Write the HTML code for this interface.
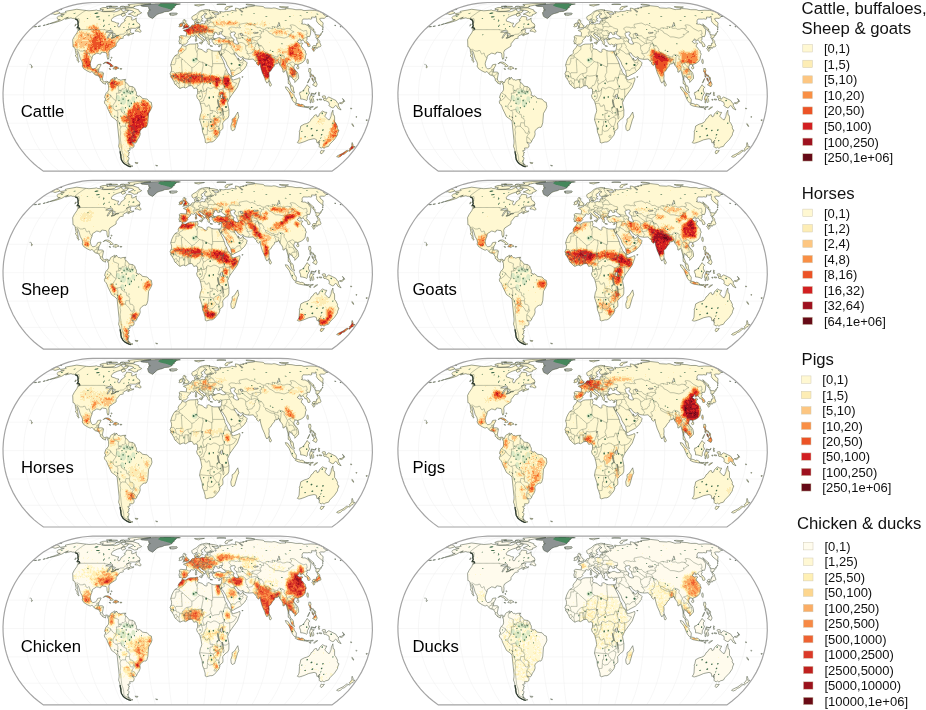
<!DOCTYPE html>
<html><head><meta charset="utf-8"><style>
html,body{margin:0;padding:0;background:#fff;}
body{width:926px;height:710px;overflow:hidden;position:relative;font-family:"Liberation Sans",sans-serif;}
svg{position:absolute;left:0;top:0;filter:blur(0.3px);}
.lb{font-family:"Liberation Sans",sans-serif;font-size:16.7px;fill:#000;}
.lg{font-family:"Liberation Sans",sans-serif;fill:#111;}
</style></head><body>
<svg width="926" height="710" viewBox="0 0 926 710">
<defs>
<path id="frame" d="M92.4 -92.3L100.2 -92L107.6 -91.1L114.6 -89.6L121.3 -87.7L127.5 -85.4L131.5 -83.6L135.4 -81.7L140.8 -78.6L147.6 -74L152.3 -70.3L158.1 -64.9L163.2 -59.2L167.9 -53.2L171.9 -46.8L175.4 -40.3L178.4 -33.6L180.8 -26.7L182.6 -19.7L183.8 -12.6L184.5 -5.4L184.7 1.8L184.3 9L183.3 16.1L181.7 23.2L179.6 30.2L177 37L173.8 43.6L170 50L165.6 56.2L160.7 62.1L155.2 67.6L149.2 72.8L144.3 76.4L-144.3 76.4L-149.2 72.8L-153.8 69L-158.1 64.9L-162 60.6L-165.6 56.2L-168.9 51.6L-171.9 46.8L-174.6 42L-176.2 38.6L-178.4 33.6L-179.6 30.2L-181.3 24.9L-182.2 21.4L-183.3 16.1L-183.8 12.6L-184.4 7.2L-184.6 3.6L-184.7 -1.8L-184.4 -7.2L-184.1 -10.8L-183.3 -16.1L-182.6 -19.7L-181.3 -24.9L-180.2 -28.4L-178.4 -33.6L-177 -37L-174.6 -42L-172.9 -45.2L-170 -50L-167.9 -53.2L-164.5 -57.7L-162 -60.6L-158.1 -64.9L-155.2 -67.6L-149.2 -72.8L-144.3 -76.4L-140.8 -78.6L-133.5 -82.7L-127.5 -85.4L-123.4 -87L-119.1 -88.4L-114.6 -89.6L-110 -90.6L-105.2 -91.5L-100.2 -92L-95 -92.3Z"/>
<path id="grat" d="M-166.8 54.7L166.8 54.7M-180.2 28.4L180.2 28.4M-184.7 0L184.7 0M-180.2 -28.4L180.2 -28.4M-166.8 -54.7L166.8 -54.7M-144.3 -76.4L144.3 -76.4M-112.3 -90.2L112.3 -90.2M-128.3 76.4L-134 71.5L-139.3 66.3L-144 60.6L-148.2 54.7L-152 48.4L-155.2 42L-158 35.3L-160.2 28.4L-161.9 21.4L-163.2 14.3L-163.9 7.2L-164.2 0L-163.9 -7.2L-163.2 -14.3L-161.9 -21.4L-160.2 -28.4L-158 -35.3L-155.2 -42L-152 -48.4L-148.2 -54.7L-144 -60.6L-139.3 -66.3L-134 -71.5L-128.3 -76.4L-122 -80.7L-115.2 -84.5L-107.8 -87.7L-99.9 -90.2L-91.3 -91.8L-82.1 -92.3M-112.2 76.4L-117.3 71.5L-121.9 66.3L-126 60.6L-129.7 54.7L-133 48.4L-135.8 42L-138.2 35.3L-140.2 28.4L-141.7 21.4L-142.8 14.3L-143.4 7.2L-143.7 0L-143.4 -7.2L-142.8 -14.3L-141.7 -21.4L-140.2 -28.4L-138.2 -35.3L-135.8 -42L-133 -48.4L-129.7 -54.7L-126 -60.6L-121.9 -66.3L-117.3 -71.5L-112.2 -76.4L-106.7 -80.7L-100.8 -84.5L-94.3 -87.7L-87.4 -90.2L-79.9 -91.8L-71.8 -92.3M-96.2 76.4L-100.5 71.5L-104.4 66.3L-108 60.6L-111.2 54.7L-114 48.4L-116.4 42L-118.5 35.3L-120.1 28.4L-121.5 21.4L-122.4 14.3L-122.9 7.2L-123.1 0L-122.9 -7.2L-122.4 -14.3L-121.5 -21.4L-120.1 -28.4L-118.5 -35.3L-116.4 -42L-114 -48.4L-111.2 -54.7L-108 -60.6L-104.4 -66.3L-100.5 -71.5L-96.2 -76.4L-91.5 -80.7L-86.4 -84.5L-80.8 -87.7L-74.9 -90.2L-68.5 -91.8L-61.6 -92.3M-80.2 76.4L-83.8 71.5L-87 66.3L-90 60.6L-92.6 54.7L-95 48.4L-97 42L-98.7 35.3L-100.1 28.4L-101.2 21.4L-102 14.3L-102.5 7.2L-102.6 0L-102.5 -7.2L-102 -14.3L-101.2 -21.4L-100.1 -28.4L-98.7 -35.3L-97 -42L-95 -48.4L-92.6 -54.7L-90 -60.6L-87 -66.3L-83.8 -71.5L-80.2 -76.4L-76.2 -80.7L-72 -84.5L-67.4 -87.7L-62.4 -90.2L-57.1 -91.8L-51.3 -92.3M-64.1 76.4L-67 71.5L-69.6 66.3L-72 60.6L-74.1 54.7L-76 48.4L-77.6 42L-79 35.3L-80.1 28.4L-81 21.4L-81.6 14.3L-82 7.2L-82.1 0L-82 -7.2L-81.6 -14.3L-81 -21.4L-80.1 -28.4L-79 -35.3L-77.6 -42L-76 -48.4L-74.1 -54.7L-72 -60.6L-69.6 -66.3L-67 -71.5L-64.1 -76.4L-61 -80.7L-57.6 -84.5L-53.9 -87.7L-49.9 -90.2L-45.7 -91.8L-41 -92.3M-48.1 76.4L-50.3 71.5L-52.2 66.3L-54 60.6L-55.6 54.7L-57 48.4L-58.2 42L-59.2 35.3L-60.1 28.4L-60.7 21.4L-61.2 14.3L-61.5 7.2L-61.6 0L-61.5 -7.2L-61.2 -14.3L-60.7 -21.4L-60.1 -28.4L-59.2 -35.3L-58.2 -42L-57 -48.4L-55.6 -54.7L-54 -60.6L-52.2 -66.3L-50.3 -71.5L-48.1 -76.4L-45.7 -80.7L-43.2 -84.5L-40.4 -87.7L-37.4 -90.2L-34.2 -91.8L-30.8 -92.3M-32.1 76.4L-33.5 71.5L-34.8 66.3L-36 60.6L-37.1 54.7L-38 48.4L-38.8 42L-39.5 35.3L-40 28.4L-40.5 21.4L-40.8 14.3L-41 7.2L-41 0L-41 -7.2L-40.8 -14.3L-40.5 -21.4L-40 -28.4L-39.5 -35.3L-38.8 -42L-38 -48.4L-37.1 -54.7L-36 -60.6L-34.8 -66.3L-33.5 -71.5L-32.1 -76.4L-30.5 -80.7L-28.8 -84.5L-26.9 -87.7L-25 -90.2L-22.8 -91.8L-20.5 -92.3M-16 76.4L-16.8 71.5L-17.4 66.3L-18 60.6L-18.5 54.7L-19 48.4L-19.4 42L-19.7 35.3L-20 28.4L-20.2 21.4L-20.4 14.3L-20.5 7.2L-20.5 0L-20.5 -7.2L-20.4 -14.3L-20.2 -21.4L-20 -28.4L-19.7 -35.3L-19.4 -42L-19 -48.4L-18.5 -54.7L-18 -60.6L-17.4 -66.3L-16.8 -71.5L-16 -76.4L-15.2 -80.7L-14.4 -84.5L-13.5 -87.7L-12.5 -90.2L-11.4 -91.8L-10.3 -92.3M0 76.4L0 71.5L0 66.3L0 60.6L0 54.7L0 48.4L0 42L0 35.3L0 28.4L0 21.4L0 14.3L0 7.2L0 0L0 -7.2L0 -14.3L0 -21.4L0 -28.4L0 -35.3L0 -42L0 -48.4L0 -54.7L0 -60.6L0 -66.3L0 -71.5L0 -76.4L0 -80.7L0 -84.5L0 -87.7L0 -90.2L0 -91.8L0 -92.3M16 76.4L16.8 71.5L17.4 66.3L18 60.6L18.5 54.7L19 48.4L19.4 42L19.7 35.3L20 28.4L20.2 21.4L20.4 14.3L20.5 7.2L20.5 0L20.5 -7.2L20.4 -14.3L20.2 -21.4L20 -28.4L19.7 -35.3L19.4 -42L19 -48.4L18.5 -54.7L18 -60.6L17.4 -66.3L16.8 -71.5L16 -76.4L15.2 -80.7L14.4 -84.5L13.5 -87.7L12.5 -90.2L11.4 -91.8L10.3 -92.3M32.1 76.4L33.5 71.5L34.8 66.3L36 60.6L37.1 54.7L38 48.4L38.8 42L39.5 35.3L40 28.4L40.5 21.4L40.8 14.3L41 7.2L41 0L41 -7.2L40.8 -14.3L40.5 -21.4L40 -28.4L39.5 -35.3L38.8 -42L38 -48.4L37.1 -54.7L36 -60.6L34.8 -66.3L33.5 -71.5L32.1 -76.4L30.5 -80.7L28.8 -84.5L26.9 -87.7L25 -90.2L22.8 -91.8L20.5 -92.3M48.1 76.4L50.3 71.5L52.2 66.3L54 60.6L55.6 54.7L57 48.4L58.2 42L59.2 35.3L60.1 28.4L60.7 21.4L61.2 14.3L61.5 7.2L61.6 0L61.5 -7.2L61.2 -14.3L60.7 -21.4L60.1 -28.4L59.2 -35.3L58.2 -42L57 -48.4L55.6 -54.7L54 -60.6L52.2 -66.3L50.3 -71.5L48.1 -76.4L45.7 -80.7L43.2 -84.5L40.4 -87.7L37.4 -90.2L34.2 -91.8L30.8 -92.3M64.1 76.4L67 71.5L69.6 66.3L72 60.6L74.1 54.7L76 48.4L77.6 42L79 35.3L80.1 28.4L81 21.4L81.6 14.3L82 7.2L82.1 0L82 -7.2L81.6 -14.3L81 -21.4L80.1 -28.4L79 -35.3L77.6 -42L76 -48.4L74.1 -54.7L72 -60.6L69.6 -66.3L67 -71.5L64.1 -76.4L61 -80.7L57.6 -84.5L53.9 -87.7L49.9 -90.2L45.7 -91.8L41 -92.3M80.2 76.4L83.8 71.5L87 66.3L90 60.6L92.6 54.7L95 48.4L97 42L98.7 35.3L100.1 28.4L101.2 21.4L102 14.3L102.5 7.2L102.6 0L102.5 -7.2L102 -14.3L101.2 -21.4L100.1 -28.4L98.7 -35.3L97 -42L95 -48.4L92.6 -54.7L90 -60.6L87 -66.3L83.8 -71.5L80.2 -76.4L76.2 -80.7L72 -84.5L67.4 -87.7L62.4 -90.2L57.1 -91.8L51.3 -92.3M96.2 76.4L100.5 71.5L104.4 66.3L108 60.6L111.2 54.7L114 48.4L116.4 42L118.5 35.3L120.1 28.4L121.5 21.4L122.4 14.3L122.9 7.2L123.1 0L122.9 -7.2L122.4 -14.3L121.5 -21.4L120.1 -28.4L118.5 -35.3L116.4 -42L114 -48.4L111.2 -54.7L108 -60.6L104.4 -66.3L100.5 -71.5L96.2 -76.4L91.5 -80.7L86.4 -84.5L80.8 -87.7L74.9 -90.2L68.5 -91.8L61.6 -92.3M112.2 76.4L117.3 71.5L121.9 66.3L126 60.6L129.7 54.7L133 48.4L135.8 42L138.2 35.3L140.2 28.4L141.7 21.4L142.8 14.3L143.4 7.2L143.7 0L143.4 -7.2L142.8 -14.3L141.7 -21.4L140.2 -28.4L138.2 -35.3L135.8 -42L133 -48.4L129.7 -54.7L126 -60.6L121.9 -66.3L117.3 -71.5L112.2 -76.4L106.7 -80.7L100.8 -84.5L94.3 -87.7L87.4 -90.2L79.9 -91.8L71.8 -92.3M128.3 76.4L134 71.5L139.3 66.3L144 60.6L148.2 54.7L152 48.4L155.2 42L158 35.3L160.2 28.4L161.9 21.4L163.2 14.3L163.9 7.2L164.2 0L163.9 -7.2L163.2 -14.3L161.9 -21.4L160.2 -28.4L158 -35.3L155.2 -42L152 -48.4L148.2 -54.7L144 -60.6L139.3 -66.3L134 -71.5L128.3 -76.4L122 -80.7L115.2 -84.5L107.8 -87.7L99.9 -90.2L91.3 -91.8L82.1 -92.3" fill="none" stroke="#ececec" stroke-width="0.45"/>
<path id="land" d="M-81.4 -88.4L-79.1 -88.2L-75.8 -88.5L-76.9 -88.9ZM-64.9 -88L-64 -88.5L-65.8 -88.6L-67.5 -88ZM-75.1 -88.5L-78.8 -87.7L-73 -87.6L-70.2 -88L-70.2 -88.4ZM-66 -86.6L-66 -85.9L-63.3 -86L-62 -87L-63.9 -87.1ZM-70.4 -86.6L-71.2 -85.9L-68.1 -85.9L-66.6 -86.7L-67.6 -87.1ZM-81.6 -87.3L-84.8 -87.2L-87.7 -86.1L-87.6 -85.3L-84.2 -85.4L-85.7 -84L-82.8 -83.4L-76.8 -83.6L-72.9 -84.4L-71 -86.3L-75.7 -86.8L-80.9 -86.2L-79.8 -86.8ZM-127.7 -85.1L-126.4 -85.2L-125.7 -85.3L-125.7 -85.5L-126.8 -85.5ZM-134.9 -81L-132.7 -80.2L-127.8 -81.6L-127.9 -82.3L-129 -82.7L-129.7 -83.4L-131.3 -83.7L-136.5 -81.1L-136.5 -80.7ZM-63.2 -81.7L-65.6 -81.1L-66.5 -79.6L-65.1 -78.3L-62.1 -79.7ZM-141.3 -69.9L-139.4 -70.6L-138.6 -71L-141.2 -70.2ZM-112.8 -68.6L-111.3 -70.5L-112.2 -70.6ZM-142.3 -69.7L-142.4 -69.9L-144.4 -69.4L-144.5 -69.1ZM-149.5 -68.5L-149.7 -68.2L-147.1 -68.8L-148.7 -68.6ZM-153.5 -67.9L-151.1 -68.1L-151.1 -68.3L-153.3 -68.2ZM-154.2 -68L-153.9 -68.3L-154.9 -67.9ZM-111.1 -67.1L-109.7 -65L-108.7 -64.6L-109.8 -64.5L-110.8 -62L-113.4 -58.3L-115 -55.2L-114.7 -47.8L-113.8 -47.7L-113 -47L-112.5 -45.5L-112.1 -42.4L-111.4 -40L-112.6 -39L-111.1 -37.7L-110.5 -36.4L-110.7 -34.7L-109.4 -33.2L-109.2 -32.4L-108.6 -33.2L-109.2 -34.2L-109.5 -35.8L-110.3 -41.3L-110.8 -43L-110.5 -44.3L-109.3 -42.6L-107.4 -36.1L-105.6 -32.8L-105.1 -30.5L-105.2 -29.3L-105.7 -29L-104 -26.1L-100.8 -24L-97.5 -22.4L-96.1 -23.1L-95.4 -23.1L-92.8 -20L-89 -18.8L-87.3 -15.8L-87.4 -14.3L-86.4 -13.8L-85.5 -12.3L-84.6 -11.6L-82.2 -10.5L-82.2 -11.8L-81.2 -12.8L-80.2 -11.8L-79.2 -9.3L-79 -5.6L-79.6 -3.7L-81.7 -1.4L-82.8 1.4L-83 3.2L-82.1 3.6L-82.3 4.9L-83.3 6.8L-83 8.6L-81.8 9.8L-80.7 11.6L-80.1 13.6L-76.1 21.9L-73.1 24L-70.6 26.3L-68.6 45.9L-68.6 48.4L-69.1 51.6L-68 54.4L-67.4 58.3L-66.6 59.5L-66.7 61.2L-67.3 62.4L-66.2 63.5L-66.4 64.6L-64.8 67.4L-63.3 69.1L-59 71.5L-57.3 71.9L-56.2 71.8L-54.7 71.2L-55.9 71.1L-58 69.9L-58.6 69.1L-59 69.9L-60.1 69.3L-58.5 68.7L-59.5 68L-59.5 66.5L-58.5 63L-60.4 61.7L-58.8 60.6L-59 58.4L-58 57.8L-59 57.5L-59.9 55.9L-57.5 55.3L-58.1 53.2L-55 53.1L-53.8 52.2L-53.5 50.1L-54.4 48.8L-55.6 47.9L-55.8 47.3L-53.4 48.3L-52.3 48.3L-51.6 47.9L-50.1 44.7L-48.6 42.6L-47.6 40.1L-47.5 38.8L-47.8 37.2L-47.3 35.7L-45.8 33.9L-44.4 33L-42.9 32.4L-41.7 32.6L-40.8 31.2L-39.8 27.7L-39.1 18.6L-36.4 13.9L-35.7 11.6L-36.4 7.5L-38.1 7L-40.5 4.3L-45.4 3.6L-45.7 2.9L-48.2 1L-49.8 1.9L-49.8 0.9L-51.8 0.3L-51.2 -0.7L-51.3 -2.6L-52.3 -4.3L-52.7 -6.2L-54.8 -8L-58.4 -8.6L-61.1 -11.9L-62.3 -12.3L-63 -14.5L-62.2 -14.5L-62.1 -15.5L-63.1 -15.3L-63.1 -15L-63.2 -15.3L-65.4 -15.1L-66.8 -14.5L-68.3 -15.2L-69.3 -15.1L-70.7 -16.5L-71.2 -17.5L-71.4 -16.6L-72.3 -16.1L-72.9 -15.1L-73.1 -15.8L-72.5 -16.9L-73.1 -17.8L-74.3 -16.5L-76.2 -15.8L-77 -14.9L-78.5 -11.8L-79.6 -13.2L-81.5 -13.5L-83.2 -12.8L-84.7 -14.3L-85.3 -15.8L-84.2 -21.4L-84.9 -22.6L-86.9 -22.8L-89.4 -22.6L-88.6 -26.3L-86.7 -29.9L-86.7 -30.6L-89.5 -30.2L-90.3 -29.8L-90.7 -28.1L-92.4 -26.5L-94.9 -25.8L-96.4 -27.3L-97.2 -29.5L-97.4 -31.5L-96.7 -33.9L-95.7 -36.5L-95.2 -39L-91.1 -41.6L-89.4 -41.4L-88.1 -40.8L-86.8 -40.8L-86.5 -42.2L-85.2 -42.6L-81.5 -42L-80.8 -40.8L-80.7 -37.9L-79.8 -35.4L-78.9 -36.4L-78.6 -40L-78.9 -42.4L-78 -44.6L-71.6 -48.7L-71.5 -51.1L-68.6 -54.7L-68.3 -55.4L-67.1 -56.1L-64.8 -56.5L-64.2 -56.9L-64.9 -57.5L-63.7 -59.1L-59.3 -60.9L-57.8 -61L-59.4 -60.2L-59.9 -59.2L-59.6 -58.8L-57.4 -60.2L-54.8 -60.9L-53.7 -61.8L-54.7 -61.3L-57.2 -62L-57.5 -62.9L-57.4 -64.1L-56.6 -65L-58.2 -65.3L-61.5 -64.2L-57.8 -66.5L-52.1 -66.5L-50 -67.6L-48.2 -68L-47.7 -69L-48.4 -71L-50.2 -72L-51 -73L-51.6 -75L-51.4 -76.7L-53.5 -75.2L-55.8 -74.6L-56.2 -75.4L-55.6 -77.3L-56.7 -78L-61 -78.5L-61.8 -76.8L-63.4 -75L-62.8 -74L-64.1 -72.5L-66.4 -71L-68 -67.9L-69.4 -67.7L-70.1 -69.3L-68.9 -71.6L-71 -71.8L-73.3 -72.9L-76.1 -73.6L-76.3 -75.2L-74.6 -77.4L-70.4 -79.3L-67.1 -80.3L-64.6 -81.9L-62.4 -81.8L-60.4 -82.7L-59.2 -84.4L-61.3 -84.4L-64.3 -83.3L-65.9 -84.2L-66.2 -85.8L-68.8 -84.2L-70.9 -83.3L-73.1 -82.9L-76.5 -83.2L-84.8 -83.1L-87.2 -84L-89.8 -84.2L-91.4 -84.9L-92.8 -84.5L-98.8 -84L-110.9 -85.5L-121.1 -83.7L-122.5 -83.3L-121.4 -82.2L-127.2 -81.2L-126.8 -80.3L-123.4 -80.3L-124 -79.9L-129.3 -78.6L-130.9 -77.1L-130 -76.3L-129.7 -75.2L-127.4 -75.2L-130.6 -73.7L-138.3 -71L-132.3 -72.3L-128.5 -73.5L-125.7 -74.5L-122.6 -76.4L-119.3 -77.5L-121.1 -76.8L-122.3 -75.6L-116.7 -77L-115.4 -76.4L-113.8 -76.4L-112.5 -75.9L-111.6 -75.1L-110.2 -74.5L-109.5 -71.7L-109.8 -70L-109.2 -69L-110.2 -67.4L-108.8 -66.8L-107.8 -65.2L-108.5 -64.6L-109 -66.4L-110 -67ZM-75.4 -62.4L-82 -62.6L-77.9 -64.5L-76 -64.8L-74.9 -63.5ZM-75 -60.8L-75.8 -61.7L-74.6 -61.9L-72.2 -60.9L-74.3 -58.5L-75.1 -58.3L-74.7 -59.5L-75.6 -59.5ZM-79.7 -56.7L-80.7 -56.7L-78.7 -60.6L-77.4 -61.7L-76.1 -61.6L-77.4 -60.6ZM-69.3 -58.9L-72.6 -58.7L-71.9 -59.1L-69.1 -59.6ZM-74.8 -56.7L-76.7 -56.6L-72 -58.2L-73.9 -57.2ZM-69.5 23.3L-70.1 23.1L-70.8 22.3L-70.7 21.9ZM-76.8 -37.2L-76 -36.5L-75.6 -37.4L-76.5 -37.7ZM-77.4 -35L-77.3 -33.9L-76.9 -34.1L-77.2 -35.4ZM-157.3 -30.4L-157.8 -30.6L-157.8 -30.2ZM-78.6 -30.5L-77.2 -29.3L-77.8 -28.1L-75.1 -28.3L-74.3 -28.7L-77.6 -31.6L-79.9 -32.7L-81.8 -32.7L-83.5 -32.1L-84.6 -31L-81.9 -32.1ZM-156.5 -29.8L-156.4 -29.3L-155.9 -29.5ZM-155.3 -28.1L-156 -28.7L-156.4 -27.7L-156.2 -26.9L-155.2 -27.7ZM-68.6 -26.5L-70.8 -28.1L-72.9 -28.3L-74.8 -25.9L-73.2 -25.8L-71.9 -25.1L-70.3 -26.2ZM-66.1 -25.6L-65.9 -26.2L-67.5 -26.3L-67.6 -25.6ZM-77.4 -25.4L-76.8 -25.6L-78.7 -26.2L-78.6 -25.9ZM29.1 -90.4L38.3 -90.4L36.5 -90.7L31.6 -90.8ZM-59.8 -90L-58.4 -89.4L-57.6 -89.5L-58.6 -88.6L-63.8 -88.3L-62.3 -87.5L-54.3 -87.4L-53 -88.4L-54 -88.4L-47.6 -89.7L-36.6 -91L-44.4 -91.3L-50.8 -91.1L-59.6 -90.3ZM60.3 -89.7L67.1 -89.5L63.2 -90.3L59.9 -90.6L58.2 -90.4ZM12.8 -89.4L16.8 -90.2L6.9 -90L7 -89.5L11.2 -88.6ZM41 -87.1L44.8 -88.5L44.8 -88.8L39.3 -88.2L38 -87.4L37.1 -85.5L37.8 -85L39.8 -85.2L40.1 -86.2ZM-24.8 -91.3L-36.3 -90.8L-46.9 -89.4L-46.8 -89L-45.5 -88.5L-40 -88.2L-39 -87.4L-38.7 -85.2L-37.2 -84.9L-39.1 -84.2L-38.8 -83.4L-40.1 -82.2L-39.7 -80.1L-39.1 -78.6L-38.3 -77.7L-36.6 -77.1L-35.3 -76.2L-30.7 -80.3L-28.5 -81.2L-25.5 -81.9L-22.9 -83.1L-19.1 -83.4L-15.7 -84.9L-14.9 -86.5L-13.2 -87.4L-13.6 -88.3L-12 -89L-12 -89.8L-10.5 -90.4L-7.3 -90.8L-14.8 -91.3ZM-46.2 -82.3L-48.7 -83.4L-48.7 -84.8L-54.9 -86.9L-59.2 -86.8L-62.7 -86.2L-62.6 -85.2L-55.8 -84.2L-53.8 -83.1L-59.4 -80.6L-57.1 -80.3L-53.3 -78.4L-50.2 -79L-50.2 -80.3L-48.5 -80.6L-46.3 -81.7ZM-14.5 -79.4L-11.1 -80.2L-10.3 -80.9L-10.9 -81.8L-16.5 -81.8L-18.2 -81.3L-17.1 -81.1L-18.3 -80.6L-16.9 -79.9L-17.5 -79.7ZM14.8 -74.4L15.1 -73.4L15.5 -73.9ZM10.4 -71.8L10.5 -72.5L9.1 -72.4L9.4 -71.7ZM-5 -66.4L1.2 -67.5L0.8 -67.9L1.5 -69L1.1 -69.4L0.3 -69.4L-0.5 -71L-2.2 -72.5L-1.5 -74L-3.1 -74.1L-2.5 -74.9L-2.8 -75.2L-4.1 -75.1L-4.7 -74L-4.8 -71.8L-4 -72.4L-4.2 -71.4L-2.9 -71.4L-2.5 -69.9L-3.9 -69.8L-3.5 -69L-4.5 -68.3L-2.6 -67.9L-3.6 -67.6ZM-7.1 -71.5L-7.2 -70.8L-8.4 -70.7L-8.5 -70L-7.7 -69.6L-8.9 -68.5L-8.4 -67.8L-5.5 -68.6L-4.8 -71.1L-5 -71.7L-6.1 -71.9ZM-47.1 -64.6L-48.8 -66.2L-47.7 -68L-49.6 -67L-52.3 -64.5L-52.5 -63.6L-49.6 -63.6L-48.9 -62.8L-47.2 -62.6L-46.6 -63.5ZM8.6 -58.3L7.8 -58.2L7.9 -57L8.5 -56.4L8.7 -57.1ZM7.6 -55.9L7.8 -53.5L9 -53.7L9 -56ZM12.4 -52.5L11.6 -52L11.7 -51.7L14.2 -50.6L14.2 -51.6L14.6 -52.6ZM22.3 -48.8L24.7 -48.4L24.9 -48.8L22.3 -49.2ZM30.8 -48.1L31.4 -47.9L32.3 -48.4L32.8 -49.3L31.3 -49L30.7 -48.4ZM34 -39.3L34.9 -38.5L37.7 -34.1L38.8 -32L39.1 -30.5L43 -24.1L44.1 -18.2L45.7 -18.3L46.2 -18.9L52.8 -22.3L57.1 -26.5L57.8 -28L58.8 -29.1L58.7 -29.9L59.5 -31.9L58.1 -33.4L56.1 -34.5L55.5 -36L55.4 -37.2L53.8 -34.6L52.1 -34.2L50.8 -36.5L50.4 -36.8L50.9 -35.7L50.7 -34.6L50.2 -35L49.2 -37.2L47.9 -38.8L46.6 -41L47.1 -41.8L48.5 -42L50.1 -39.3L53 -37.4L54 -37.6L55.2 -38.2L57 -36.1L61.5 -35.4L65.6 -35.8L66.7 -34.2L68 -33.2L68.8 -32.3L69.6 -32.3L68.7 -31.6L69.9 -29.9L71 -29.4L71.9 -30.2L72.3 -31.5L73.1 -27L74.6 -22.1L77.2 -16.2L77.7 -14.2L79.2 -11.6L79.9 -12.6L80.6 -12.9L81.5 -14.8L81.2 -16.8L81.5 -18.8L81.2 -22.1L82 -23.1L82.9 -23.7L84.8 -26.8L86.7 -28.8L86.8 -30.4L90.1 -31.2L90.4 -32.3L91.4 -31.6L92.2 -29.8L94.4 -26.8L95.2 -24.9L95.2 -22.8L96.4 -22.6L97 -24L97.8 -24.2L98.5 -23.5L100.6 -16.5L100.5 -11.3L101.2 -11.3L102 -9.8L102.7 -9.3L102.7 -7.8L104 -4.3L106.1 -2.2L106.5 -1.9L106.9 -2L106 -4L105.6 -7.6L103.9 -9.8L102.9 -10.3L102.5 -12.1L101.1 -15.1L101.5 -18.9L102 -19.3L102.4 -19.2L102.6 -18L104.2 -17.5L105.3 -15.5L106.5 -14.9L107.1 -14.2L107.1 -12.3L108.9 -14.1L109.2 -14.9L110.9 -16.2L110.9 -18.6L110.2 -21.4L109.3 -23L107.4 -24.8L106.2 -26.6L106.2 -28.3L107.2 -30.5L109.4 -30.5L110.3 -28.8L110.2 -30.2L113.6 -31.6L115.8 -33.1L117.4 -35.3L118 -39.3L118.5 -40.1L118.3 -41.8L117.2 -42.6L117.8 -43.1L117.6 -43.9L116.1 -45.4L114.6 -47.6L113.6 -48.1L113.7 -49.7L115.2 -51.5L113.2 -52L112.3 -51.2L110.1 -52.6L109.6 -53.5L110.3 -53.6L111.3 -54.9L111.6 -55.9L112.8 -55.5L112.4 -54.3L113.3 -53.3L113.9 -54.7L115.3 -54.7L116.9 -53L117.1 -52.1L118.8 -51.6L119.5 -50.8L120.2 -48.2L121.3 -48.1L122.5 -48.6L122.3 -49.7L121.7 -51.1L118.3 -54.4L119.6 -55.7L119.1 -56.9L120.1 -58.4L121.8 -58.1L122.8 -60.6L123.1 -65.1L121.4 -67.4L121 -68.7L117.2 -70.7L116.1 -70.5L113.7 -71.1L114.7 -71.5L114.4 -72.9L114.5 -74.3L115.4 -75.8L119.8 -75.7L121.3 -76L122.7 -75.6L124 -75.9L123.9 -77.8L127.5 -77.5L128 -78.8L128.6 -78.2L128.3 -76.9L128.8 -76.3L128.9 -75.1L129 -74.5L128.6 -74L130.3 -71.5L135.4 -67.4L135.1 -69.5L135.5 -71.5L134.8 -72.7L132.5 -74.3L132.9 -74.6L131.7 -75.9L132.3 -76.4L134.3 -76.6L136.7 -76.4L138.4 -78.2L140.4 -78.4L137.7 -78.9L135.7 -80.5L136.7 -80.4L136.5 -81.1L131.3 -83.7L127 -84.4L122.2 -84.6L116.3 -84.2L113.7 -85.1L108.2 -85.1L104.4 -85.9L98.7 -86.3L97.6 -86.2L98.2 -85.5L93.9 -85.5L93.5 -85.2L92.4 -85.2L87.4 -86.8L85.2 -86.9L84.5 -86.5L76.8 -86.9L76.7 -87.4L75.4 -88.3L67.5 -89.1L65.3 -88.5L57.9 -87.7L59.4 -87.1L55 -86.8L56.1 -86.2L52.6 -86.2L51.7 -85.7L53.3 -84.9L53.2 -84.2L54.8 -83.7L55.1 -82.8L53.8 -82.7L53.5 -83.8L52 -84.5L50.8 -86.2L47.8 -86.8L47.6 -85.1L48.5 -84.4L48.6 -83.7L44 -84.5L42.7 -83.7L39.7 -83.3L38.8 -83.4L35.5 -82.8L31.9 -83.4L33.3 -81.6L31.9 -81.8L30.4 -81L31 -80.4L29.2 -80.2L29 -79.7L26.7 -80.3L26.3 -81.4L24.1 -82.4L27.8 -81.7L30.1 -81.8L30.8 -82.2L30.3 -82.9L26.2 -83.9L21.3 -84.4L22.3 -84.8L18.3 -85.3L13.7 -84.3L11.4 -83.3L8.6 -80.7L4.9 -78.6L4 -77.7L4.6 -75.3L5.7 -74.5L8.3 -75.4L8.6 -76.3L11 -71.9L11.9 -72.1L13.5 -73.2L13.6 -75.1L14.6 -75.7L14.8 -76.5L13.6 -77L13.5 -78.5L15.7 -79.7L16.7 -81.2L18.2 -81.4L19.4 -80.7L18.7 -80.6L16.8 -79.1L17 -77.5L17.7 -76.7L18.5 -76.2L22.9 -77L24.2 -76.3L19.9 -75.8L19 -75.2L19.9 -74.9L19.8 -73.5L18.5 -74.3L17.7 -73.8L17.4 -73L17.6 -72.2L17.2 -71.4L16.5 -71L15.7 -70.9L14.7 -71.3L12.1 -70.4L11.4 -71.1L9.2 -70.5L8.2 -71.3L8.8 -72.3L8.5 -72.7L8.7 -74.2L7.1 -73.6L6.7 -73L7.4 -70.4L5.9 -69.9L4.7 -69.9L4.1 -69.5L3.1 -67.8L1.6 -67.4L1 -66.2L-1 -65.6L-1.4 -65.9L-1.8 -64.7L-2.6 -65L-4.2 -64.5L-4.1 -64.1L-2 -63.2L-1.1 -62L-1.4 -58.9L-1.8 -58.7L-7 -59.2L-8.5 -58.2L-8 -56L-8.9 -53.1L-8.2 -52.8L-8.4 -51L-6.6 -51.2L-5.3 -49.7L-4.1 -50.6L-2.1 -50.6L0.2 -53.1L-0.3 -54.1L2.9 -57.5L2.7 -58.2L3.5 -58.9L5.9 -58.4L8 -59.9L9.4 -58.9L10.1 -57.6L14.4 -54.8L14.6 -53.3L14.6 -52.2L15.9 -53.5L15.4 -54.2L15.9 -55.2L17.1 -54.4L17.1 -54.8L15.6 -56L14.9 -57L13.7 -57.1L13 -57.7L12.3 -59L11.1 -59.9L11 -61.1L12.3 -61.3L12.4 -60.5L13.1 -60.6L13.8 -59.6L17.9 -56.9L17.9 -55.3L20.3 -52.5L20 -52L20.4 -50.7L21.2 -50.2L21.9 -50.2L21.8 -51.6L22.4 -52.5L21.6 -53.2L20.9 -54.7L21.1 -55.4L22 -54.7L22 -55.5L22.5 -55.8L23.9 -55.7L24.5 -55.2L24.2 -54.6L24.8 -53.8L24.5 -53.2L25.5 -52.1L25.8 -51L26.6 -50.6L27.8 -50.1L28.9 -50.8L30.7 -49.8L31.6 -50L32.6 -50.7L34.1 -50.5L33.9 -47L33.2 -43.9L31.2 -43.7L31.6 -41.8L33.5 -39.2L34 -41.3ZM25.9 -77L24.4 -76.5L23.9 -76.9L24.1 -77.5L25.7 -77.5ZM26.1 -55.1L24.7 -55.2L25.3 -55.9L26.7 -55.9L27.6 -55.5ZM28.5 -77.6L27.6 -77.3L27.1 -78.5L27.6 -79L28.2 -78.3ZM92 -70L90.1 -67.8L89.3 -68L90.8 -71L90.9 -72.3L91.7 -72ZM70.5 -61.8L66.8 -61.2L65.6 -62L66.8 -62.5L68.7 -62.3L70.4 -62.5ZM53 -59.5L52.3 -61.2L53.3 -61.6L54.8 -61L55.4 -59.5L54.3 -59ZM26.8 -56.1L25.7 -56.6L25.1 -57.7L27.4 -62.4L28.1 -62.5L29.5 -61.9L29.2 -61.1L30.2 -60.2L31.1 -60.1L32.8 -61L31.7 -61.1L31.2 -62.1L32.9 -63L34.9 -63.2L34.1 -62.4L33.7 -61L34.1 -60.3L38.2 -57.2L38.2 -56.6L37.3 -55.9L35 -55.8L33.4 -56.3L32.2 -57.1L30.2 -57.1L29.2 -56.5ZM42.8 -60.1L42.3 -60.6L42.5 -61.6L43.7 -62.4L46.1 -63L47.2 -62.7L47.8 -61L46.3 -60.1L46.5 -59L49.2 -56.5L49.1 -54.7L50.3 -52.8L50.9 -50.7L48.5 -50.6L46.6 -51.6L45.7 -52.7L46.1 -55.2L46.6 -55.2L45.6 -55.8L43.3 -58.3ZM55.4 -18L54.2 -18L54.2 -17.6L55.1 -17.6ZM23.7 -44.4L21.7 -45.6L20.1 -45.8L19.2 -44.7L19.5 -43L18.4 -42.4L16 -43.5L14.6 -45.1L11 -46.1L9.6 -47L10.5 -48.8L9.9 -50.2L10.4 -51.1L9.3 -51.4L7.3 -50.8L2.8 -50.7L0.9 -50.3L-1.9 -48.6L-3.8 -48.7L-5 -49.6L-5.5 -49.5L-6.5 -47.2L-8.8 -45L-9.6 -42.8L-9.3 -42.5L-9.5 -41.3L-10.8 -40L-12.6 -39.2L-14.3 -36.8L-15.9 -33.5L-17 -29.5L-16.3 -27.7L-16.1 -25.8L-16.3 -24L-17.7 -21L-16.8 -19.2L-17 -17.6L-15.9 -16.9L-15.3 -15.5L-14 -13.6L-12.8 -10.6L-11.7 -9.9L-9.5 -7.5L-7.7 -6.3L-5.6 -7.3L-4.1 -7.6L-2 -6.8L1.2 -8.8L3.5 -9.2L4.6 -8.9L6.1 -6.2L8.5 -6.9L9.4 -5.6L9.9 -5.8L9.9 -1.4L8.9 0.9L9.7 3.6L10.8 4.6L12.1 6.9L13.2 10.8L14.1 15.8L13.6 18L12.7 19.9L11.9 24.7L14.4 32.4L14.9 37.4L16.1 40.1L17.4 44.6L17.6 47.6L19 48.2L22.4 47.2L24.4 47.2L26.7 45.9L31.3 40.4L32.2 37.7L32.1 36.6L35.2 33.8L35.3 31.2L34.9 28.1L36.3 26.8L37.1 25.5L40.3 23.1L41.2 20.7L41.3 15.1L39.8 7.9L42.1 2.9L49.7 -7.6L52.3 -14.9L52.2 -16.9L51.4 -17L50.1 -16.2L45.9 -14.9L44.9 -14.9L43.9 -16.6L43.4 -18.6L39.9 -22.3L38.8 -25.4L37.3 -27.9L37 -29.8L35.5 -33.8L31.7 -41.3L31.2 -43.7L26.1 -43.7ZM14.7 -19.5L15.1 -18.9L14.4 -17.9L13.7 -18.3ZM33.4 3.7L32.5 2.6L33 0L33.7 -0.4L34.8 -0.3L35.1 0.4L34.4 3.6ZM30.1 8.4L29.8 4.9L30.3 4.7L31.8 12.2L31.3 12.6ZM35.3 20.4L34.6 14.3L34.8 13.6L35.5 16.5L35.7 20.3ZM44.5 27L43.1 31.2L43.5 34.6L44.6 36L46.9 35L49.8 24.9L51.1 22.1L50.1 17.2L46.8 22.6L44.4 24.2ZM-51.8 68.6L-50.1 68.7L-49.7 67.9L-52.8 67.7ZM-31.5 71L-30.1 71.2L-30.3 70.7L-32.1 70.5ZM97.3 -87L100.8 -87.8L93.8 -88.2L91.6 -88L94.1 -87.2ZM126.5 -65.2L120.1 -70.9L119.9 -70.7L127 -61.8L127.8 -62.5L125.3 -65.2ZM129.9 -46.5L130.4 -47.9L132.1 -47.9L132.8 -48.3L133.3 -49.3L132 -52.5L132.1 -53.6L129.5 -56.5L129.3 -55.9L130.5 -52.8L130.1 -51.5L128.9 -51.6L128.8 -49.3L125.6 -49.1L124.7 -47.9L124.9 -47.4L126 -47L127.5 -47.6L126.7 -47.3L126.8 -46.3L127.6 -45.5L128.5 -46.1L128.6 -46.9L127.7 -47.6L128.6 -47.6ZM126.2 -46.1L125 -47L124 -46.3L124.9 -45.4L125.6 -43.8L126.3 -43.3L126.8 -43.9ZM120.4 -35.3L119.8 -35.7L119.5 -35.3L119.1 -33.4L119.5 -32L120.3 -31L120.7 -32.8ZM108.9 -27.3L109.2 -26.3L110.1 -25.9L111 -26.3L111.2 -27.9L110.1 -28.6ZM123.5 -19.9L124.9 -18.6L126.1 -18L125.8 -19.6L123.7 -20L122.8 -22.6L123.3 -24.2L122.8 -26.3L121.2 -26.3L121 -23.1L122.2 -22.1L122.2 -20.3ZM123.4 -18.9L122.2 -19.3L122.4 -18L123.2 -17.5ZM126.8 -16.5L126.8 -15.1L127.5 -14.3L128 -15.8L127.6 -17.5L126.3 -17.9ZM125.3 -15.5L125.3 -16.5L124.1 -16.9L124.3 -15.1L125.1 -15.2L124.9 -14.1L125.8 -13.1L126 -14.6ZM120.2 -11.8L121.7 -15.1L121.9 -16.3L119.7 -12.1ZM83.8 -10.1L81.8 -14.1L81.5 -14.1L81.4 -11.8L81.9 -9.3L82.4 -8.5L83.2 -8.9ZM129.5 -10.5L128 -14.1L127.2 -12.2L126.2 -12.3L126.3 -11.1L124.8 -10.1L128.4 -8ZM114.6 4.3L117.5 5L118.9 5.8L119.5 5L119.8 1.9L120.6 0.7L121 -0.7L122 -1.4L120.8 -3.9L120.9 -6.2L122.2 -7.5L120.8 -8.3L119.5 -10.1L115.9 -4.6L114.2 -3.5L113.2 -2.3L112.4 -3L111.7 -1.2L112.9 1.9L113 4.3ZM127.2 -0.7L123.8 -1.7L123.5 -0.4L124.2 -0.7ZM127.6 -0.7L127.6 -0.7L127.7 -0.8ZM127.2 -0.7L127.5 -0.6L127.6 -0.7ZM123.4 -0.1L123.5 -0.4L123.3 -0.3ZM101.3 -2.4L104.9 5.8L107 8.3L108.4 8.3L108.7 4.6L106.5 1.4L106.4 0L104.1 -2.4L103 -3L99.9 -7.5L97.6 -8L98.4 -6ZM123.5 3.9L124.1 4.3L124.4 6.5L125.1 7.9L126.2 6.6L126 5.2L125 2.7L126 1.4L126.6 1.3L124.2 1.3L123.4 -0.1L123 1.3L122.6 1.2L121.8 4.3L122.5 5.8L122.3 7.9L123.3 8ZM110.4 11.2L117.1 12.5L117 11.1L115.3 9.9L114.1 9.5L113 9.9L110.9 8.9L108.5 8.5L107.6 9.8ZM122.5 12.8L125.5 12.3L125.5 11.6L122.4 12.2ZM117.7 12.6L119 12.8L119.3 11.8L118.2 11.9L117 11.6ZM119.5 12.9L121.6 12.5L121.6 11.8L119.3 12.1ZM127.8 12.5L126.9 13.6L125.9 14.6L126.7 14.6L130 12.1ZM123 14.8L123.2 13.9L121.4 13.6L121.5 14.2ZM148.3 -69.1L148 -69.4L146.8 -69.5L147 -69.3ZM152.4 -68.1L153.5 -68L152.2 -68.3ZM154.6 -67.7L155 -67.9L154.6 -68.2L154.4 -67.9ZM135.2 -67.2L134.9 -66.6L135.3 -66.3L135.6 -67ZM134.9 -65.9L134.9 -65L135.2 -64.7L135.3 -65.7ZM134.9 -63.8L134.6 -62.8L134.9 -62.6L135.2 -63.6ZM134.2 -62.3L133.6 -61.7L133.9 -61.5L134.5 -62ZM131.9 -59.3L131.4 -59.8L129.2 -59.9L127.1 -61.2L128.6 -58.5L128 -57.7L128.6 -56.5L131.3 -57.1L131.3 -58.2L132.3 -58.8L133.2 -59.9L133.7 -61.1L133.3 -61.3L132.4 -60.5ZM127.7 -0.8L128 -1.4L128.5 -2.2L128 -2.2ZM131 -2.7L130.8 -0.4L131.3 1.2L132 0.4L131.3 -0.9L132 -2ZM131.8 5L133.8 5.3L134.1 4.5L131.5 4.2ZM130.4 4.6L129.2 4.5L129.3 5.3L130.2 5.5ZM156.5 6.6L157 6.6L156.1 4.9L154.7 3.7ZM156.1 6.2L153.6 7.9L151.9 7.9L152 8.6L154.1 8.9L155.5 7.9ZM136.3 5.8L137.9 5.8L141.2 7.5L141.7 9.8L141.1 10.8L144.5 13.1L146 12.9L146.6 11.8L147.8 10.8L149.2 11.5L150.2 13.6L153.4 15.2L150.8 11.2L150.4 9.9L151.3 9.3L150 8.5L148.1 5.6L141.1 2.2L139.5 3.2L138.4 4.7L137.7 3.3L137.6 1.3L136.5 1L134.7 1.3L134.6 2.2L135.4 3.2L136.9 3.6L135.7 4.2ZM164.1 13.6L162.9 13.3L163 14.1L163.8 14.2ZM168.6 21.4L168.3 22.3L168.7 22.8L169.1 22.1ZM179.8 25.1L178.5 24.9L178.4 25.6L179.3 25.9ZM164.2 29.5L165.6 31.7L166.2 31.5L164.9 29.3L164.2 28.7ZM111.8 38L111.4 44.5L110.7 46.3L109.6 47.7L110.3 48.2L112 48.4L116.4 47L121.1 45L126.4 43.9L128.6 44.7L129.3 48.1L129.9 47.8L132.3 45.4L130.6 48.4L131.6 47.4L131.6 48.3L130.7 49.3L131.9 49.2L131.4 51.6L132.2 52.7L133.8 53.2L135.1 52.5L136.3 53.6L138 52.3L140.8 51.6L142.2 49.3L146.8 44.6L149.1 41.2L149.8 40.1L149.9 38.6L151.3 35.3L150.5 35.1L149.6 33.1L149.9 31.9L148.2 28.4L146.9 26.8L146.9 22.1L146.4 20.4L145.5 20L145.2 15.3L143.7 18.6L143.3 21.4L141.8 24.9L140.5 24.9L137.1 21.4L139.1 17.6L137.3 17.5L134.9 16.2L133 17.8L131.7 19.3L131.1 21.3L129.5 22.1L128.8 20L128 20L126.6 20.7L124.8 23.4L123.4 24.2L122.9 25.6L121.3 27.7L118.7 28.8L116.7 29.3L113.1 31.2L112.3 35.1L111.6 36.6ZM162.1 54.9L160.8 56.3L161.7 56.5L164.2 54.2L165.5 53.7L167.4 51.8L165.1 51.7L165.5 50.3L164.5 47.7L164.1 48.8L164.1 51L162.9 53.1L161.6 54.1ZM134.6 58.5L136.7 55.8L134.9 56L133.6 55.5L132.8 56.9L132.6 58.2L133.3 59ZM149.9 60.9L148.9 61.8L150.7 62.5L152.8 61.7L154.7 59.9L156.7 59.2L160.4 56.1L159.6 55.3L158.8 55.7L155.3 58.3Z"/>
<path id="bord" d="M-107.8 -65.2L-106.9 -65.2L-106.1 -65.2L-105.2 -65.2L-104.3 -65.2L-103.5 -65.2L-102.6 -65.2L-101.7 -65.2L-100.8 -65.2L-100 -65.2L-99.1 -65.2L-98.2 -65.2L-97.4 -65.2L-96.5 -65.2L-95.6 -65.2L-94.7 -65.2L-93.9 -65.2L-93 -65.2L-92.1 -65.2L-91.2 -65.2L-90.4 -65.2L-89.5 -65.2L-88.6 -65.2L-87.8 -65.2L-86.9 -65.2L-86 -65.2L-85.1 -65.2L-84.3 -65.2L-83.4 -65.2L-83.2 -65.6L-83.1 -64.8L-82.4 -64.8L-81.7 -64.7L-81 -64.5L-80.2 -64.4L-79.4 -64.2L-79 -64.1L-78.3 -64L-77.6 -63.8L-76.8 -63.7L-76.1 -63.6L-75.9 -63L-75.6 -62.4L-75.1 -62.1L-74.7 -61.8L-74.1 -61L-74.4 -60.1L-74.8 -59.2L-75.1 -58.3L-76.1 -57.1L-75.5 -57.2L-74.8 -57.3L-74.1 -57.5L-73 -57.8L-72 -58.2L-71.8 -58.7L-71.1 -58.8L-70.4 -58.9L-69.7 -59L-68.6 -59.7L-67.6 -60.4L-66.8 -60.5L-66 -60.5L-65.2 -60.6L-64.3 -60.6L-63.6 -61.1L-62.9 -61.9L-62.3 -62.6L-61.3 -63.4L-60.5 -63.3L-60.2 -63L-60.5 -62.2L-60.8 -61.3L-60.4 -60.4M-102 -84.2L-103.1 -83.6L-104.3 -82.9L-105.4 -82.2L-106.5 -81.4L-107.5 -80.7L-108.6 -79.9L-109.7 -79.1L-110.7 -78.3L-111.7 -77.5L-112.7 -76.6L-112 -76.5L-111.3 -76.5L-111.2 -76L-111 -75.6L-109.9 -75.9L-108.8 -76.2L-108.7 -75.7L-108.6 -75.3L-108.5 -74.9L-108.6 -74.1L-108.7 -73.3L-108.8 -72.5L-108.6 -71.8L-109.7 -71.2M-112.5 -45.2L-111.7 -45.3L-110.9 -45.4L-110.1 -45.5L-109.4 -45L-108.6 -44.6L-107.9 -44.1L-107.2 -43.7L-106.3 -43.7L-105.4 -43.7L-104.4 -43.7L-104.2 -44.3L-103.4 -44.3L-102.6 -44.3L-102.2 -43.4L-101.9 -42.4L-101.5 -41.4L-101 -41L-100.4 -40.6L-99.4 -41.7L-98.4 -41.7L-98.2 -40.6L-98 -39.6L-97.4 -38.6L-96.8 -37.9L-96.3 -37.2L-95.7 -36.5M-93.4 -20.7L-93.3 -21.9L-92.6 -23L-92 -23L-91.3 -23L-91.1 -24.2L-91 -25.4L-90.3 -25.4L-89.7 -25.4L-89.7 -25.6L-88.7 -26.3M-89.7 -25.4L-89.9 -24L-90.1 -22.7M-89.8 -22.7L-90.2 -21.6L-90.5 -20.6L-91.4 -19.7M-90.5 -20.6L-89.7 -20L-89.1 -19.2M-88.7 -18.6L-87.9 -19.2L-87.2 -19.9L-86.1 -20.9L-85.1 -21.2L-84.2 -21.4M-87.3 -15.9L-86.6 -15.8L-86 -15.8L-85.3 -15.6M-84.6 -13.6L-84.7 -12.6L-84.7 -11.6M-79.7 -10.3L-79.4 -11.4L-79.1 -12.5M-72.2 -25.6L-72 -26.8L-71.8 -28M-72.7 -17.2L-73.6 -15.9L-73.9 -14.9L-74.2 -13.9L-74.4 -12.9L-74.2 -11.8L-73.9 -10.8L-73.2 -10.5L-72.5 -10.3L-71.7 -10.1L-70.8 -9.7L-70 -9.3L-69.1 -8.9L-69.3 -7.7L-69.5 -6.5L-69.3 -5.3L-69.2 -4.1L-69 -2.9L-68.6 -1.7M-68.6 -1.7L-69.5 -1.7L-70.4 -1.6L-71.3 -1.6L-71.2 -0.4L-71 0.9L-71.2 2.2L-71.3 3.5L-71.5 4.7L-71.6 6M-71.6 6L-72.5 5.4L-73.3 4.8L-74.1 4.2L-74.9 3.6L-75.7 2.4L-76.5 1.3L-77.3 0.1M-77.3 0.1L-78.1 -0.2L-79 -0.6L-79.9 -1.3L-80.8 -2M-77.3 0.1L-77.2 1.3L-77.5 2.2L-78.2 3.1L-79 4L-79.6 4.5L-80.3 4.9L-81 5.5L-81.8 6.2L-82.3 4.9M-71.6 6L-72.4 7.2L-73.2 8.3L-73.9 9.4L-74.7 10.5L-74.7 11.5L-74.7 12.5L-74.7 13.5L-73.6 14.3L-72.8 15.1L-71.9 15.8L-70.9 15.6M-70.9 15.6L-70.4 16.8L-69.8 18L-69.9 19.3L-69.9 20.6L-70 21.9L-70.1 23.3L-70.1 24.7M-70.1 24.7L-70.4 25.4L-70.8 26.2M-70.9 15.6L-70 15.4L-69.2 15.1L-68.3 14.9L-67.5 14.6L-66.6 14.3L-66.4 15.8L-66.1 17.2L-65 17.9L-64 18.6L-62.9 19.3L-62.1 19.5L-61.4 19.7L-61.2 20.9L-61 22L-60.8 23.1L-59.9 23.2L-59 23.3L-58.7 24.2L-58.4 25.2L-57.8 25.9L-58.1 27L-58.3 28.1M-58.3 28.1L-59.2 28.1L-60.1 28L-61 27.9L-61.8 27.9L-62 29.1L-62.2 30.3L-62.3 31.5M-62.3 31.5L-63.1 31.4L-63.9 31.4L-64.6 31.4L-65.4 31.3L-66.1 31.8L-66.8 32.3M-66.8 32.3L-67.4 31.3L-68.1 30.2L-68.5 28.8L-68.9 27.5L-69.5 26.1L-70.1 24.7M-66.8 32.3L-67.3 33.4L-67.7 34.6L-67.5 35.7L-67.2 36.9L-67 38L-67.2 39.3L-67.4 40.6L-67.6 42L-67.4 43.3L-67.3 44.6L-67.1 45.9L-66.9 47.2L-66.8 48.4L-66.7 49.7L-66.5 51L-66.4 52.2L-66.2 53.5L-66.1 54.7L-65.9 55.9L-65.7 57.1L-65.2 58.3L-64.7 59.5L-64.5 60.4L-64.3 61.4L-64 62.4L-64 63.2L-63.9 64.1L-63.9 65.2L-63.9 66.3L-62.9 67.1L-62 67.9L-61.2 68.1L-60.3 68.4L-59.5 68.6L-58.6 69.1M-58.6 69.1L-58.2 69.9L-57.9 70.6L-57.5 71.4M-62.3 31.5L-61.4 32.4L-60.5 33.2L-59.6 34.1L-58.8 35.1L-58 36L-57.5 37.1L-57 38.2L-56.3 38.4L-55.6 38.5L-54.8 38.6L-54.3 37.4L-53.8 36.1M-53.8 36.1L-53.8 35L-53.8 33.9L-54.5 32.9L-55.2 31.9L-56 31.7L-56.9 31.6L-57.7 31.5L-57.9 30.4L-58.1 29.3L-58.3 28.1M-53.8 36.1L-53.3 37.1L-52.7 38.1L-53.6 38.8L-54.5 39.6L-55.2 40.9L-55.8 42.2M-55.8 42.2L-55.9 43.2L-55.9 44.2L-55.9 45.2L-55.8 46.2L-55.7 47.2M-55.8 42.2L-55.1 42.6L-54.4 42.9L-53.6 43.3L-52.8 44.5L-51.9 45.6L-51 46.8M-62 -12.2L-62.2 -11.1L-62.4 -10.1L-62.5 -9.3L-62.7 -8.5L-62.2 -7.5M-62.2 -7.5L-63.2 -6.6L-64.3 -5.8L-64.9 -5.9L-65.6 -6L-66 -4.6L-66.5 -3.2L-67.2 -2.7L-67.9 -2.2L-68.6 -1.7M-62.2 -7.5L-61.7 -6.7L-61.3 -5.9L-61.3 -4.8L-61.2 -3.7L-61.1 -2.6L-60.3 -2.4L-59.5 -2.2L-58.7 -2.4L-58 -2.7M-58.5 -8.5L-59 -7.1L-59.5 -5.8L-59 -4.7L-58.5 -3.7L-58 -2.7M-58 -2.7L-56.9 -3L-55.9 -3.3L-55.8 -4.5L-55.6 -5.8L-55.5 -7L-55.3 -8.2M-55.9 -3.3L-55.1 -3.2L-54.3 -3.2L-53.6 -4.6L-52.9 -6M-1.7 -48.6L-1.7 -47.6L-1.7 -46.5L-1.6 -45.5L-2.5 -44.8L-3.5 -44.1L-4.2 -43.2L-4.8 -42.4L-5.7 -41.8L-6.7 -41.3L-7.6 -40.8L-8.5 -40.2L-8.5 -38.9M-8.5 -38.9L-9.4 -38.9L-10.3 -38.9L-11.2 -38.9L-12 -38.9L-12.9 -38.9M-8.5 -38.4L-8.5 -37.5L-8.6 -36.6L-9.4 -36.6L-10.2 -36.6L-11 -36.6L-11.8 -36.6L-11.8 -35.5L-11.9 -34.4L-11.9 -33.2L-12.3 -32.2L-12.6 -31.2L-13 -30.2L-14 -30.2L-15 -30.2L-16 -30.2L-17 -30.2M-8.5 -38.4L-7.6 -37.6L-6.6 -36.8L-5.7 -36.1L-4.7 -35.3M-4.7 -35.3L-5.6 -35.2L-6.4 -35.1L-6.3 -33.9L-6.2 -32.6L-6.1 -31.3L-6 -30L-5.9 -28.7L-5.9 -27.4L-5.8 -26L-5.7 -24.7L-5.6 -23.4L-5.5 -22.1L-6.3 -22.1L-7.2 -22.1L-8.1 -22.1L-9 -22.1L-9.9 -22.1L-10.7 -22.1L-11.6 -22.1L-12.4 -21M-4.7 -35.3L-3.8 -34.4L-2.8 -33.5L-1.8 -32.6L-0.8 -31.6L0.2 -30.7L1.2 -29.8L2.2 -28.9L3.2 -28.1L4.2 -27.2M4.2 -27.2L5.1 -27.5L6 -27.7L7 -28.7L8 -29.6L8.9 -30.5L9.9 -31.4L10.8 -32.3L11.8 -33.2M11.8 -33.2L10.8 -34L9.9 -34.7L9.6 -35.8L9.3 -36.9L9.4 -38L9.5 -39.1L9.6 -40.2L9.6 -41.3L9.2 -42.4M9.2 -42.4L8.8 -43.4L8.4 -44.5L8 -45.5L7.6 -46.5L7.8 -47.5L7.9 -48.4L8 -49.7L8.1 -50.8M9.2 -42.4L9.5 -43.3L9.8 -44.2L10.4 -45.1L11 -46M11.8 -33.2L12.5 -33L13.2 -32.8L13.9 -32.6L14.9 -32.6M14.9 -32.6L15.9 -32L16.9 -31.5L17.9 -31L19 -30.4L20 -29.9L21 -29.3L22 -28.8L23 -28.3L24.1 -27.7M24.1 -27.7L24 -28.4L25 -28.4L25 -29.8L24.9 -31.2M24.9 -31.2L24.8 -32.6L24.8 -33.9L24.7 -35.3L24.6 -36.6L24.5 -38L24.4 -39.3L24.3 -40.6L24.3 -42L24.3 -43L24.3 -44.1M24.9 -31.2L25.8 -31.2L26.7 -31.2L27.6 -31.2L28.5 -31.2L29.4 -31.2L30.3 -31.2L31.2 -31.2L32.1 -31.2L33 -31.2L34 -31.2L34.9 -31.2L35.8 -31.2L36.8 -31.2M24.1 -27.7L24.1 -26.4L24.1 -25.1L24.1 -23.8L24.2 -22.4L23.5 -21.2L22.8 -20L22.6 -19.1L22.4 -18.2L22.8 -17.3L23.3 -16.3L23.2 -15.6M23.2 -15.6L23.7 -14.6L24.2 -13.5L24.7 -12.5L25.5 -12.9L26.3 -13.3L27 -13.6L27.9 -13.7L28.7 -13.8L29.6 -13.9L30.5 -13.9L31.4 -13.9L31.8 -15.1L32.2 -16.3L32.5 -17.5L33.1 -17.5L33.7 -17.5L34 -16.4L34.3 -15.4L34.7 -14.3L34.8 -13.6M34.8 -13.6L35 -14.7L35.3 -15.8L35.5 -16.9L35.8 -18L36.2 -19.2L36.6 -20.3L36.9 -20.6M36.9 -20.6L37.2 -21.9L37.4 -23.1L37.7 -24.4L38.3 -25L38.8 -25.6M36.9 -20.6L37.7 -20.7L38.5 -20.7L39.5 -20.7L40.5 -20.6L41.4 -19.5L42.4 -18.5L43.1 -17.9M43.1 -17.9L42.5 -16.6L43.1 -16.2L43.7 -15.8M43.7 -15.8L44.3 -14.3L44.9 -12.9L46 -12.6L47 -12.2L48 -11.8L49.1 -11.5L48.1 -10.1L47.1 -8.6L46.1 -7.2L45.1 -6.7L44.1 -6.2L43.1 -5.8L42 -5.8M42 -5.8L41 -5.6L40.1 -5.4L39.1 -5.2L38.3 -5.7L37.5 -6.1L36.8 -6.6M36.8 -6.6L36.3 -8L35.8 -9.4L35.3 -10.8L34.7 -12.2L34.8 -13.6M42 -5.8L42 -4.4L42.1 -3L42.1 -1.7L42.1 -0.3L42.1 1.1L42.1 2.4L42.7 2.4M40.2 6.8L39.4 5.6L38.7 4.5L37.7 3.7L36.7 2.9L35.8 2.2L34.8 1.4M34.8 1.4L34.8 0.5L34.9 -0.4L35.4 -1.6L35.9 -2.7L35.7 -3.9L35.5 -5.1L35.3 -6.3L36 -6.5L36.8 -6.6M35.3 -6.3L34.3 -5.5L33.4 -5.3L32.5 -5.2L31.6 -5M31.6 -5L31.8 -4.2L32 -3.3L31.5 -1.9L30.9 -0.5L30.4 0.9L30.4 2M30.4 2L31.3 1.4L32.2 1.4L33 1.4L33.9 1.4L34.8 1.4M31.3 1.4L31.5 2.4L31.7 3.5L31.3 3.6L31.6 4.7L30.9 5.5L30.1 6.3L30.3 7.2L30.6 8.3L30.9 9.3L31.2 10.6L31.5 11.9M31.5 11.9L32.2 12.4L32.9 13L33.6 13.5L34.4 14.3L34.8 15.5L35.2 16.6L35.6 16.5L36.5 16.5L37.3 16.6L38.2 16.6L39.2 16.1L40.2 15.5L41.2 14.9M31.5 11.9L30.5 12.1L29.5 12.2L29 13.3L29.1 14.6L29.2 15.8L29.8 16.6L30.3 17.5L30.2 18.3L30 19L29.3 18.2L28.5 17.4L27.7 16.6L26.7 16.3L25.8 16.1L25.1 15.8L24.4 15.6L24.6 17L24.8 18.5M24.4 15.6L23.4 15.7L22.4 15.8L22.4 14.7L22.3 13.6L22.1 12.4L21.8 11.2L21.5 10.1L20.5 10.1L19.9 11.5L18.9 11.5L17.9 11.5L17.5 10.5L17.1 9.5L16.7 8.5L15.7 8.5L14.6 8.6L13.6 8.6L12.6 8.6M28.1 -7.2L27.1 -7.4L26.1 -7.6L25.1 -7.1L24.1 -6.6L23.1 -6L22 -6.5L21 -6.9L20 -7.3L19.1 -6.2L19 -5M19.1 -6.2L18.9 -4.9L18.7 -3.7L18.6 -2.5L18.4 -1.2L18.3 0L17.7 1.1L17.2 2.1L16.6 3.2L16.3 4.2L16 5.2L15.7 6.2L14.9 6.4L14.2 6.6L13.4 6.8L12.7 7.2M28.1 -7.2L28.9 -6.8L29.7 -6.3L30.7 -5.7L31.6 -5M15.9 -10.8L16.6 -11L17.4 -11.2L18.4 -12.1L19.4 -12.9L20.4 -13.3L21.4 -13.6L22.3 -14.6L23.2 -15.6M15.9 -10.8L15.4 -9.3L14.9 -7.9L15.2 -6.7L15.6 -5.5L16 -4.4L16.4 -3.2L17.3 -3.8L18.1 -4.4L19 -5M14.9 -32.6L15.1 -31.4L15.3 -30.3L15.5 -29.1L15.2 -27.8L15 -26.5L14.7 -25.2L14.5 -23.9L14.2 -22.6L14 -21.3L13.7 -20L14.4 -18.6M14.4 -18.6L14.9 -17.2L15.3 -15.8L15.5 -15L15.8 -14.2L15 -14.1L14.3 -14.1L14.8 -13L15.3 -11.9L15.9 -10.8M4.2 -27.2L4.2 -25.9L4.2 -24.7L4.2 -23.4L3.5 -22L2.7 -21.8L1.9 -21.6L1 -21.4L0.2 -21.3M0.2 -21.3L0.3 -20L0.4 -18.8L1 -18.3L1.6 -17.6L2.2 -16.9L3 -16.8L3.7 -16.8M3.7 -16.8L3.9 -18L4.1 -19.3L5.1 -19.1L6.1 -18.8L7.1 -18.6L8.1 -18.8L9.1 -18.9L10.2 -19L11 -19.2L11.9 -19.3L12.8 -19.5L13.7 -19.6L14.4 -18.8M3.7 -16.8L3.4 -15.5L3.1 -14.2L2.8 -12.9L2.8 -11.7L2.8 -10.4L2.8 -9.2M14.4 -18.6L14.3 -17.6L14.1 -16.6L14 -15.6L13.5 -14.4L13.1 -13.2L12.7 -12L12.3 -10.8L11.5 -9.5L10.7 -9.4L9.9 -9.3L9.4 -8.1L8.8 -6.9M10.1 -3.3L10.8 -3.2L11.6 -3.2L12.6 -3.2L13.6 -3.2L14.6 -3.2L15.5 -3.2L16.4 -3.2M13.6 -3.2L14.1 -2.1L14.5 -1.1L14.9 0L14.7 1.2L14.5 2.3L14.3 3.5L13.3 4.2L12.4 4.9L11.5 5.6M11.6 -3.2L11.6 -2.3L11.6 -1.4L10.8 -1.4L10.1 -1.4M1.6 -8.9L1.6 -10.2L1.6 -11.6L1.6 -12.9L1.3 -14.3L0.9 -15.8M1.2 -8.8L0.9 -10.1L0.5 -11.5L0.3 -12.9L0.2 -14.3L0 -15.8M-3.2 -7.3L-3.1 -8.7L-3 -10.1L-2.9 -11.5L-2.8 -12.6L-2.8 -13.6L-2.8 -14.7L-2.9 -15.8M-2.9 -15.8L-1.9 -15.8L-1 -15.8L0 -15.8L0.9 -15.8L1.6 -16.3L2.2 -16.9M-5.6 -14.9L-5.6 -15.7L-5.5 -16.5L-4.5 -17.9L-3.7 -18.8L-2.8 -19.8L-2 -20.7L-1.3 -20.9L-0.5 -21.1L0.2 -21.3M-5.6 -14.9L-4.7 -14.6L-3.8 -14.2L-2.9 -13.9M-7.7 -6.3L-8 -7.3L-8.2 -8.3L-8.5 -9.3L-8.6 -10.1L-8.7 -10.9M-8.7 -10.9L-8.4 -12.2L-8.2 -13.5L-8 -14.8M-8 -14.8L-7.1 -14.8L-6.3 -14.8L-5.6 -14.9M-11.8 -9.9L-11.1 -11.1L-10.5 -12.2M-10.5 -12.2L-9.6 -11.6L-8.7 -10.9M-13.6 -13.1L-12.9 -13.5L-12.1 -13.9L-11.4 -14.3L-11 -13.3L-10.5 -12.2M-11.6 -17.8L-10.9 -16.5L-10.1 -16.4L-9.3 -16.3L-8.6 -16.2L-8 -14.8M-15.3 -15.6L-14.6 -16.8L-13.9 -18L-13.1 -17.9L-12.4 -17.9L-11.6 -17.8M-11.6 -17.8L-11.8 -18.8L-12.1 -19.9L-12.4 -21M-12.4 -21L-13.2 -22.1L-14.1 -23.3L-15 -23.2L-15.8 -23.1L-16.7 -23M-17 -19.5L-16.1 -19.4L-15.2 -19.4L-14.2 -19.3L-14 -18.9L-15 -18.8L-16 -18.8L-17 -18.8M24.4 18.6L23.4 18.6L22.3 18.6L22.3 19.7L22.3 20.9L22.2 22L22.2 23.1L22.8 24.1L23.5 25.1M11.9 24.7L12.7 24.5L13.6 24.2L14.6 24.4L15.6 24.5L16.6 24.6L17.6 24.7L18.6 24.8L19.6 24.9L20.6 24.9L21.5 25L22.5 25L23.5 25.1L24.3 25.2L25.2 25.4M21.1 26.1L21.1 27.3L21 28.6L21 29.9L20.9 31.2L19.9 31.2L19.9 32.5L19.8 33.7L19.8 35L19.7 36.2L19.6 37.4L19.6 38.6L19.5 39.8M19.5 39.8L18.7 39.9L17.8 40L16.9 40L16.1 40.1M25.2 25.4L25.5 25.6L25.8 26.7L26.1 27.7L26.7 28.4L27.3 29.1L28.1 30.3L28.9 31.5M19.8 35L20.7 35.8L21.6 36.6L22.5 36.5L23.4 36.3L24.3 36.1L25.1 36L25.9 34.9L26.7 33.9L27.8 32.7L28.9 31.5M25.5 25.6L26.4 24.9L27.3 24.2L28.3 23.5L29.1 23.1L29.9 22.7L30.7 22.3M30.7 22.3L31.6 21.5L32.5 20.8L33.5 20L33.5 18.6L33.6 17.2L33.6 16L33.6 14.7L33.6 13.5M30.7 22.3L31.6 22.7L32.4 23.1L33.3 23.5L33.2 24.7L33 25.9L32.9 27L32.4 28.4L32 29.8L31.5 30.8L31.1 31.7M28.9 31.5L29.6 31.6L30.4 31.6L31.1 31.7M31.1 31.7L31.3 32.7L31.5 33.6L31.6 34.6L31.5 36L31.4 37.3L32.3 37.8M33.5 20L34.2 20.4L34.9 20.9L35.2 22L35.4 23.2L35.6 24.4L35.9 23.6L36.3 22.8L36.3 22.1L36.2 21.3L35.7 20.4M26.2 41.4L27 40.8L27.7 40.1L28.6 41.2L28.2 41.9L27.9 42.6L27.3 42.6L26.7 42.6L26.2 41.4M33 -43.7L33.5 -42.5L33.9 -41.3M33.9 -41.2L34.5 -41L35.1 -40.9L35.8 -41.4L36.4 -42L36.8 -42.6L35.7 -43.9L36.6 -44.4L37.5 -44.8M34.2 -45.5L35 -45.4L35.8 -45.2L36.7 -45.1L37.5 -45M34 -49.6L34.6 -50.7L35.2 -50.7L35.8 -50.7L36.7 -50.9L37.6 -51.1L38.4 -51.1L39.1 -51.1L39.9 -51.1M39.9 -51.1L39.4 -50.6L39 -50.1L39.1 -49L39.1 -47.8L38.5 -47.3L37.8 -46.9L37.1 -46.4M37.1 -46.4L37.5 -45.6L37.8 -44.8M37.8 -44.8L38.7 -44.4L39.6 -43.9L40.6 -43.4L41.5 -42.6L42.5 -41.7L43.5 -40.9L44.4 -40.8L45.3 -40.8M45.3 -40.8L45.8 -41.4L46.3 -42.1L46.6 -41.8M45.3 -40.8L46.2 -40.4L47.2 -40M42.1 -51.2L42.6 -50.4L43 -49.6L43.8 -48.4L43.3 -47.2L43.9 -46.5L44.6 -45.9L45.3 -44.8L46 -43.8L46.5 -42.6L47.1 -41.8M39.9 -51.1L40.6 -51.1L41.4 -51.2L42.1 -51.2M42.1 -51.2L41.7 -51.9L41.3 -52.6L41.2 -53.3L41.2 -54L41.6 -54.3M41.6 -54.3L40.9 -54.8L40.3 -55.3L39.3 -56.5L38.7 -56.5L38.1 -56.5M36.4 -58.8L37.3 -58.5L38.3 -58.2L39.2 -57.9L40.2 -57.8L41.1 -57.7L41.9 -57.3L42.7 -56.9L43.3 -56.9L43.9 -56.9L44.6 -56.9M41.6 -54.3L42.2 -53.8L42.9 -53.3L43.7 -53.8L44.5 -54.2L45.1 -53L45.7 -52.7M40 -56L40.7 -56.1L41.4 -56.3L42 -56.6L42.7 -56.9M43.2 -23.4L43.8 -24.1L44.3 -24.8L45.3 -24.6L46.4 -24.4L47.4 -24.2L48.3 -25.4L49.2 -26.5L50.2 -26.7L51.2 -26.9L52.2 -27L52.7 -25.9L53.1 -24.8L53.6 -23.7M52.2 -27L53 -28.1L53.8 -29.1L54.7 -30.2L55.5 -31.2L54.9 -32.1M54.9 -32.1L54 -32.1L53.1 -32.1L52.2 -32L51.6 -33.2L51.1 -34.3M54.9 -32.1L55.2 -33L55.5 -33.9L55.7 -35.1M50.2 -34.9L50.7 -34.3M58 -49.2L58 -48.4L58 -47.6L57.9 -46.5L58.3 -45.2L58.7 -43.9L59.5 -43.8L59.8 -43L59.1 -41.7M59.1 -41.7L60.1 -40.7L61 -39.7L61.5 -38.9L62.1 -38.1L61.4 -37.4L61.1 -36.5L60.8 -35.6M50.6 -51.4L51.2 -51.7L51.8 -52L52.4 -52.3L53 -52.3L53.6 -52.3L54.4 -52.1L55.1 -51.8L55.9 -51.5L56.6 -51L57.4 -50.5L58 -49.2M58 -49.2L58.6 -49L59.3 -48.8L60.1 -49.5L60.9 -50.1L61.7 -50.7L62.5 -51.4L63.1 -51.3L63.7 -51.2L64.5 -51.4L65.2 -51.6L66.1 -51.8L67 -52.1L67.8 -51.9L68.7 -51.7L69.5 -51.4L70.4 -51.2M70.4 -51.2L69.7 -51L69 -50.8L68.3 -50.6L67.5 -50.3L67.6 -49.2L67.7 -48.1L67.3 -47.6L66.8 -47.2L66.6 -45.9L66.7 -45.2L66.7 -44.5L66 -44.1L65.3 -43.8L64.9 -42.8L64.4 -41.8L63.5 -41.7L62.6 -41.5L61.7 -41.3L60.8 -41.2L59.9 -41.4L59.1 -41.7M71 -48.1L71.4 -47L71.9 -46L72.4 -45L72.2 -44.2L72.1 -43.4L71.7 -42.4L71.5 -41.5L71.4 -40.6L70.8 -39.9L70.3 -39.2L69.6 -39L68.9 -38.9L68.2 -37.7L68.7 -37L69.2 -36.2L69.7 -35.3L70.2 -34.5L69.5 -34.4L68.8 -34.4L68.1 -34.3L67.6 -33.5M71 -48.1L71.7 -48.3L72.3 -48.6L73 -48.8L73.7 -49.1L74.6 -47.9L75.4 -46.8L76.3 -45.6L75.9 -44.3L76.9 -43.3L77.8 -42.2M77.8 -42.2L77.9 -41.3L78.1 -40.4L78.9 -39.9L79.8 -39.4L80.7 -39L81.6 -38.5L82.6 -38L83.6 -37.6L84.6 -37.4L85.6 -37.3L86.6 -37.2L86.4 -38.2L86.2 -39.2L85.5 -39.2L84.8 -39.3L84 -39.3L83 -39.8L81.9 -40.4L80.7 -41.2L79.5 -42L78.7 -42.1L77.8 -42.2M87 -38.4L87.8 -38.2L88.7 -38L89.5 -37.9L90.4 -37.7L90 -39L90.8 -39.7L91.6 -40.4L92.5 -40.2L93.3 -40L94.2 -39.8L95.1 -39.4M95.1 -39.4L94.5 -38.8L93.9 -38.1L93.3 -37.4L93.3 -36.5L93.3 -35.6L93.2 -34.6L93.1 -33.6L92.9 -32.6L92.7 -31.6L92.4 -30.2L92.2 -29.4M86.6 -37.2L87.3 -37L88.6 -35.7L89.3 -35.6L90.1 -35.4L90.8 -35.3L91.4 -34.2L90.7 -33.9L90.5 -32.8L91.4 -32.6L91.9 -31.4L92.4 -30.2M87.3 -37L87.2 -36.2L87.1 -35.3L87.8 -34.2L88.1 -32.8L88.5 -31.5L88.7 -30.8M95.1 -39.4L95.8 -39L96.6 -38.5L96.5 -37.5L96.4 -36.5L96.3 -35.6L97 -34.8L97.7 -34.1L98.4 -32.7L99.1 -31.3L99.9 -30.5M99.9 -30.5L100.6 -31.1L101.3 -31.7L101.7 -31.7M101.7 -31.7L102.5 -32L103.3 -32.3L103.9 -32.6L104.5 -33L105.3 -32.6L106 -32.3L106.9 -31.4L107.7 -30.5M99.9 -30.5L99.6 -29.5L99.3 -28.6L98.9 -27.5L98.4 -26.5L98.4 -25.6L98.4 -24.7L99.1 -23.8L99.7 -22.8L100 -21.5L100.3 -20.2L100.6 -18.9L100.6 -17.6L100.6 -16.2L100.5 -14.9M100.1 -29L100.8 -28.4L101.4 -27.7L101.3 -26.3L101.2 -24.9L102.2 -25.3L103.1 -25.6L103.9 -25.4L104.7 -25.1L105.5 -24.8L106.1 -23.5L106.7 -22.1L106.6 -21.3L106.5 -20.4M101.7 -31.7L102.3 -30.8L102.9 -29.8L103.9 -29L105 -28.3L105.5 -27.3L106.1 -26.3L106.9 -25.2L107.7 -24L108.1 -23L108.5 -22L108.9 -21M106.5 -20.4L105.8 -20.4L105.1 -20.4L104.4 -20.3L103.8 -19.3L104.3 -18L104.7 -16.8M108.9 -21L109 -19.9L109.2 -18.8L109.3 -17.6L108.5 -16.8L107.8 -15.9L107.1 -15.4L106.5 -14.9M106.5 -20.4L107.1 -20.6L107.7 -20.7L108.3 -20.9L108.9 -21M102.5 -9.3L103.2 -8.8L103.9 -8.3L104.5 -8.9M115.3 -54.7L115.6 -55.5L115.8 -56.4L116.4 -56.6L116.9 -56.8L117.4 -57L118 -57.3L118.6 -57.6L119.5 -57.5M118.2 -51.8L118.8 -52.5L119.3 -52.7L119.8 -53M119.5 -57.5L119.6 -58.3L118.9 -59.4L118.2 -60.5L118.9 -60.6L119.6 -60.8L119.4 -61.7L119.2 -62.6L119 -63.5L118.7 -64.4L118.2 -64.3L117.7 -64.3L117.1 -64.1L116.5 -63.9L115.9 -63.7L114.7 -64.3L113.5 -64.9L112.3 -65.5L111.1 -66.1L109.9 -67.1L108.6 -68.2L107.3 -69.3L106.5 -69.5L105.6 -69.8L104.8 -70L104 -69.9L103.3 -69.9L102.6 -69.8L102.4 -69.1L103.8 -68.2L103.7 -67.5L103.6 -66.7L103.3 -66.3L102.9 -65.8L102.3 -65.9L101.7 -66.1M76.9 -65.4L77.3 -65.9L77.7 -66.3L78.1 -66.8L78.7 -66.9L79.3 -67L79.9 -67.1L80.8 -67L81.8 -66.8L82.6 -66.6L83.5 -66.4L84.4 -66.2L85.2 -66.1L84.9 -66.9L84.6 -67.6L84.3 -68.4L85.2 -68.2L86.2 -68.1L87.1 -67.9L88 -67.7L89.1 -67L90.2 -66.4L90.9 -66.4L91.5 -66.5L92.2 -66.5L92.8 -66.6L93.9 -66.1L94.9 -65.5L95.6 -65.5L96.3 -65.6L97 -65.6L97.6 -65.8L98.2 -66.1L98.8 -66.3L99.4 -66.5L100.2 -66.3L101 -66.2L101.7 -66.1M76.9 -65.4L78 -64.8L79.1 -64.3L80.2 -63.7L80.8 -62.8L81.3 -61.8L82.2 -61.4L83.2 -61L84.1 -60.6L85.4 -59.7L86.6 -58.8L87.9 -57.9L88.7 -57.9L89.6 -57.9L90.5 -57.9L91.3 -57.8L92.3 -57.6L93.4 -57.3L94.4 -57.1L95.4 -56.9L96.4 -56.6L97.1 -56.9L97.8 -57.1L98.5 -57.4L99.2 -57.7L99.9 -57.9L100.6 -58.2L101 -58.7L101.4 -59.1L101 -59.8L100.6 -60.5L101.5 -60.4L102.4 -60.3L103 -60.8L103.5 -61.4L104.1 -61.9L104.6 -62.5L105.2 -62.6L105.8 -62.8L106.4 -62.9L105.3 -63.5L104.1 -64.1L102.9 -65.1L101.7 -66.1M76.4 -65.4L76 -65L75.6 -64.6L75.8 -63.8L76 -62.9L75.2 -63L74.4 -63.1L73.6 -63.2L73.7 -62.2L73.8 -61.2L73.3 -61L72.7 -60.8L72.1 -60.6L72.5 -59.6L73 -58.5L73.4 -57.3M73.4 -57.3L72.8 -56.9L72.1 -56.5L71.4 -55.8L70.7 -55.2L70.1 -54.8L69.4 -54.4L68.7 -54.1M68.7 -54.1L69.6 -52.8L70.4 -51.6L70.2 -51L71.2 -49.7L72 -49.5L72.9 -49.3L73.7 -49.1M43.9 -62.1L43.4 -63L43 -63.8L42.2 -64.5L41.5 -65.2L41.3 -65.9L41.2 -66.7L42 -67L42.7 -67.4L43.3 -67.6L43.9 -67.8L44.8 -67.7L45.7 -67.6L46.6 -67.6L47.4 -67.2L48.3 -66.9L49 -67.1L49.7 -67.4L50.6 -67.1L51.5 -66.9L52.3 -67L53 -67.1L52.3 -67.8L51.5 -68.4L51.5 -69.4L51.5 -70.4L52.3 -70.6L53.1 -70.8L53.9 -70.9L54.6 -71.1L55.2 -71.2L55.9 -71.3L56.5 -71.4L57.1 -71.5L57.8 -71.6L58.5 -71.7L59.2 -71.7L60.2 -71.2L61.1 -70.7L62.1 -70.2L62.8 -69.8L63.4 -70L64 -70.3L64.6 -70.5L65.2 -69.8L65.9 -69.6L66.6 -69.4L67.3 -69.3L68.3 -68.2L69.3 -67.1L70 -67.2L70.7 -67.2L71.4 -67.3L72.1 -67.4L72.9 -66.9L73.8 -66.3L74.6 -65.8L75.5 -65.6L76.4 -65.4M48.4 -57.2L49.2 -57L50 -56.7L50.7 -56.5L51.5 -56.3L51.2 -57.4L51 -58.5L50.7 -59.6L50.4 -60.6L51.1 -60.9L51.8 -61.1L52.5 -61.3L53.4 -60.9L54.2 -60.4L55.1 -59.9L56.3 -58.9L57.2 -59L58 -59L58.9 -59.1L59.7 -58.1L60.5 -57.1L61.6 -56.5L62.7 -55.9L63.4 -56.4L64 -56.7L64.6 -57.1L64.9 -57.5L65.7 -57.5L66.4 -57.6L67.2 -57.7L67.6 -58L68 -58.3L68.6 -58.3L69.2 -58.3L70.2 -58.2L71.1 -58.1L72.1 -58.1L72.7 -57.7L73.4 -57.3M51.5 -56.3L52.2 -56.3L52.9 -56.3L53.2 -57.1L53.5 -57.9L54.2 -57.5L55 -57.1L55.7 -56.6L56.4 -56.1L57.2 -55.4L57.9 -54.6L58.9 -54L59.8 -53.3L60.7 -52.7L61.6 -52.1L62.5 -51.5M63.7 -51.2L63.8 -52L63.8 -52.8L63.2 -54.1L63.7 -54.5L64.3 -54.9L65 -54.9L65.7 -54.9L66.6 -54.6L67.4 -54.4L68.3 -54.1M64.3 -54.9L65 -55.9L65 -56.7L64.9 -57.5M-8.2 -57L-7.5 -57.2L-6.7 -57L-6 -56.7L-6.4 -55.9L-6.4 -55.1L-6.5 -54.3L-7 -54.2L-6.8 -53.3L-6.5 -52.5L-7 -51.2M-1.6 -58.8L-0.8 -58.4L0 -57.9L0.7 -57.8L1.4 -57.7L2.1 -57.6L2.9 -57.6M2.2 -67.5L2.9 -67L3.6 -66.6L4.2 -66.3L5.1 -65.7L5.6 -65.4L6.4 -65.3L7.2 -65.2L7 -64.4L6.7 -63.6L6 -62.8L5.4 -62L6.3 -61.7L6.2 -61L6.1 -60.4L6.8 -59.2M2.9 -67.8L3.5 -67.8L4.1 -67.9L5 -67.6L5.2 -67.1M5.2 -67.1L5.2 -68.2L5.8 -68.3L6.1 -69.1L6.1 -69.8M5.2 -67.1L5.4 -66.4L5.6 -65.7M7.2 -71.4L7.8 -71.4L8.3 -71.3M12 -70.4L12.2 -69.7L12.5 -69.1L12.6 -68.2L12.8 -67.4M12.8 -67.4L12 -67.1L11.3 -66.9L10.5 -66.6L11.3 -65.8L12.1 -65M12.1 -65L11.8 -64.2L11.5 -63.5L10.7 -63.4L9.9 -63.4L9 -63.3L8.5 -63.5M8.5 -63.5L7.6 -63.6L6.7 -63.6M6.3 -61.7L6.9 -62L7.6 -62.4L8.1 -61.6L8.7 -62L9.4 -62.4L8.4 -63.2M9.3 -62.8L10.1 -62.9L10.8 -63L11.5 -62.7L12.2 -62.4M12.2 -62.4L12.2 -61.3M12.2 -62.4L12.9 -62.4L13.6 -62.5L14.2 -62.6L14.6 -63.3L14.9 -64.1M12.1 -65L12.6 -65.1L13.1 -65.2L14 -65L14.9 -64.7L15 -64.1M12.8 -67.4L13.5 -67.2L14.1 -67L14.9 -66.6L15.6 -66.2L16.4 -65.8L17.2 -65.7L17.9 -65.6L18.5 -65.5L19.2 -65.4L19.8 -65.3M19.8 -65.3L20.3 -66.1L20.8 -66.8L20.6 -67.4L20.3 -68L20.1 -69L19.9 -70L19.8 -70.6L19.2 -70.9L18.5 -70.9L17.8 -70.9L17.2 -70.9L16.5 -70.9M14.9 -64.7L15.6 -65.3L16.4 -65.8M15 -64.1L15.8 -64L16.6 -63.8L17.3 -64.2L18 -64.6L18.8 -64.6L19.5 -64.5M19.5 -64.5L19.8 -65.3M19.5 -64.5L20.2 -64.1M20.2 -64.1L19.7 -63.3L19.2 -62.5L18.6 -62.2L18.1 -61.9M18.1 -61.9L17.5 -61.8L16.9 -61.7M16.9 -61.7L16.2 -61.7L15.5 -61.7L14.5 -62.4M20.2 -64.1L21.1 -64L22 -63.8L22.7 -64.1L23.4 -64.4L24.3 -63.4L25.1 -62.5L25.2 -61.9L25.3 -61.2L26 -61L26.7 -60.9M23.4 -64.4L24.3 -64.3L25.1 -64.3L26 -63.3L26.8 -62.3L26.4 -61.7L25.9 -61.2M20.5 -59.7L21.2 -59.5L22 -59.3L22.7 -59.1L23.4 -59.2L24.2 -59.4L24.9 -59.5L25.4 -59.3L25.9 -59.1M18.1 -61.9L18.7 -61.3L19.2 -60.8L19.9 -60.2L20.5 -59.7M14.2 -60.9L14.7 -60.9L15.3 -60.9L16.2 -60.7L17.1 -60.5M17.1 -60.5L17.3 -59.7L17.5 -58.9M14.2 -60.9L14.6 -60.2L14.9 -59.5L15.5 -58.9L16 -58.3M17.5 -58.9L18.3 -57.9L17.8 -57M18.3 -57.9L18.9 -57L18.9 -55.9L19.4 -55.4L18.6 -54.3M19.4 -55.7L20.2 -56L21.1 -56.3L21.6 -56.4L22 -56.6L23 -56.7L23.9 -56.7M24.1 -56.7L24.1 -55.5M23.9 -56.9L24.8 -57L25.7 -57.1M20.5 -59.7L20.5 -58.7L20.5 -57.7L20.8 -57L21.1 -56.4M20.5 -57.6L19.7 -57.3L18.9 -57.1M17.5 -72.6L18.3 -72.7L19.1 -72.8L19.9 -72.9L20.6 -72.7L21.4 -72.5L22.2 -72.2M19.9 -74.4L20.6 -74.3L21.3 -74.3L21.9 -74.2L22.4 -74.1M19.8 -70.6L20.5 -70.6L21.1 -70.5L21.6 -71.4L22.2 -72.2M22.2 -72.2L22.8 -72.5L23.4 -72.7L23.1 -73.3L22.8 -73.8L22.4 -74.1M22.4 -74.1L22.6 -75L22.5 -75.9M20.3 -68L21 -68.1L21.6 -68.2L22.3 -68.3L23.1 -68.2L23.9 -68.1L24.7 -68L25.5 -67.9L26.3 -67.8L26.9 -68.2L27.4 -68.5M27.4 -68.5L27.1 -69.5L26.2 -70.5L25.8 -71.3L25.4 -72.1L24.7 -72.3L24.1 -72.5L23.4 -72.7M27.4 -68.5L28.1 -68.4L28.9 -68.2L29.6 -68.1L30.1 -67.5L30.7 -66.9L31.5 -66.7L32.3 -66.4L33.1 -66.2L34 -66L34.9 -65.8L35 -64.8L35.1 -63.8L34.5 -63.4L33.9 -63M18.2 -81.4L17.9 -81.8L17.6 -82.3L16.8 -82.8L16.1 -83.3L15.3 -83.8M15.3 -83.8L15.9 -83.7L16.5 -83.6L17 -83.6L17.6 -83.7L18.2 -83.7L18.7 -83.7L19.3 -84.1L19.8 -84.5L20.6 -84M20.7 -83.9L21.3 -83.2L21.7 -83L22.2 -82.8L22.1 -82.2L21.9 -81.6L22.4 -81.2L22.9 -80.7L22.8 -80.1L23.4 -79.6L24.1 -79L23.8 -78.5L23.4 -78L22.8 -77.4L22.2 -76.8M9.2 -75.4L9.5 -76.1L9.7 -76.8L9.9 -77.7L9.6 -78.4L9.3 -79L10 -79.7L10.7 -80.3L10.9 -80.9L11.1 -81.5L11.6 -82.2L12.2 -82.9L12.7 -83.2L13.2 -83.4L13.8 -83.6L14.4 -83.7L14.9 -83.8M20.7 -83.9L21.2 -84.1L21.7 -84.3L22.1 -84.3L22.5 -84.3M-6.1 -71.7L-6.6 -71.1L-5.9 -70.7L-5.2 -70.6" fill="none" stroke="#66705f" stroke-width="0.42"/>
<path id="gl" d="M-19.9 -91.4L-20.5 -91.4L-21.1 -91.4L-21.7 -91.4L-22.3 -91.4L-22.9 -91.4L-23.5 -91.4L-24.2 -91.3L-24.8 -91.3L-25.4 -91.3L-26.1 -91.2L-26.7 -91.2L-27.4 -91.2L-28 -91.1L-28.6 -91.1L-29.3 -91.1L-29.9 -91L-30.6 -91L-31.2 -91L-31.8 -91L-32.5 -91L-33.1 -90.9L-33.8 -90.9L-34.4 -90.9L-35 -90.9L-35.7 -90.9L-36.3 -90.8L-37.1 -90.8L-37.8 -90.7L-38.6 -90.6L-39.3 -90.5L-40.1 -90.4L-40.8 -90.4L-41.6 -90.3L-42.4 -90.2L-43.2 -90.1L-44 -90L-45 -89.8L-45.9 -89.6L-46.9 -89.4L-46.8 -89L-46.3 -88.9L-45.9 -88.7L-45.5 -88.5L-44.9 -88.5L-44.3 -88.4L-43.7 -88.4L-43.1 -88.3L-42.5 -88.3L-41.8 -88.2L-41.2 -88.2L-40.6 -88.2L-40 -88.2L-39.7 -87.9L-39.3 -87.7L-39 -87.4L-39 -86.9L-38.9 -86.4L-38.8 -85.8L-38.7 -85.2L-38.2 -85.1L-37.7 -85L-37.2 -84.9L-38.1 -84.5L-39.1 -84.2L-38.8 -83.4L-39.5 -82.8L-40.1 -82.2L-40 -81.7L-39.8 -81.1L-39.8 -80.6L-39.7 -80.1L-39.4 -79.3L-39.1 -78.6L-38.7 -78.2L-38.3 -77.7L-37.7 -77.5L-37.2 -77.3L-36.6 -77.1L-36.2 -76.8L-35.7 -76.5L-35.3 -76.2L-34.5 -76.7L-33.7 -77.3L-32.8 -78.2L-31.9 -79L-31.3 -79.7L-30.7 -80.3L-29.9 -80.6L-29.2 -80.9L-28.5 -81.2L-27.7 -81.4L-27 -81.6L-26.2 -81.7L-25.5 -81.9L-24.6 -82.3L-23.7 -82.7L-22.9 -83.1L-22.1 -83.1L-21.3 -83.2L-20.6 -83.3L-19.8 -83.4L-19.1 -83.4L-18.3 -83.8L-17.6 -84.1L-17 -84.4L-16.3 -84.6L-15.7 -84.9L-15.5 -85.4L-15.2 -86L-14.9 -86.5L-14.1 -87L-13.2 -87.4L-13.4 -87.8L-13.6 -88.3L-12.8 -88.7L-12 -89L-12 -89.4L-12 -89.8L-11.3 -90.1L-10.5 -90.4L-9.9 -90.4L-9.2 -90.5L-8.6 -90.6L-7.9 -90.7L-7.3 -90.8L-7.9 -90.8L-8.5 -90.8L-9.1 -90.9L-9.7 -90.9L-10.3 -90.9L-10.8 -90.9L-11.4 -91L-12 -91L-12.6 -91L-13.1 -91.1L-13.7 -91.2L-14.2 -91.2L-14.8 -91.3L-15.3 -91.3L-15.9 -91.3L-16.5 -91.3L-17.1 -91.4L-17.6 -91.4L-18.2 -91.4L-18.8 -91.4L-19.3 -91.4Z"/><path id="glg" d="M-15.2 -86L-14.9 -86.5L-14.1 -87L-13.2 -87.4L-13.4 -87.8L-13.6 -88.3L-12.8 -88.7L-12 -89L-12 -89.4L-12 -89.8L-11.3 -90.1L-10.5 -90.4L-9.9 -90.4L-9.2 -90.5L-8.6 -90.6L-7.9 -90.7L-7.3 -90.8L-7.9 -90.8L-8.5 -90.8L-9.1 -90.9L-9.7 -90.9L-10.3 -90.9L-10.8 -90.9L-11.4 -91L-12 -91L-12.6 -91L-13.1 -91.1L-13.7 -91.2L-14.2 -91.2L-14.8 -91.3L-15.3 -91.3L-15.9 -91.3L-16.5 -91.3L-17.1 -91.4L-17.6 -91.4L-18.2 -91.4L-18.8 -91.4L-19.3 -91.4L-19.9 -91.4L-20.5 -91.4L-21.1 -91.4L-21.7 -91.4L-22.3 -91.4L-22.9 -91.4L-23.5 -91.4L-24.2 -91.3L-24.8 -91.3L-25.4 -91.3L-26.1 -91.2L-26.7 -91.2L-27.3 -91.2L-27.7 -90.9L-28.2 -90.6L-28.7 -90.2L-29.2 -89.7L-29.6 -89.3L-29.2 -89.1L-28.7 -88.9L-28.2 -88.7L-27.8 -88.4L-27.3 -88.2L-26.8 -88L-26.2 -87.8L-25.6 -87.7L-25 -87.6L-24.4 -87.4L-23.8 -87.3L-23.2 -87.1L-22.6 -87L-22 -86.8L-21.4 -86.6L-20.8 -86.5L-20.2 -86.3L-19.6 -86.1L-18.9 -85.9L-18.3 -85.7L-17.7 -85.5L-17 -85.3L-16.4 -85.1L-15.7 -84.9L-15.5 -85.4Z"/><path id="ice" d="M-16.9 -79.9L-17.6 -80.3L-18.3 -80.6L-17.7 -80.9L-17.1 -81.1L-17.6 -81.2L-18.2 -81.3L-17.3 -81.6L-16.5 -81.8L-15.8 -81.8L-15 -81.8L-14.3 -81.7L-13.5 -81.7L-12.8 -81.8L-12 -81.8L-11.2 -81.9L-10.9 -81.8L-10.6 -81.3L-10.3 -80.9L-11.1 -80.2L-11.8 -80.1L-12.5 -79.9L-13.1 -79.7L-13.8 -79.6L-14.5 -79.4L-15.1 -79.5L-15.6 -79.6L-16.2 -79.7L-16.9 -79.7L-17.5 -79.7Z"/>
<path id="grl" d="M9.9 -34.6L9.5 -36L8.4 -36.9L6.9 -37.3L5.4 -36.9L4.3 -36L4 -34.6L4.4 -33.2L5.5 -32.2L7 -31.9L8.4 -32.2L9.5 -33.2ZM-57.4 -2.9L-58 -4.3L-59.5 -5.4L-61.5 -5.8L-63.6 -5.4L-65.1 -4.3L-65.7 -2.9L-65.1 -1.4L-63.6 -0.4L-61.6 0L-59.5 -0.4L-58 -1.4ZM-53.4 -2.2L-53.8 -3.2L-54.9 -4L-56.4 -4.3L-57.9 -4L-59.1 -3.2L-59.5 -2.2L-59.1 -1.1L-58 -0.3L-56.4 0L-54.9 -0.3L-53.8 -1.1ZM-61.5 5.8L-62 3.6L-63.1 2L-64.6 1.4L-66.2 2L-67.3 3.6L-67.7 5.8L-67.2 7.9L-66 9.5L-64.5 10.1L-62.9 9.5L-61.9 7.9ZM-55.8 8.6L-56.2 6.5L-57.2 4.9L-58.5 4.3L-59.7 4.9L-60.6 6.5L-60.9 8.6L-60.5 10.8L-59.5 12.3L-58.2 12.9L-56.9 12.3L-56.1 10.8ZM-52.3 4.3L-52.6 2.9L-53.4 1.8L-54.4 1.4L-55.4 1.8L-56.1 2.9L-56.4 4.3L-56.1 5.8L-55.3 6.8L-54.3 7.2L-53.3 6.8L-52.6 5.8ZM-67.7 2.9L-68 1.4L-68.7 0.4L-69.8 0L-70.8 0.4L-71.5 1.4L-71.8 2.9L-71.5 4.3L-70.7 5.4L-69.7 5.8L-68.7 5.4L-68 4.3ZM-63.2 14.3L-63.6 12.9L-64.4 11.9L-65.4 11.5L-66.4 11.9L-67.1 12.9L-67.3 14.3L-67 15.8L-66.1 16.8L-65.1 17.2L-64.1 16.8L-63.4 15.8Z" fill="#cfe4c0" fill-opacity="0.75" clip-path="url(#lc)"/>
<path id="grd" d="M-63 -2.2L-63.1 -2.7L-63.5 -3.1L-63.9 -3L-64.2 -2.5L-64.2 -1.8L-63.9 -1.4L-63.5 -1.3L-63.1 -1.6ZM-59.9 -3.6L-60 -4.2L-60.4 -4.5L-60.8 -4.4L-61.1 -3.9L-61.1 -3.3L-60.9 -2.8L-60.4 -2.7L-60 -3ZM-56.9 -1.4L-57 -2L-57.4 -2.2L-57.7 -2.1L-58 -1.7L-58 -1.2L-57.7 -0.7L-57.4 -0.6L-57 -0.9ZM-54.7 -2.9L-54.9 -3.5L-55.3 -3.8L-55.7 -3.7L-56 -3.2L-56 -2.6L-55.7 -2.1L-55.3 -2L-54.9 -2.3ZM-61 1.4L-61.1 0.9L-61.5 0.6L-61.9 0.7L-62.1 1.2L-62.1 1.7L-61.8 2.1L-61.5 2.2L-61.1 2ZM-64 4.3L-64.1 3.7L-64.5 3.4L-64.9 3.5L-65.2 4L-65.2 4.6L-64.9 5.1L-64.5 5.2L-64.1 4.9ZM-58.8 5.8L-59 5.2L-59.4 4.8L-59.8 5L-60.1 5.4L-60.1 6.1L-59.8 6.5L-59.3 6.7L-58.9 6.3ZM-55.7 8.6L-55.9 8L-56.2 7.7L-56.6 7.8L-56.9 8.3L-56.8 8.9L-56.6 9.4L-56.2 9.5L-55.9 9.2ZM-57.7 11.5L-57.8 11L-58.2 10.7L-58.6 10.8L-58.8 11.2L-58.8 11.8L-58.5 12.2L-58.1 12.3L-57.8 12ZM-66 8.6L-66.1 8.1L-66.5 7.8L-66.9 7.9L-67.1 8.3L-67.1 8.9L-66.8 9.3L-66.4 9.4L-66.1 9.1ZM-68.1 5.8L-68.3 5.2L-68.6 5L-69 5.1L-69.2 5.5L-69.2 6L-69 6.4L-68.6 6.5L-68.2 6.3ZM-52.8 7.2L-52.9 6.7L-53.2 6.5L-53.5 6.6L-53.7 7L-53.7 7.4L-53.5 7.8L-53.2 7.9L-52.9 7.6ZM-61.7 12.9L-61.9 12.4L-62.2 12.1L-62.6 12.2L-62.8 12.6L-62.8 13.2L-62.5 13.6L-62.1 13.7L-61.8 13.4ZM-62.6 17.2L-62.7 16.8L-63 16.5L-63.3 16.6L-63.5 17L-63.5 17.4L-63.3 17.8L-62.9 17.9L-62.7 17.6ZM-50.8 2.9L-50.9 2.4L-51.2 2.2L-51.5 2.3L-51.8 2.6L-51.8 3.1L-51.5 3.5L-51.2 3.6L-50.9 3.3ZM-71.1 11.5L-71.2 11L-71.5 10.8L-71.8 10.9L-72 11.3L-72 11.7L-71.8 12.1L-71.4 12.2L-71.2 11.9ZM-45.7 7.2L-45.8 6.8L-46 6.6L-46.3 6.7L-46.5 7L-46.5 7.4L-46.3 7.7L-46 7.8L-45.8 7.6ZM-48.5 14.3L-48.6 13.9L-48.9 13.7L-49.2 13.8L-49.4 14.1L-49.4 14.6L-49.2 14.9L-48.8 15L-48.6 14.8ZM-66.3 21.4L-66.5 21L-66.8 20.8L-67.1 20.8L-67.3 21.2L-67.2 21.7L-67 22L-66.7 22.1L-66.4 21.9ZM-58.3 21.4L-58.4 21.1L-58.7 20.9L-58.9 20.9L-59.1 21.2L-59.1 21.6L-58.9 21.9L-58.6 22L-58.4 21.8ZM-65 0L-65.2 -0.4L-65.6 -0.7L-66 -0.6L-66.3 -0.2L-66.3 0.2L-66 0.6L-65.6 0.7L-65.2 0.4ZM-67.1 -4.3L-67.2 -4.8L-67.6 -5.1L-68 -5L-68.2 -4.6L-68.2 -4L-68 -3.6L-67.6 -3.5L-67.3 -3.8ZM-89.4 -81.5L-89.2 -82L-90 -82.3L-91.3 -82.2L-92.6 -81.8L-93.3 -81.3L-93 -80.9L-91.9 -80.8L-90.5 -81ZM-87.9 -78L-88 -78.4L-88.9 -78.6L-90.2 -78.5L-91.4 -78.2L-91.8 -77.8L-91.3 -77.4L-90.1 -77.4L-88.8 -77.6ZM-87.5 -75.6L-87.5 -75.9L-87.9 -76L-88.6 -75.9L-89.2 -75.7L-89.4 -75.5L-89.2 -75.3L-88.6 -75.3L-87.9 -75.4ZM-83.5 -73.8L-83.2 -74.3L-83.4 -74.6L-83.8 -74.5L-84.3 -74.1L-84.7 -73.5L-84.8 -73.1L-84.5 -73L-84 -73.3ZM-83.2 -69L-82.8 -69.8L-82.9 -70.2L-83.3 -70L-84 -69.4L-84.5 -68.5L-84.7 -67.8L-84.4 -67.7L-83.8 -68.1ZM-76.6 -66.1L-76.5 -66.4L-76.8 -66.6L-77.2 -66.5L-77.6 -66.2L-77.8 -65.9L-77.6 -65.6L-77.3 -65.5L-76.9 -65.7ZM-63.2 -67.4L-63.2 -67.7L-63.4 -67.9L-63.8 -67.8L-64.2 -67.5L-64.4 -67.2L-64.2 -66.9L-63.9 -66.8L-63.5 -67ZM-57.9 -70.8L-57.9 -71.2L-58.2 -71.4L-58.6 -71.3L-59.1 -71L-59.3 -70.6L-59.1 -70.3L-58.7 -70.3L-58.2 -70.4ZM-52 -81.9L-52 -82.2L-52.4 -82.3L-53.1 -82.2L-53.6 -82.1L-53.8 -81.8L-53.6 -81.6L-53 -81.5L-52.4 -81.7ZM-77.7 -79L-77.7 -79.3L-78.1 -79.4L-78.8 -79.4L-79.4 -79.2L-79.6 -78.9L-79.4 -78.7L-78.8 -78.6L-78.1 -78.8ZM-73.3 -79.9L-73.3 -80.1L-73.6 -80.2L-74.1 -80.1L-74.5 -80L-74.6 -79.8L-74.5 -79.7L-74.1 -79.6L-73.6 -79.7ZM-83.6 -74.8L-83.5 -75.1L-83.7 -75.2L-84 -75.2L-84.5 -74.9L-84.7 -74.6L-84.7 -74.4L-84.4 -74.3L-83.9 -74.5ZM-58.7 -67.8L-58.7 -68.2L-58.9 -68.4L-59.2 -68.3L-59.6 -68L-59.7 -67.6L-59.6 -67.3L-59.3 -67.2L-59 -67.4ZM-53.3 -70.5L-53.3 -70.9L-53.8 -71.2L-54.6 -71.1L-55.1 -70.7L-55.3 -70.3L-55 -69.9L-54.4 -69.9L-53.7 -70.1ZM-72.2 -68.4L-72.2 -68.7L-72.5 -68.9L-73 -68.9L-73.5 -68.6L-73.6 -68.2L-73.5 -68L-73 -67.9L-72.5 -68.1ZM-62.2 -74.5L-62.2 -74.8L-62.4 -75L-62.9 -74.9L-63.4 -74.7L-63.6 -74.3L-63.5 -74L-63.1 -74L-62.6 -74.1ZM-99.2 -60.1L-99.1 -60.4L-99.4 -60.6L-99.8 -60.5L-100.2 -60.3L-100.4 -59.9L-100.3 -59.6L-99.9 -59.5L-99.5 -59.7ZM-79.1 -36.4L-79.1 -36.7L-79.4 -36.9L-79.7 -36.8L-80 -36.5L-80 -36.2L-79.9 -35.9L-79.6 -35.8L-79.3 -36ZM-112.2 -81.5L-112 -81.8L-112.3 -82L-113 -81.9L-113.7 -81.7L-114.2 -81.4L-114.2 -81.1L-113.6 -81.1L-112.9 -81.2ZM-124.9 -78.2L-124.7 -78.4L-125 -78.6L-125.8 -78.5L-126.5 -78.3L-126.9 -78L-126.8 -77.8L-126.2 -77.7L-125.5 -77.9ZM-77.9 -70.5L-77.8 -70.8L-78.1 -71L-78.6 -70.9L-79.1 -70.7L-79.3 -70.3L-79.1 -70.1L-78.7 -70L-78.2 -70.2ZM-99.6 -76.4L-99.4 -76.6L-99.6 -76.8L-100.1 -76.7L-100.6 -76.5L-101 -76.2L-100.9 -76L-100.5 -75.9L-100 -76.1ZM6.9 -34.6L6.6 -35.3L6.1 -35.7L5.4 -35.5L5 -35L5 -34.2L5.5 -33.7L6.1 -33.5L6.7 -33.9ZM9.2 -36L9 -36.5L8.5 -36.8L8 -36.7L7.6 -36.3L7.6 -35.7L8 -35.2L8.5 -35.1L9 -35.4ZM19.4 -29.8L19.2 -30.5L18.6 -30.9L18 -30.8L17.6 -30.2L17.6 -29.4L18 -28.8L18.7 -28.7L19.2 -29.1ZM3.1 -17.2L3 -17.7L2.6 -18L2.3 -17.9L2 -17.5L2 -16.9L2.3 -16.5L2.6 -16.4L3 -16.7ZM-3.2 -12.9L-3.3 -13.4L-3.7 -13.7L-4.1 -13.6L-4.3 -13.2L-4.3 -12.6L-4.1 -12.2L-3.7 -12.1L-3.3 -12.4ZM22.4 2.9L22.2 2.1L21.7 1.7L21.1 1.9L20.8 2.5L20.8 3.3L21.1 3.9L21.7 4L22.2 3.6ZM26.3 2.2L26.2 1.6L25.8 1.3L25.3 1.4L25 1.8L25 2.5L25.3 3L25.8 3.1L26.2 2.7ZM39.3 12.2L39.1 11.5L38.5 11.1L37.8 11.2L37.4 11.8L37.4 12.6L37.8 13.2L38.4 13.3L39 12.9ZM36.6 3.3L36.4 2.7L36 2.4L35.6 2.5L35.3 3L35.3 3.6L35.6 4.1L36 4.2L36.4 3.9ZM27 21.4L26.8 20.9L26.5 20.5L26 20.7L25.7 21.1L25.7 21.7L26 22.2L26.4 22.3L26.8 22ZM33.1 17.9L33 17.4L32.6 17.1L32.3 17.2L32 17.6L32 18.2L32.2 18.6L32.6 18.7L32.9 18.4ZM23.9 27L23.7 26.5L23.3 26.2L22.7 26.3L22.3 26.7L22.3 27.3L22.7 27.8L23.2 27.9L23.7 27.6ZM24.7 31.2L24.5 30.5L24.1 30.1L23.5 30.2L23.2 30.8L23.1 31.6L23.5 32.1L24 32.3L24.5 31.9ZM16.7 27L16.6 26.6L16.2 26.4L15.8 26.5L15.5 26.8L15.4 27.3L15.7 27.6L16.2 27.7L16.5 27.5ZM31.7 33.9L31.6 33.2L31.3 32.8L31 33L30.8 33.5L30.7 34.3L30.9 34.9L31.2 35L31.5 34.6ZM12.9 1.4L12.8 0.9L12.4 0.6L12 0.7L11.8 1.2L11.8 1.7L12 2.1L12.4 2.2L12.8 2ZM13.9 -4.3L13.8 -4.8L13.4 -5.1L13 -5L12.8 -4.6L12.8 -4L13 -3.6L13.4 -3.5L13.8 -3.8ZM23.3 -11.5L23.1 -12.1L22.6 -12.4L22.1 -12.3L21.7 -11.8L21.7 -11.2L22.1 -10.7L22.6 -10.6L23.1 -10.9ZM36.2 -17.2L36 -17.7L35.7 -18L35.3 -17.9L35.1 -17.5L35.1 -16.9L35.3 -16.5L35.7 -16.4L36.1 -16.7ZM40.1 4.3L40 3.8L39.6 3.5L39.2 3.6L38.9 4L38.9 4.6L39.1 5L39.6 5.1L40 4.8ZM37.4 -8.6L37.3 -9.1L36.9 -9.4L36.6 -9.3L36.3 -8.9L36.3 -8.3L36.6 -7.9L37 -7.8L37.3 -8.1ZM16 33.9L15.9 33.1L15.5 32.6L15.1 32.8L14.8 33.5L14.7 34.4L15 35.1L15.4 35.2L15.8 34.8ZM-13.6 -18.6L-13.8 -19.1L-14.1 -19.4L-14.5 -19.3L-14.7 -18.9L-14.8 -18.3L-14.5 -17.9L-14.1 -17.8L-13.8 -18.1ZM30.1 12.9L30 12.3L29.7 12L29.4 12.1L29.2 12.6L29.1 13.2L29.3 13.7L29.7 13.8L30 13.5ZM20.8 20L20.7 19.5L20.4 19.2L20 19.3L19.8 19.8L19.7 20.3L20 20.7L20.4 20.8L20.7 20.5ZM130 35.7L130 35.2L129.6 34.9L129 35L128.5 35.4L128.4 35.9L128.6 36.3L129.1 36.4L129.7 36.2ZM134.7 40L134.7 39.4L134.4 39.1L133.8 39.2L133.3 39.7L133.1 40.3L133.3 40.7L133.8 40.8L134.3 40.5ZM133.5 43.3L133.7 42.7L133.6 42.3L133.3 42.5L132.9 43L132.7 43.6L132.6 44.1L132.8 44.2L133.2 43.9ZM124.7 33.9L124.7 33.4L124.2 33.1L123.5 33.2L123 33.6L122.8 34.2L123.1 34.7L123.7 34.8L124.4 34.5ZM135.2 18.6L135.2 18L134.8 17.7L134.4 17.8L134 18.3L133.9 18.9L134.1 19.4L134.5 19.5L135 19.2ZM136 35.3L136 34.7L135.6 34.4L135.1 34.5L134.6 35L134.4 35.6L134.6 36L135.1 36.1L135.7 35.8ZM125.6 40.6L125.5 40.1L125.1 39.8L124.4 39.9L123.9 40.4L123.7 40.9L123.9 41.4L124.5 41.5L125.2 41.2ZM120.3 31.2L120.2 30.7L119.8 30.4L119.3 30.5L118.8 30.9L118.7 31.4L119 31.9L119.5 31.9L120 31.7ZM145.8 28.4L145.8 28L145.5 27.8L145 27.8L144.6 28.2L144.5 28.7L144.7 29L145.1 29.1L145.6 28.9ZM136.7 45.9L136.7 45.5L136.5 45.3L136 45.3L135.6 45.7L135.4 46.1L135.5 46.4L135.9 46.5L136.4 46.3ZM118.2 42L118.1 41.6L117.7 41.3L117.2 41.4L116.7 41.8L116.6 42.2L116.8 42.5L117.3 42.6L117.8 42.4ZM114.8 36.6L114.7 36.2L114.4 36L114 36.1L113.6 36.4L113.5 36.9L113.7 37.2L114.1 37.3L114.5 37ZM92.3 -69.5L91.7 -70.3L91.1 -70.7L91 -70.6L91.2 -69.9L91.8 -69L92.4 -68.4L92.8 -68.2L92.8 -68.7ZM113.8 -79L113.2 -79.3L112.5 -79.4L111.9 -79.4L111.8 -79.2L112.2 -78.9L112.9 -78.7L113.6 -78.6L113.9 -78.8ZM120.2 -82.3L119.6 -82.5L118.8 -82.7L118.3 -82.6L118.2 -82.4L118.7 -82.2L119.4 -82L120.1 -81.9L120.4 -82.1ZM79.6 -78.2L79.1 -78.4L78.5 -78.5L77.9 -78.5L77.6 -78.3L77.8 -78L78.4 -77.9L79.1 -77.8L79.6 -77.9ZM67.3 -81.5L66.9 -81.7L66.2 -81.8L65.7 -81.8L65.4 -81.6L65.6 -81.4L66.2 -81.2L66.8 -81.2L67.2 -81.3ZM54.9 -79.9L54.5 -80.1L53.9 -80.2L53.3 -80.2L53 -80L53.1 -79.8L53.7 -79.6L54.3 -79.6L54.8 -79.7ZM45.6 -82.3L45.3 -82.5L44.7 -82.6L44.1 -82.6L43.8 -82.4L44 -82.2L44.5 -82L45.1 -82L45.6 -82.1ZM87.2 -67.4L86.8 -67.8L86.5 -68L86.3 -67.9L86.4 -67.6L86.7 -67.1L87 -66.8L87.3 -66.7L87.4 -66.9ZM81.2 -66.6L80.9 -66.8L80.5 -66.9L80.2 -66.9L80 -66.7L80.1 -66.5L80.5 -66.3L80.9 -66.3L81.1 -66.4ZM95 -51L94.7 -51.3L94.2 -51.5L93.7 -51.4L93.5 -51.1L93.6 -50.8L94.1 -50.5L94.6 -50.5L95 -50.7ZM85.8 -43.3L85.5 -43.6L85 -43.8L84.5 -43.7L84.3 -43.5L84.4 -43.1L84.8 -42.8L85.3 -42.8L85.7 -42.9ZM83.5 -44.6L83.3 -44.9L82.8 -45L82.3 -44.9L82 -44.7L82.1 -44.4L82.5 -44.2L83 -44.2L83.4 -44.3ZM64.7 -65.2L64.4 -65.5L63.9 -65.6L63.5 -65.6L63.3 -65.3L63.4 -65L63.8 -64.8L64.3 -64.7L64.6 -64.9ZM11.2 -75.4L11.1 -75.6L10.7 -75.7L10.4 -75.7L10.2 -75.5L10.2 -75.3L10.4 -75.2L10.8 -75.1L11.1 -75.2ZM12.1 -74.8L12 -75.1L11.8 -75.2L11.6 -75.2L11.5 -74.9L11.6 -74.6L11.7 -74.4L11.9 -74.3L12 -74.5ZM23.2 -77.7L22.9 -78L22.5 -78.1L22.1 -78L21.9 -77.8L22 -77.6L22.3 -77.4L22.7 -77.4L23.1 -77.5ZM98.9 -74.5L98.5 -74.7L97.8 -74.9L97.2 -74.8L96.9 -74.6L97.2 -74.4L97.8 -74.2L98.5 -74.1L98.9 -74.2ZM103.2 -78.2L102.7 -78.4L102 -78.5L101.4 -78.5L101.2 -78.3L101.5 -78L102.1 -77.9L102.8 -77.8L103.2 -77.9ZM67.7 -71.5L67.4 -71.8L66.9 -71.9L66.5 -71.9L66.3 -71.7L66.5 -71.4L66.9 -71.2L67.3 -71.1L67.7 -71.3ZM130.5 -80.7L129.9 -81L129.1 -81.1L128.6 -81.1L128.5 -80.9L129 -80.6L129.7 -80.4L130.4 -80.3L130.7 -80.5ZM41 -79.9L40.7 -80.1L40.1 -80.2L39.5 -80.2L39.1 -80L39.2 -79.8L39.7 -79.6L40.4 -79.6L40.9 -79.7ZM36 -78.2L35.8 -78.4L35.4 -78.5L34.9 -78.5L34.7 -78.3L34.8 -78L35.2 -77.9L35.6 -77.8L36 -77.9ZM73.1 -64.1L72.8 -64.3L72.3 -64.5L71.9 -64.4L71.6 -64.2L71.8 -63.9L72.2 -63.7L72.7 -63.6L73 -63.8ZM71.7 -49.7L71.4 -50.1L70.9 -50.3L70.4 -50.2L70.1 -49.9L70.3 -49.5L70.7 -49.2L71.2 -49.1L71.6 -49.3ZM93.6 -39.3L93.4 -39.7L92.8 -39.8L92.3 -39.8L92.1 -39.5L92.2 -39.1L92.6 -38.9L93.1 -38.8L93.5 -39ZM44.8 -31.2L44.5 -31.7L43.9 -32L43.3 -31.9L42.9 -31.5L43 -30.9L43.4 -30.4L44.1 -30.3L44.6 -30.6ZM53.1 -29.8L52.8 -30.5L52 -30.9L51.2 -30.8L50.8 -30.2L50.8 -29.4L51.4 -28.8L52.2 -28.7L52.9 -29.1ZM55.6 -57.1L55.3 -57.5L54.9 -57.7L54.6 -57.6L54.4 -57.3L54.5 -56.9L54.8 -56.6L55.2 -56.5L55.5 -56.7ZM116.5 -4.3L116.4 -4.9L116 -5.2L115.5 -5.1L115.3 -4.6L115.3 -4L115.6 -3.5L116 -3.4L116.4 -3.7ZM119.7 -1.4L119.5 -2L119.1 -2.3L118.7 -2.2L118.4 -1.8L118.4 -1.1L118.7 -0.6L119.1 -0.5L119.5 -0.8ZM144.3 5.8L144.2 5.2L143.7 5L143.1 5.1L142.8 5.5L142.7 6L143.1 6.4L143.6 6.5L144.1 6.3ZM105.2 2.9L105.1 2.4L104.7 2.1L104.4 2.2L104.1 2.6L104.1 3.2L104.3 3.6L104.7 3.7L105.1 3.4ZM-76.2 11.5L-76.3 10.9L-76.6 10.6L-76.9 10.7L-77.1 11.2L-77.1 11.8L-76.9 12.3L-76.5 12.4L-76.3 12.1ZM-79.6 1.4L-79.7 1L-80 0.8L-80.2 0.8L-80.4 1.2L-80.4 1.7L-80.2 2L-80 2.1L-79.7 1.9ZM-72.4 21.4L-72.5 21L-72.8 20.8L-73.2 20.8L-73.3 21.2L-73.3 21.7L-73.1 22L-72.7 22.1L-72.5 21.9ZM-67.4 28.4L-67.6 28L-68 27.8L-68.5 27.8L-68.7 28.2L-68.7 28.7L-68.3 29L-67.9 29.1L-67.5 28.9ZM-59.5 66.3L-59.8 65.9L-60.2 65.8L-60.5 65.8L-60.6 66.1L-60.5 66.5L-60.2 66.7L-59.8 66.8L-59.5 66.6ZM-100 -27L-100 -27.4L-100.2 -27.6L-100.5 -27.5L-100.7 -27.2L-100.8 -26.8L-100.6 -26.6L-100.4 -26.5L-100.1 -26.7Z" fill="#3d6a4a" clip-path="url(#lc)"/>
<path id="dkl" d="M-107.8 -65.2L-108.1 -66L-108.4 -66.8L-109 -67L-109.6 -67.2L-110.2 -67.4L-109.8 -68.2L-109.4 -69L-109.5 -69.6L-109.6 -70.2L-109.8 -70.8L-109.7 -71.7L-109.6 -72.5L-109.8 -73.3L-109.9 -74L-110.2 -74.5L-110.5 -75L-111 -75.2L-111.5 -75.4L-112 -75.7L-112.5 -75.9M-67.5 56.5L-67.5 57.4L-67.4 58.3L-67.2 59.3L-67 60.3L-66.8 61.2L-66.7 62.4L-66.6 63.5L-66.4 64.6L-65.9 65.5L-65.3 66.5L-64.8 67.4L-64 68.2L-63.2 69L-62 69.7L-60.8 70.5L-59.7 71L-58.6 71.5L-57.7 71.7L-56.8 71.8" fill="none" stroke="#2e3b30" stroke-width="1.3"/>
<clipPath id="lc"><use href="#land"/></clipPath>
<filter id="fCattle" filterUnits="userSpaceOnUse" x="-190" y="-100" width="380" height="180" color-interpolation-filters="sRGB"><feGaussianBlur in="SourceGraphic" stdDeviation="1.6" result="f"/><feTurbulence type="fractalNoise" baseFrequency="0.42" numOctaves="3" seed="3" result="n"/><feColorMatrix in="n" type="matrix" values="1 0 0 0 0 1 0 0 0 0 1 0 0 0 0 0 0 0 0 1" result="g"/><feComposite in="f" in2="g" operator="arithmetic" k2="1" k3="0.420" k4="-0.210" result="s"/><feComponentTransfer in="s"><feFuncR type="discrete" tableValues="1.000 0.992 0.992 0.976 0.925 0.824 0.620 0.400"/><feFuncG type="discrete" tableValues="0.973 0.929 0.776 0.561 0.325 0.122 0.067 0.039"/><feFuncB type="discrete" tableValues="0.824 0.710 0.506 0.271 0.149 0.129 0.122 0.090"/></feComponentTransfer></filter>
<filter id="fBuffaloes" filterUnits="userSpaceOnUse" x="-190" y="-100" width="380" height="180" color-interpolation-filters="sRGB"><feGaussianBlur in="SourceGraphic" stdDeviation="1.5" result="f"/><feTurbulence type="fractalNoise" baseFrequency="0.42" numOctaves="3" seed="5" result="n"/><feColorMatrix in="n" type="matrix" values="1 0 0 0 0 1 0 0 0 0 1 0 0 0 0 0 0 0 0 1" result="g"/><feComposite in="f" in2="g" operator="arithmetic" k2="1" k3="0.300" k4="-0.150" result="s"/><feComponentTransfer in="s"><feFuncR type="discrete" tableValues="1.000 0.992 0.992 0.976 0.925 0.824 0.620 0.400"/><feFuncG type="discrete" tableValues="0.973 0.929 0.776 0.561 0.325 0.122 0.067 0.039"/><feFuncB type="discrete" tableValues="0.824 0.710 0.506 0.271 0.149 0.129 0.122 0.090"/></feComponentTransfer></filter>
<filter id="fSheep" filterUnits="userSpaceOnUse" x="-190" y="-100" width="380" height="180" color-interpolation-filters="sRGB"><feGaussianBlur in="SourceGraphic" stdDeviation="1.5" result="f"/><feTurbulence type="fractalNoise" baseFrequency="0.42" numOctaves="3" seed="7" result="n"/><feColorMatrix in="n" type="matrix" values="1 0 0 0 0 1 0 0 0 0 1 0 0 0 0 0 0 0 0 1" result="g"/><feComposite in="f" in2="g" operator="arithmetic" k2="1" k3="0.400" k4="-0.200" result="s"/><feComponentTransfer in="s"><feFuncR type="discrete" tableValues="1.000 0.992 0.992 0.976 0.925 0.824 0.620 0.400"/><feFuncG type="discrete" tableValues="0.973 0.929 0.776 0.561 0.325 0.122 0.067 0.039"/><feFuncB type="discrete" tableValues="0.824 0.710 0.506 0.271 0.149 0.129 0.122 0.090"/></feComponentTransfer></filter>
<filter id="fGoats" filterUnits="userSpaceOnUse" x="-190" y="-100" width="380" height="180" color-interpolation-filters="sRGB"><feGaussianBlur in="SourceGraphic" stdDeviation="1.5" result="f"/><feTurbulence type="fractalNoise" baseFrequency="0.42" numOctaves="3" seed="11" result="n"/><feColorMatrix in="n" type="matrix" values="1 0 0 0 0 1 0 0 0 0 1 0 0 0 0 0 0 0 0 1" result="g"/><feComposite in="f" in2="g" operator="arithmetic" k2="1" k3="0.400" k4="-0.200" result="s"/><feComponentTransfer in="s"><feFuncR type="discrete" tableValues="1.000 0.992 0.992 0.976 0.925 0.824 0.620 0.400"/><feFuncG type="discrete" tableValues="0.973 0.929 0.776 0.561 0.325 0.122 0.067 0.039"/><feFuncB type="discrete" tableValues="0.824 0.710 0.506 0.271 0.149 0.129 0.122 0.090"/></feComponentTransfer></filter>
<filter id="fHorses" filterUnits="userSpaceOnUse" x="-190" y="-100" width="380" height="180" color-interpolation-filters="sRGB"><feGaussianBlur in="SourceGraphic" stdDeviation="1.5" result="f"/><feTurbulence type="fractalNoise" baseFrequency="0.42" numOctaves="3" seed="13" result="n"/><feColorMatrix in="n" type="matrix" values="1 0 0 0 0 1 0 0 0 0 1 0 0 0 0 0 0 0 0 1" result="g"/><feComposite in="f" in2="g" operator="arithmetic" k2="1" k3="0.350" k4="-0.175" result="s"/><feComponentTransfer in="s"><feFuncR type="discrete" tableValues="1.000 0.992 0.992 0.976 0.925 0.824 0.620 0.400"/><feFuncG type="discrete" tableValues="0.973 0.929 0.776 0.561 0.325 0.122 0.067 0.039"/><feFuncB type="discrete" tableValues="0.824 0.710 0.506 0.271 0.149 0.129 0.122 0.090"/></feComponentTransfer></filter>
<filter id="fPigs" filterUnits="userSpaceOnUse" x="-190" y="-100" width="380" height="180" color-interpolation-filters="sRGB"><feGaussianBlur in="SourceGraphic" stdDeviation="1.5" result="f"/><feTurbulence type="fractalNoise" baseFrequency="0.42" numOctaves="3" seed="17" result="n"/><feColorMatrix in="n" type="matrix" values="1 0 0 0 0 1 0 0 0 0 1 0 0 0 0 0 0 0 0 1" result="g"/><feComposite in="f" in2="g" operator="arithmetic" k2="1" k3="0.400" k4="-0.200" result="s"/><feComponentTransfer in="s"><feFuncR type="discrete" tableValues="1.000 0.992 0.992 0.976 0.925 0.824 0.620 0.400"/><feFuncG type="discrete" tableValues="0.973 0.929 0.776 0.561 0.325 0.122 0.067 0.039"/><feFuncB type="discrete" tableValues="0.824 0.710 0.506 0.271 0.149 0.129 0.122 0.090"/></feComponentTransfer></filter>
<filter id="fChicken" filterUnits="userSpaceOnUse" x="-190" y="-100" width="380" height="180" color-interpolation-filters="sRGB"><feGaussianBlur in="SourceGraphic" stdDeviation="1.5" result="f"/><feTurbulence type="fractalNoise" baseFrequency="0.42" numOctaves="3" seed="19" result="n"/><feColorMatrix in="n" type="matrix" values="1 0 0 0 0 1 0 0 0 0 1 0 0 0 0 0 0 0 0 1" result="g"/><feComposite in="f" in2="g" operator="arithmetic" k2="1" k3="0.420" k4="-0.210" result="s"/><feComponentTransfer in="s"><feFuncR type="discrete" tableValues="1.000 1.000 1.000 0.992 0.984 0.969 0.933 0.859 0.753 0.608 0.416"/><feFuncG type="discrete" tableValues="0.988 0.973 0.941 0.839 0.678 0.537 0.384 0.224 0.125 0.071 0.039"/><feFuncB type="discrete" tableValues="0.933 0.831 0.706 0.557 0.396 0.271 0.196 0.157 0.122 0.110 0.082"/></feComponentTransfer></filter>
<filter id="fDucks" filterUnits="userSpaceOnUse" x="-190" y="-100" width="380" height="180" color-interpolation-filters="sRGB"><feGaussianBlur in="SourceGraphic" stdDeviation="1.5" result="f"/><feTurbulence type="fractalNoise" baseFrequency="0.42" numOctaves="3" seed="23" result="n"/><feColorMatrix in="n" type="matrix" values="1 0 0 0 0 1 0 0 0 0 1 0 0 0 0 0 0 0 0 1" result="g"/><feComposite in="f" in2="g" operator="arithmetic" k2="1" k3="0.300" k4="-0.150" result="s"/><feComponentTransfer in="s"><feFuncR type="discrete" tableValues="1.000 1.000 1.000 0.992 0.984 0.969 0.933 0.859 0.753 0.608 0.416"/><feFuncG type="discrete" tableValues="0.988 0.973 0.941 0.839 0.678 0.537 0.384 0.224 0.125 0.071 0.039"/><feFuncB type="discrete" tableValues="0.933 0.831 0.706 0.557 0.396 0.271 0.196 0.157 0.122 0.110 0.082"/></feComponentTransfer></filter>
</defs>
<g transform="translate(187.7 94.8)">
<use href="#frame" fill="#fff"/>
<use href="#grat"/>
<use href="#land" fill="#fdf3c6"/>
<g clip-path="url(#lc)"><g filter="url(#fCattle)"><rect x="-190" y="-100" width="380" height="180" fill="#000"/><path d="M-59.8 59.5L-60.8 56.9L-62.2 54.8L-63.6 53.6L-64.8 53.6L-65.6 54.8L-65.8 56.9L-65.2 59.5L-64.1 62L-62.6 64L-61.1 65L-59.9 65L-59.3 64L-59.2 62ZM67.5 -62.9L66.2 -64.4L63.8 -65.6L60.8 -66.2L57.7 -66.2L55.1 -65.6L53.5 -64.4L53.3 -62.9L54.5 -61.4L56.8 -60.2L59.9 -59.6L63.2 -59.6L65.8 -60.2L67.4 -61.4ZM138.8 25.6L138.7 23.8L137.6 22.4L135.7 21.5L133.5 21.5L131.3 22.4L129.6 23.8L128.8 25.6L128.9 27.5L129.9 28.9L131.7 29.7L134 29.7L136.2 28.9L137.9 27.5Z" fill="#303030"/><path d="M-96.4 -54.7L-95.5 -58.3L-96.4 -61.2L-98.7 -62.7L-102.3 -62.7L-106.4 -61.2L-110.3 -58.3L-113 -54.7L-114 -50.9L-112.9 -47.8L-110.1 -46.1L-106.3 -46.1L-102.2 -47.8L-98.7 -50.9ZM-103.7 -61.8L-103.2 -63.3L-103.5 -64.4L-104.5 -65.1L-106 -65.1L-107.9 -64.4L-109.6 -63.3L-110.9 -61.8L-111.5 -60.3L-111.2 -59.1L-110.1 -58.4L-108.5 -58.4L-106.6 -59.1L-105 -60.3ZM40.2 -71.5L38.9 -72.8L36.3 -73.9L32.9 -74.4L29.2 -74.4L26.1 -73.9L24 -72.8L23.5 -71.5L24.5 -70.2L27.1 -69.1L30.7 -68.5L34.5 -68.5L37.7 -69.1L39.8 -70.2ZM70.1 -70.5L68.9 -71.4L66.7 -72.1L63.8 -72.5L60.8 -72.5L58.4 -72.1L56.8 -71.4L56.6 -70.5L57.6 -69.6L59.8 -68.9L62.8 -68.5L65.8 -68.5L68.4 -68.9L69.9 -69.6ZM81.1 -70.5L80 -71.4L78.1 -72.1L75.9 -72.5L73.7 -72.5L71.9 -72.1L70.9 -71.4L70.9 -70.5L71.9 -69.6L73.7 -68.9L76 -68.5L78.3 -68.5L80.1 -68.9L81.1 -69.6ZM20 29.8L19.8 28L19.3 26.6L18.6 25.7L17.7 25.7L16.8 26.6L16.2 28L16 29.8L16.1 31.6L16.6 33L17.4 33.8L18.3 33.8L19.1 33L19.7 31.6ZM26 44.6L25.7 43.5L24.7 42.5L23.2 42L21.4 42L19.9 42.5L18.7 43.5L18.3 44.6L18.6 45.7L19.6 46.6L21.1 47.1L22.8 47.1L24.4 46.6L25.5 45.7ZM100.4 -62.9L98.7 -64.4L95.5 -65.6L91.6 -66.2L87.8 -66.2L84.6 -65.6L82.8 -64.4L82.6 -62.9L84.2 -61.4L87.3 -60.2L91.2 -59.6L95.2 -59.6L98.5 -60.2L100.4 -61.4ZM105.7 0L105.4 -2.5L104.5 -4.5L103.2 -5.6L101.8 -5.6L100.6 -4.5L99.8 -2.5L99.5 0L99.8 2.5L100.6 4.5L101.8 5.6L103.2 5.6L104.5 4.5L105.4 2.5ZM55.3 -47.2L54.5 -48.8L52.6 -50.2L50.2 -50.9L47.7 -50.9L45.5 -50.2L44.2 -48.8L43.9 -47.2L44.7 -45.5L46.5 -44.1L48.9 -43.4L51.5 -43.4L53.7 -44.1L55.1 -45.5ZM66.5 -48.4L65.8 -50.1L64.7 -51.4L63.4 -52.1L62.1 -52.1L61.2 -51.4L60.7 -50.1L60.8 -48.4L61.4 -46.8L62.5 -45.4L63.8 -44.7L65.1 -44.7L66.1 -45.4L66.6 -46.8ZM98.6 -43.3L97.6 -45L95.8 -46.3L93.6 -47.1L91.5 -47.1L89.8 -46.3L88.9 -45L88.9 -43.3L89.8 -41.6L91.5 -40.2L93.7 -39.4L95.9 -39.4L97.6 -40.2L98.6 -41.6ZM132.4 -49.7L131.9 -50.3L131.2 -50.7L130.3 -50.9L129.4 -50.9L128.8 -50.7L128.5 -50.3L128.6 -49.7L129 -49.2L129.8 -48.7L130.6 -48.5L131.5 -48.5L132.1 -48.7L132.4 -49.2ZM114.5 44.6L114.7 43.5L114.5 42.5L113.9 42L113 42L112.1 42.5L111.3 43.5L110.7 44.6L110.5 45.7L110.7 46.6L111.2 47.1L112.1 47.1L113 46.6L113.9 45.7Z" fill="#505050"/><path d="M-111 -51L-110.5 -52.6L-110.4 -53.9L-110.8 -54.6L-111.6 -54.6L-112.7 -53.9L-113.9 -52.6L-114.8 -51L-115.3 -49.3L-115.3 -48L-114.9 -47.3L-114 -47.3L-113 -48L-111.9 -49.3ZM-89 -67.4L-88.9 -68.5L-89.9 -69.4L-92 -69.9L-94.6 -69.9L-97.4 -69.4L-99.7 -68.5L-101.1 -67.4L-101.3 -66.2L-100.2 -65.2L-98.1 -64.7L-95.3 -64.7L-92.6 -65.2L-90.3 -66.2ZM-87.1 -62.9L-86.8 -64.4L-87.3 -65.6L-88.7 -66.2L-90.7 -66.2L-92.8 -65.6L-94.7 -64.4L-96 -62.9L-96.3 -61.4L-95.7 -60.2L-94.2 -59.6L-92.2 -59.6L-90.1 -60.2L-88.3 -61.4ZM-82.4 -52.2L-81.5 -57L-82.2 -60.7L-84.5 -62.7L-88.1 -62.7L-92.3 -60.7L-96.4 -57L-99.2 -52.2L-100.2 -47.3L-99.2 -43.2L-96.3 -40.9L-92.4 -40.9L-88.3 -43.2L-84.8 -47.3ZM-71.9 -49.7L-71.7 -53L-72.9 -55.5L-75.4 -56.9L-78.7 -56.9L-82.1 -55.5L-85.1 -53L-87 -49.7L-87.3 -46.4L-85.9 -43.7L-83.2 -42.2L-79.7 -42.2L-76.3 -43.7L-73.5 -46.4ZM-79.2 -53.5L-79.1 -54.5L-79.6 -55.4L-80.5 -55.8L-81.7 -55.8L-83 -55.4L-84.1 -54.5L-84.8 -53.5L-84.9 -52.4L-84.4 -51.5L-83.4 -51L-82.1 -51L-80.9 -51.5L-79.8 -52.4ZM-75.4 -47.2L-75.3 -48.3L-75.6 -49.2L-76.2 -49.7L-77 -49.7L-77.9 -49.2L-78.7 -48.3L-79.2 -47.2L-79.3 -46.1L-79 -45.2L-78.4 -44.7L-77.5 -44.7L-76.6 -45.2L-75.9 -46.1ZM-66 -57.1L-66 -58.1L-66.7 -59L-68 -59.4L-69.6 -59.4L-71.3 -59L-72.6 -58.1L-73.3 -57.1L-73.3 -56.1L-72.6 -55.2L-71.2 -54.7L-69.6 -54.7L-67.9 -55.2L-66.7 -56.1ZM-78.7 -39.3L-78.6 -40.5L-78.8 -41.4L-79.2 -41.9L-79.9 -41.9L-80.6 -41.4L-81.2 -40.5L-81.6 -39.3L-81.7 -38.2L-81.5 -37.2L-81 -36.7L-80.3 -36.7L-79.7 -37.2L-79.1 -38.2ZM-98.9 -42L-98.7 -43.7L-99.1 -45L-100 -45.8L-101.3 -45.8L-102.7 -45L-103.9 -43.7L-104.8 -42L-105 -40.2L-104.6 -38.9L-103.6 -38.1L-102.3 -38.1L-100.9 -38.9L-99.7 -40.2ZM-63.4 -11.5L-63.7 -12.7L-64.8 -13.7L-66.4 -14.3L-68.2 -14.3L-69.9 -13.7L-71.1 -12.7L-71.5 -11.5L-71.2 -10.2L-70.1 -9.2L-68.5 -8.7L-66.7 -8.7L-65 -9.2L-63.8 -10.2ZM-78.5 2.9L-78.6 0.4L-79.1 -1.6L-79.7 -2.7L-80.4 -2.7L-81 -1.6L-81.4 0.4L-81.6 2.9L-81.4 5.4L-80.9 7.4L-80.2 8.5L-79.5 8.5L-79 7.4L-78.6 5.4ZM-75.5 14.3L-75.8 11.9L-76.5 9.9L-77.4 8.8L-78.3 8.8L-79 9.9L-79.5 11.9L-79.6 14.3L-79.2 16.8L-78.4 18.8L-77.5 19.9L-76.6 19.9L-75.9 18.8L-75.5 16.8ZM-57.7 39.3L-58.2 37.6L-59.2 36.2L-60.5 35.4L-61.9 35.4L-62.9 36.2L-63.5 37.6L-63.5 39.3L-62.9 41L-61.9 42.4L-60.6 43.2L-59.3 43.2L-58.3 42.4L-57.7 41ZM-65.4 51L-65.8 49.9L-66.4 49L-67.1 48.5L-67.7 48.5L-68.2 49L-68.4 49.9L-68.2 51L-67.8 52.1L-67.2 52.9L-66.5 53.4L-65.8 53.4L-65.4 52.9L-65.2 52.1ZM-2.7 -57.7L-3 -58.5L-3.7 -59.1L-4.8 -59.4L-6 -59.4L-7.1 -59.1L-7.9 -58.5L-8.2 -57.7L-8 -56.9L-7.2 -56.3L-6.1 -55.9L-4.9 -55.9L-3.8 -56.3L-3 -56.9ZM21.6 -67.4L21 -68.3L19.7 -69L18 -69.4L16.1 -69.4L14.4 -69L13.3 -68.3L13 -67.4L13.5 -66.4L14.8 -65.7L16.5 -65.2L18.5 -65.2L20.2 -65.7L21.3 -66.4ZM27.4 -64.1L26.7 -65.3L25.4 -66.2L23.5 -66.7L21.6 -66.7L19.9 -66.2L18.8 -65.3L18.5 -64.1L19.1 -62.8L20.5 -61.8L22.3 -61.3L24.3 -61.3L26 -61.8L27.1 -62.8ZM47.7 -71.5L46.8 -72.4L44.9 -73.1L42.5 -73.5L39.9 -73.5L37.7 -73.1L36.3 -72.4L36 -71.5L36.9 -70.6L38.7 -69.9L41.2 -69.5L43.9 -69.5L46.1 -69.9L47.5 -70.6ZM51.9 -71.5L51.2 -72.4L50 -73.1L48.5 -73.5L47.1 -73.5L45.9 -73.1L45.2 -72.4L45.2 -71.5L45.9 -70.6L47.1 -69.9L48.6 -69.5L50.1 -69.5L51.3 -69.9L52 -70.6ZM38.1 -54.1L37.4 -55.1L35.7 -56L33.4 -56.4L30.9 -56.4L28.8 -56L27.4 -55.1L26.9 -54.1L27.6 -53L29.3 -52.1L31.6 -51.7L34.1 -51.7L36.3 -52.1L37.7 -53ZM46.8 -52.2L46.2 -53.3L45 -54.2L43.5 -54.6L41.8 -54.6L40.4 -54.2L39.5 -53.3L39.3 -52.2L39.9 -51.1L41 -50.3L42.6 -49.8L44.3 -49.8L45.8 -50.3L46.6 -51.1ZM16 -62.9L15.7 -63.7L14.9 -64.3L13.8 -64.6L12.6 -64.6L11.6 -64.3L10.9 -63.7L10.7 -62.9L11 -62.2L11.8 -61.6L12.9 -61.3L14.1 -61.3L15.1 -61.6L15.8 -62.2ZM64.9 -54.7L64.2 -55.7L62.9 -56.6L61.3 -57L59.7 -57L58.3 -56.6L57.5 -55.7L57.4 -54.7L58.1 -53.6L59.3 -52.8L60.9 -52.3L62.6 -52.3L64 -52.8L64.8 -53.6ZM-3.8 -44.6L-4.1 -45.7L-4.9 -46.6L-6 -47.1L-7.3 -47.1L-8.5 -46.6L-9.3 -45.7L-9.6 -44.6L-9.4 -43.5L-8.6 -42.5L-7.4 -42L-6.1 -42L-5 -42.5L-4.1 -43.5ZM9.1 -18.6L7.8 -20.4L4.2 -21.9L-1.1 -22.7L-7 -22.7L-12.2 -21.9L-15.9 -20.4L-17.3 -18.6L-16 -16.8L-12.3 -15.3L-7 -14.5L-1.1 -14.5L4.2 -15.3L7.8 -16.8ZM47.2 -5.8L46.8 -7.6L45.9 -9.1L44.7 -9.9L43.3 -9.9L42.1 -9.1L41.3 -7.6L41 -5.8L41.3 -3.9L42.2 -2.4L43.4 -1.5L44.8 -1.5L46 -2.4L46.9 -3.9ZM34.7 14.3L34.5 13.1L34 12.1L33.2 11.6L32.3 11.6L31.4 12.1L30.8 13.1L30.6 14.3L30.8 15.6L31.3 16.6L32.1 17.1L33 17.1L33.8 16.6L34.4 15.6ZM32.2 25.6L31.9 23.8L30.8 22.4L29.2 21.5L27.4 21.5L25.8 22.4L24.6 23.8L24.1 25.6L24.5 27.5L25.5 28.9L27.1 29.7L28.9 29.7L30.5 28.9L31.7 27.5ZM17.7 21.4L17.5 20.2L17 19.2L16.2 18.7L15.3 18.7L14.5 19.2L13.9 20.2L13.7 21.4L13.8 22.7L14.4 23.6L15.2 24.2L16.1 24.2L16.9 23.6L17.5 22.7ZM27.9 31.2L27.7 29.4L26.9 27.9L25.8 27.1L24.4 27.1L23.2 27.9L22.3 29.4L21.9 31.2L22.1 33L22.9 34.4L24 35.2L25.3 35.2L26.6 34.4L27.5 33ZM37.3 24.2L37.3 23L37 22L36.7 21.5L36.2 21.5L35.8 22L35.4 23L35.3 24.2L35.3 25.5L35.5 26.4L35.9 27L36.4 27L36.8 26.4L37.1 25.5ZM116.4 -42L114.2 -45.9L110.9 -49L107.1 -50.8L103.8 -50.8L101.4 -49L100.4 -45.9L100.9 -42L102.8 -37.9L105.8 -34.6L109.4 -32.8L112.9 -32.8L115.7 -34.6L116.9 -37.9ZM108.4 -58.3L107.5 -59.3L106 -60.1L104.3 -60.6L102.7 -60.6L101.5 -60.1L101 -59.3L101.1 -58.3L102 -57.3L103.4 -56.4L105.1 -56L106.8 -56L108 -56.4L108.6 -57.3ZM116.8 -59.5L115.5 -61L113.8 -62.2L111.9 -62.9L110.3 -62.9L109.3 -62.2L109 -61L109.6 -59.5L110.8 -57.9L112.5 -56.7L114.3 -56L116 -56L117 -56.7L117.4 -57.9ZM126.1 -17.2L125.7 -19L124.9 -20.5L123.9 -21.3L123 -21.3L122.4 -20.5L122 -19L122.1 -17.2L122.5 -15.3L123.2 -13.9L124.1 -13L125 -13L125.7 -13.9L126.2 -15.3ZM46.6 -21.4L46.3 -22.7L45.7 -23.6L44.8 -24.2L43.9 -24.2L43.1 -23.6L42.6 -22.7L42.5 -21.4L42.8 -20.2L43.4 -19.2L44.2 -18.7L45.1 -18.7L45.9 -19.2L46.4 -20.2ZM150.1 35.3L151.2 30.5L151.1 26.7L150 24.5L148.2 24.5L146.1 26.7L144 30.5L142.2 35.3L140.9 39.9L140.5 43.6L141.1 45.6L142.8 45.6L145.3 43.6L147.9 39.9ZM143.7 45.9L144.2 44.2L143.7 42.8L142.5 42.1L140.7 42.1L138.9 42.8L137.2 44.2L136.1 45.9L135.7 47.6L136.1 48.9L137.2 49.6L138.9 49.6L140.8 48.9L142.6 47.6Z" fill="#707070"/><path d="M-87 -57.1L-86.3 -59.7L-86.4 -61.7L-87.2 -62.8L-88.8 -62.8L-90.8 -61.7L-92.8 -59.7L-94.4 -57.1L-95.1 -54.5L-95 -52.3L-93.9 -51.1L-92.3 -51.1L-90.3 -52.3L-88.5 -54.5ZM-89.7 -47.2L-89.4 -49.4L-89.8 -51.1L-91 -52.1L-92.6 -52.1L-94.5 -51.1L-96.2 -49.4L-97.3 -47.2L-97.7 -44.9L-97.2 -43.1L-95.9 -42.1L-94.2 -42.1L-92.3 -43.1L-90.7 -44.9ZM-84.7 -51L-84.4 -52.6L-84.7 -53.9L-85.6 -54.6L-86.8 -54.6L-88.2 -53.9L-89.5 -52.6L-90.3 -51L-90.6 -49.3L-90.3 -48L-89.3 -47.3L-88.1 -47.3L-86.7 -48L-85.5 -49.3ZM-77.5 -49.7L-77.5 -50.8L-78 -51.7L-79 -52.2L-80.2 -52.2L-81.5 -51.7L-82.6 -50.8L-83.2 -49.7L-83.3 -48.6L-82.7 -47.7L-81.7 -47.2L-80.4 -47.2L-79.2 -47.7L-78.1 -48.6ZM-98 -33.9L-97.8 -36.9L-98.3 -39.2L-99.5 -40.5L-101.2 -40.5L-103.1 -39.2L-104.8 -36.9L-106 -33.9L-106.2 -31L-105.6 -28.5L-104.2 -27.2L-102.5 -27.2L-100.6 -28.5L-99 -31ZM-95.9 -29.8L-95.9 -31.6L-96.7 -33L-98.2 -33.8L-99.9 -33.8L-101.7 -33L-103.1 -31.6L-103.9 -29.8L-103.8 -28L-102.9 -26.6L-101.5 -25.7L-99.7 -25.7L-97.9 -26.6L-96.6 -28ZM-94.6 -31.2L-94.5 -33L-94.7 -34.4L-95.3 -35.2L-96.2 -35.2L-97.2 -34.4L-98 -33L-98.6 -31.2L-98.7 -29.4L-98.4 -27.9L-97.8 -27.1L-96.9 -27.1L-96 -27.9L-95.1 -29.4ZM-95.2 -27.7L-95.3 -28.9L-96 -29.9L-97.1 -30.4L-98.4 -30.4L-99.7 -29.9L-100.7 -28.9L-101.2 -27.7L-101.2 -26.5L-100.5 -25.6L-99.4 -25L-98 -25L-96.7 -25.6L-95.7 -26.5ZM-100.5 -29.1L-100.6 -30L-101.1 -30.7L-102 -31.1L-103.2 -31.1L-104.2 -30.7L-105.1 -30L-105.5 -29.1L-105.4 -28.2L-104.9 -27.5L-103.9 -27.1L-102.8 -27.1L-101.7 -27.5L-100.9 -28.2ZM-90.6 -24.9L-90.8 -25.9L-91.5 -26.6L-92.7 -27L-94 -27L-95.3 -26.6L-96.2 -25.9L-96.7 -24.9L-96.5 -24L-95.8 -23.3L-94.6 -22.9L-93.3 -22.9L-92 -23.3L-91.1 -24ZM-89 -22.1L-89.1 -23.1L-89.5 -23.8L-90.3 -24.2L-91.2 -24.2L-92.1 -23.8L-92.7 -23.1L-93 -22.1L-92.9 -21.2L-92.5 -20.5L-91.7 -20.1L-90.8 -20.1L-89.9 -20.5L-89.3 -21.2ZM-84.3 -18.6L-84.5 -19.8L-85.2 -20.8L-86.4 -21.4L-87.7 -21.4L-89 -20.8L-90 -19.8L-90.4 -18.6L-90.2 -17.4L-89.4 -16.4L-88.3 -15.8L-86.9 -15.8L-85.6 -16.4L-84.7 -17.4ZM-76.2 -25.8L-76.3 -26.4L-76.7 -26.9L-77.2 -27.1L-77.9 -27.1L-78.5 -26.9L-79 -26.4L-79.3 -25.8L-79.2 -25.2L-78.8 -24.7L-78.2 -24.4L-77.6 -24.4L-76.9 -24.7L-76.5 -25.2ZM-70.6 -10.1L-70.9 -12.5L-71.9 -14.5L-73.5 -15.6L-75.3 -15.6L-77 -14.5L-78.2 -12.5L-78.8 -10.1L-78.5 -7.6L-77.4 -5.6L-75.8 -4.5L-73.9 -4.5L-72.3 -5.6L-71.1 -7.6ZM-39.2 25.6L-40.7 19.5L-44 14.6L-48.6 11.8L-53.6 11.8L-58 14.6L-60.8 19.5L-61.4 25.6L-59.6 31.6L-56 36.4L-51.3 39L-46.5 39L-42.5 36.4L-39.9 31.6ZM-50.8 18.6L-51.4 16.1L-52.9 14.2L-55 13.1L-57.3 13.1L-59.3 14.2L-60.6 16.1L-60.9 18.6L-60.3 21.1L-58.7 23L-56.6 24.1L-54.3 24.1L-52.4 23L-51.1 21.1ZM-47 11.5L-47.5 9.6L-48.7 8.1L-50.3 7.3L-52.1 7.3L-53.8 8.1L-54.9 9.6L-55.2 11.5L-54.7 13.3L-53.5 14.8L-51.8 15.7L-50 15.7L-48.4 14.8L-47.4 13.3ZM-36.8 12.9L-37.2 10.4L-38.4 8.4L-40.1 7.3L-41.9 7.3L-43.5 8.4L-44.6 10.4L-44.9 12.9L-44.4 15.4L-43.2 17.4L-41.5 18.5L-39.7 18.5L-38.1 17.4L-37.1 15.4ZM-41 8.6L-41.3 6.8L-42.2 5.3L-43.4 4.4L-44.8 4.4L-46 5.3L-46.8 6.8L-47.1 8.6L-46.7 10.5L-45.8 12L-44.6 12.8L-43.2 12.8L-42 12L-41.2 10.5ZM-49.7 40.6L-50.7 37.2L-52.7 34.3L-55.3 32.8L-57.9 32.8L-60.1 34.3L-61.3 37.2L-61.3 40.6L-60.2 44.1L-58 46.8L-55.4 48.3L-52.9 48.3L-50.9 46.8L-49.7 44.1ZM-60.5 24.2L-60.9 22.4L-61.9 20.9L-63.2 20.1L-64.5 20.1L-65.7 20.9L-66.4 22.4L-66.5 24.2L-66 26.1L-65.1 27.5L-63.8 28.3L-62.4 28.3L-61.3 27.5L-60.6 26.1ZM-54.6 32.6L-55.1 30.8L-56.1 29.3L-57.4 28.5L-58.7 28.5L-59.8 29.3L-60.5 30.8L-60.6 32.6L-60.1 34.3L-59 35.7L-57.7 36.5L-56.4 36.5L-55.4 35.7L-54.7 34.3ZM-53.9 49.7L-54.4 48.6L-55.4 47.7L-56.6 47.2L-57.9 47.2L-58.9 47.7L-59.5 48.6L-59.6 49.7L-59 50.8L-58.1 51.7L-56.8 52.2L-55.6 52.2L-54.5 51.7L-53.9 50.8ZM20.9 -66.3L19.5 -68.6L16.5 -70.4L12.3 -71.4L7.8 -71.4L3.8 -70.4L1 -68.6L0 -66.3L1.1 -63.9L4 -61.9L8.4 -60.8L13.2 -60.8L17.4 -61.9L20.2 -63.9ZM5.3 -62.9L4.9 -64.4L3.9 -65.6L2.5 -66.2L1 -66.2L-0.4 -65.6L-1.4 -64.4L-1.8 -62.9L-1.4 -61.4L-0.4 -60.2L1 -59.6L2.6 -59.6L4.1 -60.2L5 -61.4ZM-0.9 -69.5L-1 -70.4L-1.3 -71.1L-1.8 -71.5L-2.4 -71.5L-2.9 -71.1L-3.3 -70.4L-3.4 -69.5L-3.3 -68.6L-3 -67.8L-2.4 -67.4L-1.9 -67.4L-1.3 -67.8L-1 -68.6ZM10.8 -61.2L10.6 -61.7L10 -62.1L9.3 -62.3L8.5 -62.3L7.8 -62.1L7.3 -61.7L7.2 -61.2L7.4 -60.7L7.9 -60.3L8.6 -60.1L9.4 -60.1L10.1 -60.3L10.6 -60.7ZM15.7 -66.3L15.2 -67.2L14.2 -68L12.8 -68.4L11.2 -68.4L9.9 -68L9 -67.2L8.7 -66.3L9.1 -65.3L10.1 -64.5L11.6 -64.1L13.1 -64.1L14.5 -64.5L15.4 -65.3ZM41 -53.5L40.6 -54.3L39.7 -54.9L38.5 -55.3L37.3 -55.3L36.2 -54.9L35.5 -54.3L35.4 -53.5L35.8 -52.7L36.7 -52L37.8 -51.6L39.1 -51.6L40.2 -52L40.8 -52.7ZM9.6 -72.5L9.4 -73L9 -73.3L8.5 -73.5L8 -73.5L7.5 -73.3L7.2 -73L7.1 -72.5L7.2 -72.1L7.6 -71.8L8.1 -71.6L8.7 -71.6L9.1 -71.8L9.5 -72.1ZM31.2 -38L31 -39.7L30.6 -41.1L30.3 -41.9L29.9 -41.9L29.7 -41.1L29.6 -39.7L29.6 -38L29.8 -36.2L30.1 -34.8L30.5 -34L30.9 -34L31.1 -34.8L31.2 -36.2ZM31 -42.6L30.8 -43.1L30.5 -43.4L30.1 -43.6L29.7 -43.6L29.3 -43.4L29.1 -43.1L29 -42.6L29.2 -42.2L29.5 -41.8L29.9 -41.6L30.3 -41.6L30.7 -41.8L30.9 -42.2ZM23.4 -16.5L21.5 -18.9L16.4 -20.9L9.1 -22L1 -22L-6.3 -20.9L-11.4 -18.9L-13.2 -16.5L-11.4 -14L-6.4 -12L1 -10.9L9.2 -10.9L16.6 -12L21.6 -14ZM28.5 -15.8L27.9 -17.6L26.1 -19.1L23.7 -19.9L21 -19.9L18.5 -19.1L16.9 -17.6L16.3 -15.8L16.9 -13.9L18.7 -12.4L21.1 -11.6L23.8 -11.6L26.3 -12.4L28 -13.9ZM31.7 -10.1L31.4 -11.9L30.5 -13.4L29.2 -14.2L27.9 -14.2L26.7 -13.4L25.8 -11.9L25.6 -10.1L25.9 -8.2L26.8 -6.7L28 -5.9L29.4 -5.9L30.6 -6.7L31.4 -8.2ZM12.2 -17.2L11.4 -18.7L9.1 -20L5.9 -20.6L2.2 -20.6L-1 -20L-3.3 -18.7L-4.1 -17.2L-3.3 -15.6L-1 -14.4L2.3 -13.7L5.9 -13.7L9.2 -14.4L11.4 -15.6ZM-11.2 -18.6L-11.5 -19.8L-12.3 -20.8L-13.5 -21.4L-14.8 -21.4L-16.1 -20.8L-16.9 -19.8L-17.3 -18.6L-17 -17.4L-16.2 -16.4L-14.9 -15.8L-13.6 -15.8L-12.3 -16.4L-11.5 -17.4ZM22.4 -14.3L22 -15.6L20.9 -16.6L19.2 -17.1L17.4 -17.1L15.8 -16.6L14.7 -15.6L14.3 -14.3L14.7 -13.1L15.8 -12.1L17.5 -11.6L19.3 -11.6L20.9 -12.1L22.1 -13.1ZM27.5 -17.2L27.1 -18.4L26.2 -19.4L25 -20L23.7 -20L22.5 -19.4L21.6 -18.4L21.4 -17.2L21.7 -16L22.6 -15L23.8 -14.4L25.2 -14.4L26.4 -15L27.2 -16ZM38 0L37.7 -1.9L36.8 -3.4L35.6 -4.2L34.2 -4.2L33 -3.4L32.1 -1.9L31.8 0L32.1 1.9L33 3.4L34.2 4.2L35.6 4.2L36.8 3.4L37.7 1.9ZM37.9 7.2L37.6 5.3L36.8 3.8L35.6 3L34.2 3L33 3.8L32.1 5.3L31.8 7.2L32 9.1L32.9 10.6L34.1 11.4L35.4 11.4L36.7 10.6L37.6 9.1ZM48.7 27L48.7 24L48.3 21.6L47.6 20.2L46.7 20.2L45.8 21.6L45.1 24L44.7 27L44.6 30L45 32.4L45.6 33.8L46.5 33.8L47.4 32.4L48.2 30ZM31.4 38L31.2 36.2L30.5 34.8L29.4 34L28 34L26.8 34.8L25.9 36.2L25.5 38L25.7 39.7L26.4 41.1L27.5 41.9L28.8 41.9L30 41.1L30.9 39.7ZM80.6 -24.2L80.1 -26.1L79.1 -27.5L77.8 -28.3L76.4 -28.3L75.3 -27.5L74.7 -26.1L74.6 -24.2L75.1 -22.4L76.1 -20.9L77.4 -20.1L78.7 -20.1L79.9 -20.9L80.6 -22.4ZM71.1 -40.6L70.4 -42.4L69.4 -43.7L68 -44.5L66.7 -44.5L65.7 -43.7L65.2 -42.4L65.2 -40.6L65.8 -38.9L66.9 -37.5L68.2 -36.7L69.5 -36.7L70.6 -37.5L71.1 -38.9ZM102.7 -35.3L102.1 -36.5L101 -37.4L99.7 -37.9L98.4 -37.9L97.4 -37.4L96.8 -36.5L96.7 -35.3L97.3 -34.1L98.3 -33.2L99.6 -32.6L101 -32.6L102 -33.2L102.7 -34.1ZM112.5 -49.7L111.5 -51.4L110.2 -52.7L108.7 -53.4L107.5 -53.4L106.7 -52.7L106.4 -51.4L106.8 -49.7L107.8 -48.1L109.1 -46.7L110.5 -46L111.8 -46L112.6 -46.7L112.9 -48.1ZM105.9 -47.2L105.2 -48.3L104.1 -49.2L102.8 -49.7L101.5 -49.7L100.5 -49.2L100.1 -48.3L100.2 -47.2L100.8 -46.1L101.9 -45.2L103.3 -44.7L104.6 -44.7L105.5 -45.2L106 -46.1ZM98.9 -29.8L98.1 -32.2L96.9 -34.1L95.5 -35.1L94.1 -35.1L93.2 -34.1L92.7 -32.2L92.9 -29.8L93.6 -27.4L94.7 -25.5L96.1 -24.4L97.4 -24.4L98.5 -25.5L99 -27.4ZM109.1 -22.8L108.3 -25.3L106.8 -27.2L105 -28.3L103.3 -28.3L101.8 -27.2L101.1 -25.3L101 -22.8L101.7 -20.4L103.1 -18.4L104.9 -17.3L106.7 -17.3L108.2 -18.4L109.1 -20.4ZM94.5 -36.6L94.1 -37.2L93.5 -37.7L92.6 -37.9L91.8 -37.9L91 -37.7L90.6 -37.2L90.5 -36.6L90.9 -36L91.5 -35.6L92.3 -35.3L93.2 -35.3L94 -35.6L94.4 -36ZM149.5 39.3L150.2 37L150.4 35.1L149.9 34.1L149 34.1L147.9 35.1L146.7 37L145.6 39.3L144.9 41.6L144.6 43.4L144.9 44.5L145.8 44.5L147 43.4L148.4 41.6ZM139.2 51L139.4 50.2L139 49.5L138 49.1L136.8 49.1L135.4 49.5L134.3 50.2L133.6 51L133.5 51.8L133.9 52.4L134.8 52.8L136.1 52.8L137.4 52.4L138.5 51.8ZM149.2 28.4L149.4 26.6L149.2 25.2L148.6 24.3L147.7 24.3L146.7 25.2L145.8 26.6L145.2 28.4L144.9 30.2L145 31.7L145.6 32.5L146.5 32.5L147.5 31.7L148.5 30.2Z" fill="#8f8f8f"/><path d="M-73.3 -30.5L-73.6 -32L-74.8 -33.2L-76.6 -33.8L-78.9 -33.8L-81 -33.2L-82.5 -32L-83.3 -30.5L-83 -29L-81.8 -27.8L-79.9 -27.1L-77.7 -27.1L-75.6 -27.8L-74 -29ZM-69.3 -27L-69.4 -27.9L-70 -28.7L-70.9 -29.1L-72.1 -29.1L-73.1 -28.7L-73.9 -27.9L-74.3 -27L-74.1 -26.1L-73.5 -25.4L-72.6 -25L-71.4 -25L-70.4 -25.4L-69.6 -26.1ZM-74 -12.9L-74.2 -14.2L-74.7 -15.1L-75.4 -15.7L-76.3 -15.7L-77.2 -15.1L-77.8 -14.2L-78.1 -12.9L-78 -11.7L-77.5 -10.7L-76.7 -10.1L-75.8 -10.1L-74.9 -10.7L-74.3 -11.7ZM-46.8 31.2L-47.7 27L-49.3 23.6L-51.5 21.7L-53.7 21.7L-55.6 23.6L-56.7 27L-56.8 31.2L-55.8 35.3L-54 38.6L-51.8 40.4L-49.6 40.4L-47.9 38.6L-46.9 35.3ZM-42.3 24.2L-42.9 21.8L-44.1 19.8L-45.8 18.8L-47.6 18.8L-49.2 19.8L-50.2 21.8L-50.4 24.2L-49.8 26.7L-48.5 28.6L-46.8 29.7L-45.1 29.7L-43.5 28.6L-42.6 26.7ZM-36.6 18.6L-36.8 16.8L-37.5 15.3L-38.3 14.5L-39.2 14.5L-40 15.3L-40.5 16.8L-40.6 18.6L-40.3 20.4L-39.7 21.9L-38.8 22.7L-37.9 22.7L-37.2 21.9L-36.7 20.4ZM-51.2 43.3L-51.8 41.6L-52.8 40.2L-54.1 39.4L-55.4 39.4L-56.4 40.2L-57 41.6L-57 43.3L-56.4 45L-55.4 46.3L-54.1 47.1L-52.8 47.1L-51.8 46.3L-51.2 45ZM-53.7 45.9L-54.3 44.2L-55.6 42.8L-57.3 42.1L-59.1 42.1L-60.5 42.8L-61.3 44.2L-61.3 45.9L-60.6 47.6L-59.3 48.9L-57.6 49.6L-55.9 49.6L-54.5 48.9L-53.7 47.6ZM2.6 -66.3L2.2 -68.1L1 -69.6L-0.7 -70.4L-2.6 -70.4L-4.4 -69.6L-5.6 -68.1L-6.1 -66.3L-5.7 -64.4L-4.6 -62.8L-2.8 -61.9L-0.8 -61.9L1 -62.8L2.2 -64.4ZM3.6 -62.9L3.3 -63.9L2.5 -64.7L1.5 -65.1L0.3 -65.1L-0.8 -64.7L-1.5 -63.9L-1.8 -62.9L-1.5 -61.9L-0.8 -61.1L0.3 -60.7L1.5 -60.7L2.6 -61.1L3.3 -61.9ZM0.9 -64.1L0.7 -64.8L0.2 -65.4L-0.5 -65.7L-1.3 -65.7L-2 -65.4L-2.5 -64.8L-2.6 -64.1L-2.5 -63.3L-2 -62.7L-1.3 -62.4L-0.5 -62.4L0.2 -62.7L0.7 -63.3ZM-5.1 -69.5L-5.2 -70.2L-5.7 -70.7L-6.4 -71L-7.1 -71L-7.8 -70.7L-8.3 -70.2L-8.5 -69.5L-8.4 -68.8L-7.9 -68.2L-7.3 -67.9L-6.5 -67.9L-5.8 -68.2L-5.3 -68.8ZM8.6 -67.9L8.3 -68.8L7.5 -69.5L6.5 -69.9L5.4 -69.9L4.4 -69.5L3.7 -68.8L3.4 -67.9L3.7 -67L4.5 -66.2L5.5 -65.8L6.7 -65.8L7.7 -66.2L8.4 -67ZM10.2 -17.2L9.9 -18.1L9 -18.9L7.8 -19.3L6.4 -19.3L5.2 -18.9L4.4 -18.1L4.1 -17.2L4.4 -16.3L5.2 -15.5L6.5 -15.1L7.8 -15.1L9 -15.5L9.9 -16.3ZM33.7 -14.3L33.2 -16.2L32 -17.7L30.4 -18.5L28.6 -18.5L26.9 -17.7L25.9 -16.2L25.5 -14.3L25.9 -12.5L27.1 -11L28.8 -10.2L30.6 -10.2L32.2 -11L33.3 -12.5ZM42.9 -12.9L42.4 -16L41.1 -18.5L39.4 -19.8L37.6 -19.8L36.1 -18.5L35 -16L34.7 -12.9L35.2 -9.8L36.4 -7.3L38 -5.9L39.9 -5.9L41.5 -7.3L42.6 -9.8ZM39 4.3L38.8 2.4L38.2 0.9L37.4 0.1L36.5 0.1L35.7 0.9L35.1 2.4L34.9 4.3L35.1 6.2L35.6 7.7L36.4 8.5L37.3 8.5L38.2 7.7L38.7 6.2ZM34.4 -1.4L34.2 -2.4L33.8 -3.1L33.2 -3.5L32.5 -3.5L31.9 -3.1L31.4 -2.4L31.3 -1.4L31.4 -0.5L31.9 0.2L32.5 0.7L33.2 0.7L33.8 0.2L34.2 -0.5ZM86.9 -29.8L84.9 -35.7L81.5 -40.4L77.4 -43L73.5 -43L70.5 -40.4L68.9 -35.7L68.9 -29.8L70.5 -23.8L73.5 -18.9L77.4 -16.1L81.5 -16.1L84.9 -18.9L86.9 -23.8ZM85 -39.3L84.6 -39.9L83.7 -40.4L82.5 -40.6L81.2 -40.6L80 -40.4L79.3 -39.9L79.2 -39.3L79.6 -38.7L80.5 -38.3L81.7 -38L83 -38L84.2 -38.3L84.9 -38.7ZM105.7 -42L104.9 -43.7L103.7 -45L102.3 -45.8L101 -45.8L100.1 -45L99.7 -43.7L99.9 -42L100.7 -40.2L101.9 -38.9L103.3 -38.1L104.6 -38.1L105.6 -38.9L106 -40.2ZM121.8 -50.7L121.1 -51.8L120.1 -52.7L119.1 -53.2L118.3 -53.2L117.8 -52.7L117.7 -51.8L118 -50.7L118.7 -49.6L119.6 -48.7L120.6 -48.3L121.4 -48.3L122 -48.7L122.1 -49.6ZM116.6 10.5L116.2 9.7L115.1 9.1L113.5 8.8L111.7 8.8L110 9.1L108.9 9.7L108.4 10.5L108.8 11.2L109.9 11.8L111.5 12.2L113.3 12.2L115 11.8L116.1 11.2ZM131.5 -58.7L130.9 -59.3L130.1 -59.8L129.3 -60L128.6 -60L128.1 -59.8L128 -59.3L128.2 -58.7L128.8 -58L129.5 -57.5L130.4 -57.3L131.1 -57.3L131.6 -57.5L131.7 -58ZM127.3 -45.2L126.8 -46.1L126.1 -46.9L125.3 -47.2L124.6 -47.2L124.2 -46.9L124.1 -46.1L124.3 -45.2L124.8 -44.3L125.5 -43.6L126.3 -43.2L127 -43.2L127.4 -43.6L127.6 -44.3ZM166.3 53.5L167.4 51.3L167.8 49.6L167.3 48.6L166 48.6L164.3 49.6L162.4 51.3L160.7 53.5L159.5 55.6L159 57.3L159.4 58.2L160.6 58.2L162.4 57.3L164.4 55.6ZM157.1 59.5L158.3 57.7L158.6 56.2L158.1 55.4L156.8 55.4L155.2 56.2L153.3 57.7L151.7 59.5L150.5 61.2L150.1 62.6L150.5 63.4L151.7 63.4L153.4 62.6L155.4 61.2Z" fill="#afafaf"/><path d="M-77.2 -31.2L-77.3 -31.8L-77.8 -32.3L-78.5 -32.5L-79.4 -32.5L-80.2 -32.3L-80.9 -31.8L-81.2 -31.2L-81.1 -30.6L-80.6 -30.1L-79.8 -29.8L-78.9 -29.8L-78.1 -30.1L-77.5 -30.6ZM-5.1 -69.5L-5.2 -70.2L-5.7 -70.7L-6.4 -71L-7.1 -71L-7.8 -70.7L-8.3 -70.2L-8.5 -69.5L-8.4 -68.8L-7.9 -68.2L-7.3 -67.9L-6.5 -67.9L-5.8 -68.2L-5.3 -68.8ZM41.8 -14.3L41.6 -15.9L40.9 -17.1L40.1 -17.8L39.2 -17.8L38.4 -17.1L37.9 -15.9L37.7 -14.3L38 -12.8L38.6 -11.6L39.4 -10.9L40.3 -10.9L41.1 -11.6L41.7 -12.8ZM82.5 -37.3L82 -38.2L81.1 -38.9L79.8 -39.3L78.5 -39.3L77.4 -38.9L76.7 -38.2L76.6 -37.3L77.1 -36.4L78 -35.7L79.3 -35.3L80.6 -35.3L81.7 -35.7L82.4 -36.4ZM86.9 -35.3L86.5 -36.2L85.8 -36.9L84.9 -37.3L84.1 -37.3L83.4 -36.9L82.9 -36.2L82.9 -35.3L83.3 -34.4L84 -33.7L84.8 -33.3L85.7 -33.3L86.4 -33.7L86.9 -34.4ZM90.3 -33.9L90 -34.8L89.5 -35.5L89 -35.9L88.5 -35.9L88.1 -35.5L87.9 -34.8L87.9 -33.9L88.2 -33L88.7 -32.3L89.2 -31.9L89.8 -31.9L90.2 -32.3L90.4 -33ZM78.9 -15.8L78.8 -16.4L78.5 -16.9L78 -17.2L77.6 -17.2L77.2 -16.9L77 -16.4L76.9 -15.8L77 -15.2L77.4 -14.7L77.8 -14.4L78.2 -14.4L78.6 -14.7L78.9 -15.2ZM72.5 -43.3L72.2 -44L71.7 -44.5L71 -44.8L70.4 -44.8L69.9 -44.5L69.6 -44L69.6 -43.3L69.9 -42.6L70.4 -42L71 -41.7L71.7 -41.7L72.2 -42L72.5 -42.6Z" fill="#cfcfcf"/></g></g>
<use href="#grl"/><use href="#grd"/>
<use href="#bord"/>
<use href="#gl" fill="#8d9393"/><use href="#glg" fill="#45875c"/><use href="#ice" fill="#bfc2b9"/>
<use href="#land" fill="none" stroke="#3e4a3b" stroke-width="0.55" stroke-opacity="0.9"/>
<use href="#dkl"/>
<use href="#frame" fill="none" stroke="#a4a4a4" stroke-width="1.2"/>
</g>
<text x="20.8" y="117" class="lb">Cattle</text>
<g transform="translate(582.6 94.8)">
<use href="#frame" fill="#fff"/>
<use href="#grat"/>
<use href="#land" fill="#fdf5ca"/>
<g clip-path="url(#lc)"><g filter="url(#fBuffaloes)"><rect x="-190" y="-100" width="380" height="180" fill="#000"/><path d="M115.6 10.1L115.3 9.4L114.5 8.9L113.3 8.7L111.9 8.7L110.7 8.9L109.8 9.4L109.5 10.1L109.7 10.7L110.5 11.2L111.8 11.5L113.1 11.5L114.4 11.2L115.3 10.7ZM105.7 0L105.4 -1.9L104.5 -3.4L103.2 -4.2L101.9 -4.2L100.7 -3.4L99.8 -1.9L99.5 0L99.8 1.9L100.7 3.4L101.9 4.2L103.2 4.2L104.5 3.4L105.4 1.9ZM124.1 4.3L123.9 3.1L123.4 2.1L122.6 1.5L121.6 1.5L120.8 2.1L120.2 3.1L120 4.3L120.1 5.6L120.7 6.6L121.5 7.1L122.4 7.1L123.2 6.6L123.8 5.6Z" fill="#505050"/><path d="M90.6 -33.9L90.2 -35.1L89.6 -36L88.9 -36.6L88.2 -36.6L87.8 -36L87.5 -35.1L87.6 -33.9L88 -32.7L88.6 -31.8L89.3 -31.3L90 -31.3L90.5 -31.8L90.7 -32.7ZM70.6 -38L70.1 -39.7L69.3 -41.1L68.4 -41.9L67.5 -41.9L66.9 -41.1L66.6 -39.7L66.7 -38L67.2 -36.2L67.9 -34.8L68.9 -34L69.7 -34L70.4 -34.8L70.7 -36.2ZM116.1 -36.6L114.5 -39.5L111.6 -41.8L108.1 -43.1L104.6 -43.1L101.9 -41.8L100.4 -39.5L100.4 -36.6L101.8 -33.7L104.6 -31.3L108 -30L111.6 -30L114.5 -31.3L116.1 -33.7ZM104.2 -40.6L103.3 -42.4L101.8 -43.7L100 -44.5L98.3 -44.5L97 -43.7L96.3 -42.4L96.4 -40.6L97.2 -38.9L98.7 -37.5L100.5 -36.7L102.2 -36.7L103.6 -37.5L104.3 -38.9ZM116 -43.3L115.3 -44.4L114.1 -45.3L112.8 -45.8L111.5 -45.8L110.5 -45.3L110.1 -44.4L110.2 -43.3L110.8 -42.1L111.9 -41.2L113.3 -40.7L114.6 -40.7L115.6 -41.2L116.1 -42.1ZM99.1 -28.4L98.5 -30.2L97.4 -31.7L96 -32.5L94.7 -32.5L93.7 -31.7L93.1 -30.2L93.1 -28.4L93.7 -26.6L94.8 -25.2L96.1 -24.3L97.4 -24.3L98.5 -25.2L99.1 -26.6ZM106.1 -22.8L105.6 -24.1L104.6 -25L103.3 -25.6L101.9 -25.6L100.8 -25L100.1 -24.1L100 -22.8L100.5 -21.6L101.4 -20.6L102.7 -20.1L104.1 -20.1L105.2 -20.6L105.9 -21.6ZM108.3 -17.2L108 -18.4L107.3 -19.4L106.4 -20L105.5 -20L104.8 -19.4L104.3 -18.4L104.3 -17.2L104.6 -16L105.2 -15L106.1 -14.4L107 -14.4L107.8 -15L108.3 -16Z" fill="#707070"/><path d="M85.4 -32.6L83.7 -37.3L80.7 -41L77.2 -43L73.7 -43L71 -41L69.6 -37.3L69.5 -32.6L71 -27.8L73.6 -23.9L77.1 -21.7L80.7 -21.7L83.7 -23.9L85.4 -27.8ZM81.8 -22.8L81.2 -25.3L80.1 -27.2L78.8 -28.3L77.4 -28.3L76.4 -27.2L75.8 -25.3L75.8 -22.8L76.3 -20.4L77.3 -18.4L78.6 -17.3L80 -17.3L81.1 -18.4L81.8 -20.4ZM84.9 -29.8L84.3 -31.6L83.2 -33L81.9 -33.8L80.6 -33.8L79.5 -33L78.9 -31.6L78.9 -29.8L79.5 -28L80.5 -26.6L81.8 -25.7L83.1 -25.7L84.2 -26.6L84.9 -28ZM110.2 -32.6L109.7 -33.7L108.6 -34.7L107.3 -35.2L106 -35.2L104.9 -34.7L104.3 -33.7L104.3 -32.6L104.8 -31.4L105.9 -30.4L107.2 -29.9L108.5 -29.9L109.6 -30.4L110.2 -31.4ZM114.3 -39.3L113.7 -40.5L112.6 -41.4L111.3 -41.9L110 -41.9L109 -41.4L108.4 -40.5L108.5 -39.3L109.1 -38.2L110.2 -37.2L111.5 -36.7L112.8 -36.7L113.9 -37.2L114.4 -38.2ZM103 -33.9L102.4 -35.1L101.4 -36L100.1 -36.6L98.7 -36.6L97.7 -36L97.1 -35.1L97 -33.9L97.6 -32.7L98.6 -31.8L99.9 -31.3L101.2 -31.3L102.3 -31.8L103 -32.7ZM107.6 -25.6L107.2 -26.9L106.5 -27.8L105.6 -28.4L104.7 -28.4L104 -27.8L103.6 -26.9L103.6 -25.6L104 -24.4L104.7 -23.5L105.6 -22.9L106.5 -22.9L107.2 -23.5L107.6 -24.4ZM127.1 -17.2L126.5 -19.6L125.3 -21.6L123.9 -22.7L122.6 -22.7L121.6 -21.6L121 -19.6L121 -17.2L121.6 -14.7L122.7 -12.7L124 -11.6L125.4 -11.6L126.5 -12.7L127.1 -14.7ZM124.3 -22.8L123.8 -24.4L123 -25.6L122 -26.3L121.2 -26.3L120.5 -25.6L120.1 -24.4L120.2 -22.8L120.7 -21.3L121.4 -20.1L122.3 -19.4L123.2 -19.4L123.9 -20.1L124.3 -21.3ZM129.8 -11.5L129.5 -12.7L128.8 -13.7L127.9 -14.3L127 -14.3L126.3 -13.7L125.8 -12.7L125.7 -11.5L126 -10.2L126.7 -9.2L127.5 -8.7L128.4 -8.7L129.2 -9.2L129.7 -10.2ZM31.2 -42.6L31 -43.3L30.6 -43.9L30.1 -44.2L29.6 -44.2L29.2 -43.9L28.9 -43.3L28.9 -42.6L29 -41.9L29.4 -41.4L29.9 -41.1L30.4 -41.1L30.8 -41.4L31.1 -41.9ZM92 -36.6L91.7 -37.2L91.2 -37.7L90.6 -37.9L89.9 -37.9L89.4 -37.7L89.1 -37.2L89.1 -36.6L89.3 -36L89.8 -35.6L90.5 -35.3L91.1 -35.3L91.7 -35.6L92 -36Z" fill="#8f8f8f"/><path d="M84.3 -38L83.4 -39.7L81.4 -41.1L78.9 -41.9L76.3 -41.9L74.2 -41.1L72.8 -39.7L72.6 -38L73.5 -36.2L75.4 -34.8L77.9 -34L80.5 -34L82.8 -34.8L84.1 -36.2ZM73.4 -43.3L72.9 -44.4L71.9 -45.3L70.6 -45.8L69.3 -45.8L68.3 -45.3L67.7 -44.4L67.6 -43.3L68.2 -42.1L69.1 -41.2L70.4 -40.7L71.7 -40.7L72.8 -41.2L73.4 -42.1ZM84 -39.3L83.7 -39.9L83.1 -40.4L82.2 -40.6L81.4 -40.6L80.6 -40.4L80.2 -39.9L80.1 -39.3L80.5 -38.7L81.1 -38.3L81.9 -38L82.8 -38L83.5 -38.3L84 -38.7ZM87.9 -35.3L87.3 -36.5L86.3 -37.4L85 -37.9L83.7 -37.9L82.6 -37.4L82 -36.5L81.9 -35.3L82.5 -34.1L83.4 -33.2L84.7 -32.6L86.1 -32.6L87.2 -33.2L87.8 -34.1ZM74.7 -31.2L74.3 -32.4L73.6 -33.3L72.7 -33.9L71.9 -33.9L71.1 -33.3L70.7 -32.4L70.7 -31.2L71.1 -30L71.8 -29L72.6 -28.5L73.5 -28.5L74.3 -29L74.7 -30ZM84.2 -38.6L83.9 -39.1L83.5 -39.5L82.8 -39.7L82.2 -39.7L81.6 -39.5L81.3 -39.1L81.3 -38.6L81.5 -38.2L82 -37.8L82.6 -37.6L83.3 -37.6L83.8 -37.8L84.2 -38.2Z" fill="#afafaf"/><path d="M76 -40.6L75.6 -41.5L74.9 -42.2L74 -42.6L73.2 -42.6L72.5 -42.2L72.1 -41.5L72.1 -40.6L72.4 -39.8L73.1 -39.1L74 -38.7L74.8 -38.7L75.5 -39.1L75.9 -39.8ZM81.5 -37.3L81.2 -37.9L80.6 -38.4L79.7 -38.6L78.9 -38.6L78.1 -38.4L77.7 -37.9L77.6 -37.3L77.9 -36.7L78.6 -36.3L79.4 -36L80.3 -36L81 -36.3L81.5 -36.7Z" fill="#cfcfcf"/></g></g>
<use href="#grl"/><use href="#grd"/>
<use href="#bord"/>
<use href="#gl" fill="#8d9393"/><use href="#glg" fill="#45875c"/><use href="#ice" fill="#bfc2b9"/>
<use href="#land" fill="none" stroke="#3e4a3b" stroke-width="0.55" stroke-opacity="0.9"/>
<use href="#dkl"/>
<use href="#frame" fill="none" stroke="#a4a4a4" stroke-width="1.2"/>
</g>
<text x="412.6" y="117.2" class="lb">Buffaloes</text>
<g transform="translate(187.7 272.7)">
<use href="#frame" fill="#fff"/>
<use href="#grat"/>
<use href="#land" fill="#fdf3c6"/>
<g clip-path="url(#lc)"><g filter="url(#fSheep)"><rect x="-190" y="-100" width="380" height="180" fill="#000"/><path d="M17.3 17.2L17 15.3L16.2 13.9L15 13L13.6 13L12.4 13.9L11.5 15.3L11.2 17.2L11.5 19L12.3 20.5L13.5 21.3L14.8 21.3L16.1 20.5L17 19ZM141.2 28.4L141 26L139.1 24.1L136.1 23L132.5 23L129.1 24.1L126.5 26L125.2 28.4L125.4 30.8L127.1 32.7L130 33.8L133.5 33.8L137 32.7L139.7 30.8ZM-93.5 -57.1L-93 -59.7L-94 -61.7L-96.2 -62.8L-99.4 -62.8L-102.9 -61.7L-106 -59.7L-108.1 -57.1L-108.7 -54.5L-107.6 -52.3L-105.1 -51.1L-101.8 -51.1L-98.3 -52.3L-95.3 -54.5Z" fill="#303030"/><path d="M32 -62.9L31.2 -64.2L29.6 -65.1L27.4 -65.7L25 -65.7L23 -65.1L21.7 -64.2L21.3 -62.9L22 -61.7L23.6 -60.7L25.9 -60.1L28.3 -60.1L30.4 -60.7L31.7 -61.7ZM41.2 -68.4L40.1 -69.8L37.9 -70.9L35 -71.5L32 -71.5L29.5 -70.9L27.8 -69.8L27.4 -68.4L28.4 -67L30.5 -65.9L33.5 -65.3L36.6 -65.3L39.3 -65.9L40.9 -67ZM51.9 -69.5L51.1 -70.4L49.4 -71.1L47.2 -71.5L45 -71.5L43.1 -71.1L41.9 -70.4L41.7 -69.5L42.5 -68.6L44.1 -67.8L46.4 -67.4L48.7 -67.4L50.6 -67.8L51.8 -68.6ZM84.9 -35.3L84 -37L82 -38.4L79.5 -39.2L76.9 -39.2L74.7 -38.4L73.3 -37L73.1 -35.3L73.9 -33.5L75.8 -32.1L78.3 -31.3L81 -31.3L83.3 -32.1L84.6 -33.5ZM46.5 -33.9L45.8 -36.3L44.2 -38.1L42.1 -39.2L40 -39.2L38.1 -38.1L36.9 -36.3L36.6 -33.9L37.3 -31.5L38.8 -29.6L40.9 -28.6L43.2 -28.6L45.1 -29.6L46.3 -31.5ZM90.8 -43.3L89.9 -44.4L88.1 -45.3L85.6 -45.8L83.1 -45.8L80.9 -45.3L79.5 -44.4L79.2 -43.3L80.1 -42.1L81.9 -41.2L84.4 -40.7L87 -40.7L89.2 -41.2L90.6 -42.1ZM21 -58.3L20 -60.3L17.9 -61.9L14.9 -62.8L11.8 -62.8L8.9 -61.9L7 -60.3L6.4 -58.3L7.2 -56.2L9.3 -54.5L12.3 -53.6L15.6 -53.6L18.5 -54.5L20.4 -56.2ZM26.9 31.2L26.7 30L25.9 29L24.7 28.5L23.4 28.5L22.1 29L21.3 30L20.9 31.2L21.2 32.4L21.9 33.3L23.1 33.9L24.4 33.9L25.7 33.3L26.5 32.4ZM33.2 25.6L33 24.4L32.2 23.5L31 22.9L29.6 22.9L28.4 23.5L27.5 24.4L27.2 25.6L27.4 26.9L28.2 27.8L29.4 28.4L30.7 28.4L31.9 27.8L32.8 26.9ZM48.6 28.4L48.6 26L48.1 24.1L47.4 23L46.5 23L45.6 24.1L44.9 26L44.6 28.4L44.6 30.8L44.9 32.7L45.6 33.8L46.5 33.8L47.4 32.7L48.1 30.8ZM-97.3 -32.6L-97.3 -34.3L-98.1 -35.7L-99.5 -36.5L-101.3 -36.5L-103 -35.7L-104.5 -34.3L-105.3 -32.6L-105.3 -30.8L-104.4 -29.3L-103 -28.5L-101.2 -28.5L-99.5 -29.3L-98.1 -30.8ZM-52.9 49.7L-53.6 48.1L-55 46.7L-56.6 46L-58.3 46L-59.7 46.7L-60.5 48.1L-60.5 49.7L-59.8 51.4L-58.4 52.7L-56.7 53.4L-55.1 53.4L-53.7 52.7L-53 51.4Z" fill="#505050"/><path d="M20.2 -62.3L19.8 -63.2L19 -64L17.8 -64.5L16.7 -64.5L15.7 -64L15 -63.2L14.8 -62.3L15.2 -61.3L16 -60.5L17.1 -60L18.3 -60L19.3 -60.5L20 -61.3ZM56.5 -45.9L55.3 -48.7L53.1 -50.9L50.2 -52.1L47.3 -52.1L44.8 -50.9L43.4 -48.7L43.1 -45.9L44.2 -43.1L46.4 -40.8L49.3 -39.5L52.3 -39.5L54.9 -40.8L56.4 -43.1ZM61.1 -54.7L60.2 -56.3L58.3 -57.5L55.9 -58.2L53.5 -58.2L51.4 -57.5L50.2 -56.3L50 -54.7L50.9 -53.1L52.8 -51.8L55.2 -51.1L57.7 -51.1L59.8 -51.8L61 -53.1ZM78.9 -29.8L78.3 -31.6L77.3 -33L75.9 -33.8L74.6 -33.8L73.5 -33L72.9 -31.6L72.9 -29.8L73.4 -28L74.5 -26.6L75.8 -25.7L77.1 -25.7L78.2 -26.6L78.9 -28ZM39.8 -42L39.4 -43.1L38.4 -44L37.2 -44.5L35.9 -44.5L34.8 -44L34.1 -43.1L34 -42L34.4 -40.8L35.3 -39.9L36.5 -39.4L37.8 -39.4L38.9 -39.9L39.6 -40.8ZM96.4 -47.2L95.2 -48.8L93.2 -50.2L90.7 -50.9L88.2 -50.9L86.1 -50.2L85 -48.8L84.9 -47.2L86 -45.5L87.9 -44.1L90.5 -43.4L93.1 -43.4L95.2 -44.1L96.3 -45.5ZM101.3 -62.9L99.4 -64.4L96.1 -65.6L91.8 -66.2L87.6 -66.2L84.1 -65.6L82 -64.4L81.7 -62.9L83.4 -61.4L86.7 -60.2L91 -59.6L95.4 -59.6L99.1 -60.2L101.2 -61.4ZM19.3 -20L17.8 -22.5L13.8 -24.4L8.2 -25.5L1.9 -25.5L-3.8 -24.4L-7.7 -22.5L-9.1 -20L-7.7 -17.6L-3.8 -15.6L1.9 -14.5L8.3 -14.5L14 -15.6L17.9 -17.6ZM33.5 -18.6L32.6 -21.1L30.3 -23L27 -24.1L23.4 -24.1L20.2 -23L18 -21.1L17.3 -18.6L18.1 -16.1L20.4 -14.2L23.7 -13.1L27.3 -13.1L30.6 -14.2L32.8 -16.1ZM52.2 -48.4L50.8 -51.2L47.7 -53.3L43.8 -54.5L39.7 -54.5L36.1 -53.3L33.8 -51.2L33.2 -48.4L34.5 -45.7L37.4 -43.4L41.5 -42.1L45.8 -42.1L49.5 -43.4L51.8 -45.7ZM20.3 -43.3L19.9 -43.8L18.8 -44.3L17.2 -44.6L15.5 -44.6L14 -44.3L12.9 -43.8L12.6 -43.3L13 -42.7L14.1 -42.3L15.6 -42L17.4 -42L18.9 -42.3L19.9 -42.7ZM22.3 -18.6L21.9 -20.1L20.7 -21.4L19.1 -22.1L17.3 -22.1L15.7 -21.4L14.6 -20.1L14.2 -18.6L14.6 -17.1L15.8 -15.8L17.4 -15.1L19.3 -15.1L20.9 -15.8L22 -17.1ZM37.9 7.2L37.6 5.3L36.8 3.8L35.6 3L34.2 3L33 3.8L32.1 5.3L31.8 7.2L32 9.1L32.9 10.6L34.1 11.4L35.4 11.4L36.7 10.6L37.6 9.1ZM42.3 -24.2L42.1 -25.5L41.4 -26.4L40.6 -27L39.7 -27L38.9 -26.4L38.4 -25.5L38.3 -24.2L38.6 -23L39.2 -22L40 -21.5L40.9 -21.5L41.7 -22L42.2 -23ZM147.1 38L147.3 36.2L146.4 34.8L144.7 34L142.5 34L140.2 34.8L138.4 36.2L137.3 38L137.2 39.7L138 41.1L139.6 41.9L141.8 41.9L144 41.1L146 39.7ZM-38.8 14.3L-39.1 12.5L-40 11L-41.3 10.2L-42.6 10.2L-43.8 11L-44.6 12.5L-44.9 14.3L-44.5 16.2L-43.6 17.7L-42.3 18.5L-41 18.5L-39.8 17.7L-39 16.2ZM-57.8 58.7L-58.8 56.6L-60.3 54.9L-62 54L-63.7 54L-64.9 54.9L-65.4 56.6L-65.1 58.7L-64.1 60.7L-62.5 62.3L-60.8 63.2L-59.2 63.2L-58.1 62.3L-57.6 60.7ZM-65.4 51L-65.8 49.9L-66.4 49L-67.1 48.5L-67.7 48.5L-68.2 49L-68.4 49.9L-68.2 51L-67.8 52.1L-67.2 52.9L-66.5 53.4L-65.8 53.4L-65.4 52.9L-65.2 52.1Z" fill="#707070"/><path d="M0.5 -54.7L0 -56.5L-1.1 -58L-2.7 -58.8L-4.5 -58.8L-6.2 -58L-7.4 -56.5L-7.9 -54.7L-7.5 -52.8L-6.4 -51.3L-4.7 -50.5L-2.8 -50.5L-1.1 -51.3L0.1 -52.8ZM2.7 -62.4L2.4 -63.6L1.6 -64.6L0.6 -65.1L-0.6 -65.1L-1.6 -64.6L-2.4 -63.6L-2.7 -62.4L-2.4 -61.1L-1.7 -60.1L-0.6 -59.5L0.6 -59.5L1.7 -60.1L2.4 -61.1ZM4.5 -59.5L4.3 -60.2L3.8 -60.8L3.1 -61.2L2.3 -61.2L1.6 -60.8L1.1 -60.2L0.9 -59.5L1.1 -58.7L1.6 -58.1L2.3 -57.7L3.1 -57.7L3.9 -58.1L4.4 -58.7ZM13.7 -57.1L13.5 -58.1L12.9 -59L12.2 -59.4L11.4 -59.4L10.7 -59L10.2 -58.1L10.1 -57.1L10.3 -56.1L10.9 -55.2L11.6 -54.7L12.5 -54.7L13.2 -55.2L13.6 -56.1ZM25.5 -58.3L25 -59.3L23.9 -60.1L22.4 -60.6L20.8 -60.6L19.4 -60.1L18.5 -59.3L18.2 -58.3L18.7 -57.3L19.8 -56.4L21.3 -56L22.9 -56L24.4 -56.4L25.3 -57.3ZM21.1 -57.1L20.8 -57.9L20.2 -58.5L19.5 -58.8L18.7 -58.8L18 -58.5L17.5 -57.9L17.4 -57.1L17.7 -56.3L18.2 -55.7L19 -55.3L19.8 -55.3L20.5 -55.7L21 -56.3ZM43.8 -61.8L43.2 -62.8L42 -63.6L40.5 -64L38.9 -64L37.6 -63.6L36.8 -62.8L36.7 -61.8L37.2 -60.8L38.4 -60L39.9 -59.5L41.5 -59.5L42.9 -60L43.7 -60.8ZM42.7 -48.4L42.2 -49.8L40.9 -50.9L39.3 -51.5L37.7 -51.5L36.2 -50.9L35.3 -49.8L35.1 -48.4L35.7 -47.1L36.9 -45.9L38.5 -45.3L40.2 -45.3L41.7 -45.9L42.6 -47.1ZM44.9 -46.5L44.5 -47.6L43.6 -48.5L42.3 -49L41.1 -49L40 -48.5L39.3 -47.6L39.2 -46.5L39.6 -45.4L40.6 -44.5L41.8 -44L43.1 -44L44.2 -44.5L44.8 -45.4ZM57.7 -49.7L57.2 -50.8L56.2 -51.7L54.9 -52.2L53.7 -52.2L52.7 -51.7L52.1 -50.8L52 -49.7L52.5 -48.6L53.5 -47.7L54.7 -47.2L56 -47.2L57 -47.7L57.6 -48.6ZM65.2 -53.5L64.5 -54.5L63.3 -55.4L61.7 -55.8L60 -55.8L58.7 -55.4L57.8 -54.5L57.7 -53.5L58.4 -52.4L59.6 -51.5L61.2 -51L62.9 -51L64.3 -51.5L65.1 -52.4ZM72.2 -60.1L70.8 -61.3L68 -62.3L64.2 -62.9L60.2 -62.9L56.9 -62.3L54.7 -61.3L54.2 -60.1L55.4 -58.8L58.2 -57.8L62.1 -57.2L66.2 -57.2L69.6 -57.8L71.8 -58.8ZM66.8 -47.2L66 -48.8L64.6 -50.2L63 -50.9L61.3 -50.9L59.9 -50.2L59.2 -48.8L59.2 -47.2L59.9 -45.5L61.2 -44.1L62.9 -43.4L64.6 -43.4L66 -44.1L66.8 -45.5ZM68.7 -38L68.2 -39.1L67.5 -40.1L66.7 -40.6L65.8 -40.6L65.1 -40.1L64.7 -39.1L64.7 -38L65.1 -36.8L65.8 -35.9L66.7 -35.3L67.6 -35.3L68.3 -35.9L68.7 -36.8ZM48.1 -21.4L47.7 -22.7L47 -23.6L45.9 -24.2L44.8 -24.2L43.8 -23.6L43.2 -22.7L43 -21.4L43.3 -20.2L44.1 -19.2L45.1 -18.7L46.3 -18.7L47.3 -19.2L47.9 -20.2ZM80.6 -54.7L79.7 -55.7L77.8 -56.6L75.5 -57L73 -57L71 -56.6L69.7 -55.7L69.5 -54.7L70.4 -53.6L72.2 -52.8L74.6 -52.3L77.1 -52.3L79.2 -52.8L80.4 -53.6ZM90 -64.1L89.1 -65L87.7 -65.8L86.1 -66.2L84.6 -66.2L83.4 -65.8L82.8 -65L83 -64.1L83.8 -63.1L85.2 -62.3L86.8 -61.9L88.4 -61.9L89.6 -62.3L90.2 -63.1ZM101.2 -42.5L100.6 -43.6L99.7 -44.5L98.6 -45L97.5 -45L96.7 -44.5L96.3 -43.6L96.4 -42.5L96.9 -41.3L97.9 -40.4L99 -39.9L100.1 -39.9L100.9 -40.4L101.3 -41.3ZM107.5 -62.9L106.6 -63.9L105.4 -64.7L104.1 -65.1L102.9 -65.1L102.1 -64.7L101.9 -63.9L102.2 -62.9L103 -61.9L104.2 -61.1L105.6 -60.7L106.8 -60.7L107.6 -61.1L107.9 -61.9ZM39.7 -15.8L39 -18.8L37.2 -21.3L34.7 -22.7L32 -22.7L29.6 -21.3L28 -18.8L27.5 -15.8L28.2 -12.7L29.9 -10.2L32.4 -8.8L35.2 -8.8L37.6 -10.2L39.2 -12.7ZM10 -48.4L9.8 -49.3L9.4 -49.9L8.8 -50.3L8.2 -50.3L7.6 -49.9L7.2 -49.3L7.1 -48.4L7.3 -47.6L7.7 -46.9L8.3 -46.6L8.9 -46.6L9.5 -46.9L9.9 -47.6ZM31.2 -38L31 -39.7L30.6 -41.1L30.3 -41.9L29.9 -41.9L29.7 -41.1L29.6 -39.7L29.6 -38L29.8 -36.2L30.1 -34.8L30.5 -34L30.9 -34L31.1 -34.8L31.2 -36.2ZM-2 -22.8L-2.6 -24.4L-4.3 -25.6L-6.7 -26.3L-9.4 -26.3L-11.8 -25.6L-13.5 -24.4L-14.1 -22.8L-13.6 -21.3L-11.9 -20.1L-9.5 -19.4L-6.8 -19.4L-4.3 -20.1L-2.6 -21.3ZM6.1 -21.4L5.5 -23L3.8 -24.2L1.3 -24.9L-1.3 -24.9L-3.8 -24.2L-5.5 -23L-6.1 -21.4L-5.5 -19.9L-3.8 -18.7L-1.4 -18L1.4 -18L3.8 -18.7L5.5 -19.9ZM-13.2 -20.7L-13.3 -22L-13.9 -22.9L-14.7 -23.5L-15.6 -23.5L-16.4 -22.9L-17 -22L-17.2 -20.7L-17 -19.5L-16.5 -18.5L-15.7 -18L-14.8 -18L-14 -18.5L-13.4 -19.5ZM12.2 -16.5L11.8 -17.4L10.7 -18.1L9 -18.6L7.2 -18.6L5.6 -18.1L4.5 -17.4L4.1 -16.5L4.5 -15.6L5.6 -14.8L7.3 -14.4L9.1 -14.4L10.7 -14.8L11.8 -15.6ZM29.5 -15.8L29.2 -17L28.3 -18L27.1 -18.5L25.7 -18.5L24.5 -18L23.7 -17L23.4 -15.8L23.8 -14.5L24.6 -13.5L25.9 -13L27.2 -13L28.4 -13.5L29.3 -14.5ZM48.2 -7.2L47.8 -9.1L46.9 -10.6L45.7 -11.4L44.3 -11.4L43.1 -10.6L42.3 -9.1L42 -7.2L42.3 -5.3L43.2 -3.8L44.5 -3L45.8 -3L47 -3.8L47.9 -5.3ZM41 -1.4L40.7 -3.3L39.9 -4.8L38.6 -5.6L37.2 -5.6L36 -4.8L35.2 -3.3L34.9 -1.4L35.2 0.4L36 1.9L37.3 2.8L38.6 2.8L39.9 1.9L40.7 0.4ZM20.7 35.3L20.5 32.9L19.8 31L18.6 29.9L17.3 29.9L16.1 31L15.2 32.9L14.8 35.3L15 37.6L15.8 39.5L16.9 40.5L18.2 40.5L19.4 39.5L20.3 37.6ZM134.8 46.5L135.1 45.4L135 44.5L134.4 44L133.6 44L132.6 44.5L131.7 45.4L131 46.5L130.7 47.6L130.8 48.5L131.3 49L132.2 49L133.2 48.5L134.1 47.6ZM-79 4.3L-79.1 2.8L-79.4 1.5L-79.8 0.8L-80.3 0.8L-80.7 1.5L-80.9 2.8L-81 4.3L-80.9 5.9L-80.6 7.1L-80.1 7.8L-79.7 7.8L-79.3 7.1L-79 5.9ZM-63.7 31.2L-64.1 30L-64.8 29L-65.6 28.5L-66.5 28.5L-67.3 29L-67.7 30L-67.7 31.2L-67.4 32.4L-66.7 33.3L-65.8 33.9L-64.9 33.9L-64.2 33.3L-63.8 32.4ZM-36.2 11.8L-36.5 9.9L-37.4 8.4L-38.7 7.6L-40 7.6L-41.2 8.4L-42.1 9.9L-42.3 11.8L-41.9 13.6L-41 15.1L-39.8 15.9L-38.4 15.9L-37.2 15.1L-36.4 13.6ZM-57.9 65.2L-58.6 63.7L-59.8 62.5L-61.1 61.9L-62.3 61.9L-63.1 62.5L-63.4 63.7L-63.1 65.2L-62.3 66.6L-61.1 67.7L-59.8 68.3L-58.6 68.3L-57.9 67.7L-57.6 66.6Z" fill="#8f8f8f"/><path d="M-5.1 -69.5L-5.2 -70.2L-5.7 -70.7L-6.4 -71L-7.1 -71L-7.8 -70.7L-8.3 -70.2L-8.5 -69.5L-8.4 -68.8L-7.9 -68.2L-7.3 -67.9L-6.5 -67.9L-5.8 -68.2L-5.3 -68.8ZM0 -53.5L-0.2 -54.5L-0.7 -55.4L-1.4 -55.8L-2.3 -55.8L-3 -55.4L-3.5 -54.5L-3.7 -53.5L-3.6 -52.4L-3 -51.5L-2.3 -51L-1.5 -51L-0.7 -51.5L-0.2 -52.4ZM-3.7 -55.9L-3.8 -56.9L-4.3 -57.8L-5.1 -58.2L-5.9 -58.2L-6.6 -57.8L-7.2 -56.9L-7.4 -55.9L-7.2 -54.8L-6.7 -54L-6 -53.5L-5.2 -53.5L-4.4 -54L-3.9 -54.8ZM9.7 -54.7L9.6 -55.5L9.1 -56.1L8.6 -56.5L8 -56.5L7.4 -56.1L7.1 -55.5L6.9 -54.7L7.1 -53.9L7.5 -53.2L8.1 -52.9L8.7 -52.9L9.3 -53.2L9.6 -53.9ZM22.3 -54.1L22 -54.9L21.5 -55.5L20.7 -55.9L19.9 -55.9L19.2 -55.5L18.7 -54.9L18.6 -54.1L18.8 -53.3L19.4 -52.6L20.2 -52.3L21 -52.3L21.7 -52.6L22.2 -53.3ZM40.1 -53.5L39.1 -54.8L36.9 -55.8L33.8 -56.4L30.5 -56.4L27.7 -55.8L25.7 -54.8L25.1 -53.5L26 -52.1L28.2 -51L31.3 -50.4L34.7 -50.4L37.6 -51L39.5 -52.1ZM40.1 -53.5L39.6 -54.5L38.7 -55.4L37.5 -55.8L36.3 -55.8L35.2 -55.4L34.6 -54.5L34.5 -53.5L34.9 -52.4L35.8 -51.5L37 -51L38.3 -51L39.3 -51.5L40 -52.4ZM43.1 -57.1L42.6 -57.9L41.7 -58.5L40.6 -58.8L39.4 -58.8L38.3 -58.5L37.7 -57.9L37.6 -57.1L38 -56.3L38.9 -55.7L40 -55.3L41.3 -55.3L42.3 -55.7L43 -56.3ZM47.3 -49.7L46.7 -51.1L45.8 -52.2L44.5 -52.8L43.3 -52.8L42.3 -52.2L41.7 -51.1L41.6 -49.7L42.1 -48.3L43.1 -47.2L44.3 -46.6L45.6 -46.6L46.6 -47.2L47.2 -48.3ZM62.7 -55.9L62 -56.9L60.7 -57.8L59.1 -58.2L57.5 -58.2L56.2 -57.8L55.4 -56.9L55.3 -55.9L55.9 -54.8L57.2 -54L58.8 -53.5L60.4 -53.5L61.8 -54L62.6 -54.8ZM71.2 -56.5L70.8 -57.1L70 -57.6L69 -57.9L67.9 -57.9L67.1 -57.6L66.6 -57.1L66.6 -56.5L67 -55.9L67.8 -55.4L68.8 -55.1L69.9 -55.1L70.7 -55.4L71.2 -55.9ZM70.5 -43.3L69.8 -45.5L68.5 -47.3L67.2 -48.3L65.9 -48.3L65 -47.3L64.6 -45.5L64.7 -43.3L65.5 -41L66.6 -39.1L68 -38.1L69.3 -38.1L70.3 -39.1L70.7 -41ZM74.6 -37.6L74 -39.3L72.9 -40.7L71.6 -41.5L70.3 -41.5L69.3 -40.7L68.7 -39.3L68.7 -37.6L69.3 -35.8L70.4 -34.4L71.7 -33.6L73 -33.6L74.1 -34.4L74.6 -35.8ZM81.3 -22.8L80.8 -25.3L79.8 -27.2L78.7 -28.3L77.6 -28.3L76.7 -27.2L76.2 -25.3L76.3 -22.8L76.8 -20.4L77.6 -18.4L78.8 -17.3L79.9 -17.3L80.8 -18.4L81.3 -20.4ZM80.6 -59.5L80 -60.2L79 -60.8L77.8 -61.2L76.6 -61.2L75.6 -60.8L75.1 -60.2L75.2 -59.5L75.7 -58.7L76.7 -58.1L77.9 -57.7L79.2 -57.7L80.1 -58.1L80.6 -58.7ZM97.4 -49.7L96.7 -50.8L95.6 -51.7L94.3 -52.2L93 -52.2L92.1 -51.7L91.6 -50.8L91.7 -49.7L92.4 -48.6L93.4 -47.7L94.8 -47.2L96 -47.2L97 -47.7L97.5 -48.6ZM101.1 -52.2L100.4 -53.3L99.2 -54.2L97.9 -54.6L96.7 -54.6L95.8 -54.2L95.3 -53.3L95.5 -52.2L96.2 -51.1L97.3 -50.3L98.6 -49.8L99.9 -49.8L100.8 -50.3L101.3 -51.1ZM108.1 -57.1L107.3 -58.1L106.1 -59L104.8 -59.4L103.6 -59.4L102.7 -59L102.4 -58.1L102.6 -57.1L103.4 -56.1L104.6 -55.2L105.9 -54.7L107.1 -54.7L108 -55.2L108.4 -56.1ZM113.2 -59.5L112.2 -60.7L110.8 -61.7L109.4 -62.3L108.2 -62.3L107.5 -61.7L107.3 -60.7L107.8 -59.5L108.7 -58.2L110 -57.2L111.4 -56.6L112.7 -56.6L113.5 -57.2L113.7 -58.2ZM112.1 -48.4L111.3 -49.5L110.2 -50.4L108.9 -50.9L107.6 -50.9L106.7 -50.4L106.2 -49.5L106.4 -48.4L107.1 -47.3L108.2 -46.4L109.5 -45.9L110.8 -45.9L111.8 -46.4L112.2 -47.3ZM6.7 -46.5L5.8 -47.9L3.4 -49L0 -49.6L-3.8 -49.6L-7.2 -49L-9.6 -47.9L-10.5 -46.5L-9.7 -45.1L-7.3 -44L-3.9 -43.4L0 -43.4L3.5 -44L5.9 -45.1ZM7.6 -48.4L7.1 -49.1L5.8 -49.6L3.9 -49.9L1.8 -49.9L-0.1 -49.6L-1.4 -49.1L-1.9 -48.4L-1.4 -47.8L-0.1 -47.2L1.8 -47L3.9 -47L5.8 -47.2L7.1 -47.8ZM13.2 -21.4L12.6 -23L11.2 -24.2L9.2 -24.9L6.9 -24.9L4.9 -24.2L3.5 -23L3 -21.4L3.5 -19.9L5 -18.7L7 -18L9.3 -18L11.3 -18.7L12.7 -19.9ZM0 -20.7L-0.3 -21.6L-1.1 -22.4L-2.4 -22.8L-3.7 -22.8L-4.9 -22.4L-5.8 -21.6L-6.1 -20.7L-5.8 -19.8L-4.9 -19.1L-3.7 -18.7L-2.4 -18.7L-1.1 -19.1L-0.3 -19.8ZM36.6 -18.6L35.9 -20.4L34.1 -21.9L31.7 -22.7L29 -22.7L26.6 -21.9L24.9 -20.4L24.4 -18.6L25 -16.8L26.8 -15.3L29.2 -14.5L32 -14.5L34.4 -15.3L36 -16.8ZM42.8 -14.3L42.3 -16.8L41.1 -18.8L39.4 -19.9L37.6 -19.9L36.1 -18.8L35 -16.8L34.7 -14.3L35.1 -11.9L36.3 -9.9L38 -8.8L39.8 -8.8L41.4 -9.9L42.5 -11.9ZM51.1 -11.5L50.6 -13.3L49.4 -14.8L47.8 -15.7L46 -15.7L44.4 -14.8L43.3 -13.3L42.9 -11.5L43.4 -9.6L44.6 -8.1L46.2 -7.3L48 -7.3L49.7 -8.1L50.8 -9.6ZM28.1 42L27.7 40.2L26.2 38.9L23.9 38.1L21.2 38.1L18.8 38.9L17.2 40.2L16.5 42L17 43.7L18.5 45L20.8 45.8L23.3 45.8L25.7 45L27.4 43.7ZM116.4 44.6L116.7 42.9L116.3 41.5L115.1 40.7L113.6 40.7L112 41.5L110.6 42.9L109.7 44.6L109.4 46.3L109.9 47.6L110.9 48.4L112.4 48.4L114 47.6L115.5 46.3ZM140.9 49.7L141.1 48.3L140.3 47.2L138.7 46.6L136.6 46.6L134.4 47.2L132.5 48.3L131.4 49.7L131.2 51.1L131.9 52.2L133.5 52.8L135.6 52.8L137.8 52.2L139.7 51.1ZM144.4 44.6L145.1 42.3L145 40.5L144.3 39.4L143 39.4L141.4 40.5L139.8 42.3L138.6 44.6L137.8 46.8L137.8 48.6L138.4 49.6L139.7 49.6L141.3 48.6L143 46.8ZM135.6 57.1L136 56.3L136 55.7L135.6 55.3L135 55.3L134.3 55.7L133.5 56.3L132.9 57.1L132.5 57.9L132.5 58.5L132.8 58.8L133.4 58.8L134.2 58.5L135 57.9ZM-98.4 -27.7L-98.5 -28.6L-99.1 -29.4L-100 -29.8L-101.1 -29.8L-102.2 -29.4L-103 -28.6L-103.5 -27.7L-103.4 -26.8L-102.8 -26.1L-101.8 -25.7L-100.7 -25.7L-99.7 -26.1L-98.8 -26.8ZM-72.7 14.3L-73.9 12.3L-75.1 11L-76.3 10.6L-77 11.3L-77.2 12.8L-76.9 14.9L-76 17.2L-74.8 19.2L-73.5 20.5L-72.4 20.9L-71.6 20.2L-71.4 18.7L-71.8 16.6ZM-65.9 25.6L-66.3 23.8L-67 22.4L-67.9 21.5L-68.8 21.5L-69.5 22.4L-69.9 23.8L-69.9 25.6L-69.5 27.5L-68.8 28.9L-67.9 29.7L-67 29.7L-66.3 28.9L-65.9 27.5ZM-51.2 43.8L-51.7 42.4L-52.7 41.2L-54 40.6L-55.3 40.6L-56.4 41.2L-57 42.4L-57 43.8L-56.5 45.2L-55.5 46.3L-54.2 47L-52.9 47L-51.9 46.3L-51.3 45.2ZM-49.5 42L-49.8 40.8L-50.5 39.9L-51.4 39.4L-52.2 39.4L-52.9 39.9L-53.3 40.8L-53.4 42L-53 43.1L-52.3 44L-51.4 44.5L-50.6 44.5L-49.9 44L-49.5 43.1ZM-57.3 69.7L-57.6 69.2L-58.3 68.9L-59 68.7L-59.8 68.7L-60.4 68.9L-60.7 69.2L-60.7 69.7L-60.3 70.1L-59.7 70.5L-58.9 70.7L-58.1 70.7L-57.6 70.5L-57.2 70.1Z" fill="#afafaf"/><path d="M-0.4 -70L-0.6 -71.5L-1.2 -72.8L-2 -73.4L-2.9 -73.4L-3.8 -72.8L-4.4 -71.5L-4.7 -70L-4.5 -68.4L-3.9 -67.1L-3.1 -66.4L-2.1 -66.4L-1.2 -67.1L-0.6 -68.4ZM80.2 -18.6L79.9 -19.8L79.3 -20.8L78.4 -21.4L77.5 -21.4L76.7 -20.8L76.3 -19.8L76.2 -18.6L76.5 -17.4L77.1 -16.4L78 -15.8L78.9 -15.8L79.7 -16.4L80.1 -17.4ZM106.9 -55.9L105.8 -56.9L103.9 -57.8L101.5 -58.2L99 -58.2L97 -57.8L95.9 -56.9L95.8 -55.9L96.8 -54.8L98.7 -54L101.2 -53.5L103.7 -53.5L105.7 -54L106.8 -54.8ZM41.9 -11.5L41.7 -12.7L41.1 -13.7L40.2 -14.3L39.3 -14.3L38.5 -13.7L38 -12.7L37.8 -11.5L38.1 -10.2L38.6 -9.2L39.5 -8.7L40.4 -8.7L41.2 -9.2L41.7 -10.2ZM28 43.3L27.8 42.1L27.1 41.2L26 40.7L24.7 40.7L23.5 41.2L22.6 42.1L22.2 43.3L22.4 44.4L23.2 45.3L24.3 45.8L25.6 45.8L26.8 45.3L27.6 44.4ZM28.7 41.3L28.6 40.4L28.2 39.8L27.7 39.4L27 39.4L26.4 39.8L26 40.4L25.8 41.3L25.8 42.2L26.2 42.9L26.7 43.2L27.4 43.2L28 42.9L28.5 42.2ZM166.3 53.5L167.4 51.3L167.8 49.6L167.3 48.6L166 48.6L164.3 49.6L162.4 51.3L160.7 53.5L159.5 55.6L159 57.3L159.4 58.2L160.6 58.2L162.4 57.3L164.4 55.6ZM157.1 59.5L158.3 57.7L158.6 56.2L158.1 55.4L156.8 55.4L155.2 56.2L153.3 57.7L151.7 59.5L150.5 61.2L150.1 62.6L150.5 63.4L151.7 63.4L153.4 62.6L155.4 61.2Z" fill="#cfcfcf"/></g></g>
<use href="#grl"/><use href="#grd"/>
<use href="#bord"/>
<use href="#gl" fill="#8d9393"/><use href="#glg" fill="#45875c"/><use href="#ice" fill="#bfc2b9"/>
<use href="#land" fill="none" stroke="#3e4a3b" stroke-width="0.55" stroke-opacity="0.9"/>
<use href="#dkl"/>
<use href="#frame" fill="none" stroke="#a4a4a4" stroke-width="1.2"/>
</g>
<text x="20.9" y="294.9" class="lb">Sheep</text>
<g transform="translate(582.6 272.7)">
<use href="#frame" fill="#fff"/>
<use href="#grat"/>
<use href="#land" fill="#fdf3c6"/>
<g clip-path="url(#lc)"><g filter="url(#fGoats)"><rect x="-190" y="-100" width="380" height="180" fill="#000"/><path d="M29.5 17.2L29 15.3L27.7 13.9L25.6 13L23.4 13L21.3 13.9L19.9 15.3L19.3 17.2L19.8 19L21.2 20.5L23.2 21.3L25.4 21.3L27.5 20.5L28.9 19ZM48.6 28.4L48.6 26L48.1 24.1L47.4 23L46.5 23L45.6 24.1L44.9 26L44.6 28.4L44.6 30.8L44.9 32.7L45.6 33.8L46.5 33.8L47.4 32.7L48.1 30.8ZM69.3 -62.9L67.8 -64.4L64.9 -65.6L61.2 -66.2L57.3 -66.2L54 -65.6L52 -64.4L51.5 -62.9L52.9 -61.4L55.7 -60.2L59.5 -59.6L63.6 -59.6L67 -60.2L69 -61.4Z" fill="#303030"/><path d="M-93.2 -38L-93.2 -39.1L-93.8 -40.1L-94.8 -40.6L-96.1 -40.6L-97.4 -40.1L-98.5 -39.1L-99.1 -38L-99.1 -36.8L-98.5 -35.9L-97.4 -35.3L-96.1 -35.3L-94.8 -35.9L-93.7 -36.8ZM-75.5 14.3L-75.8 11.9L-76.5 9.9L-77.4 8.8L-78.3 8.8L-79 9.9L-79.5 11.9L-79.6 14.3L-79.2 16.8L-78.4 18.8L-77.5 19.9L-76.6 19.9L-75.9 18.8L-75.5 16.8ZM-57.7 49.7L-58.3 48.1L-59.4 46.7L-60.7 46L-62 46L-62.9 46.7L-63.4 48.1L-63.3 49.7L-62.7 51.4L-61.6 52.7L-60.3 53.4L-59 53.4L-58.1 52.7L-57.6 51.4ZM28.7 33.9L28.4 31.5L27.1 29.6L25.1 28.6L22.9 28.6L20.9 29.6L19.4 31.5L18.8 33.9L19.2 36.3L20.5 38.1L22.4 39.2L24.6 39.2L26.6 38.1L28.1 36.3ZM19.9 31.2L19.7 28.8L18.9 26.9L17.8 25.8L16.4 25.8L15.2 26.9L14.3 28.8L13.9 31.2L14.2 33.6L14.9 35.5L16.1 36.5L17.4 36.5L18.6 35.5L19.5 33.6ZM3.8 -44.6L3.5 -45.7L2.4 -46.6L0.8 -47.1L-0.8 -47.1L-2.4 -46.6L-3.5 -45.7L-3.8 -44.6L-3.5 -43.5L-2.4 -42.5L-0.9 -42L0.9 -42L2.4 -42.5L3.5 -43.5ZM50.5 -33.9L49.6 -36.9L47.6 -39.2L45.1 -40.5L42.5 -40.5L40.3 -39.2L38.9 -36.9L38.6 -33.9L39.5 -31L41.3 -28.5L43.8 -27.2L46.5 -27.2L48.8 -28.5L50.2 -31ZM38.3 -52.8L37.6 -53.9L35.9 -54.8L33.6 -55.2L31.1 -55.2L29 -54.8L27.5 -53.9L27.1 -52.8L27.8 -51.8L29.4 -50.9L31.7 -50.4L34.3 -50.4L36.5 -50.9L37.9 -51.8ZM98.6 -62.9L96.8 -64.4L93.4 -65.6L89.2 -66.2L85 -66.2L81.4 -65.6L79.3 -64.4L79.1 -62.9L80.7 -61.4L84 -60.2L88.3 -59.6L92.7 -59.6L96.4 -60.2L98.5 -61.4ZM104.4 -60.6L103.5 -61.6L102 -62.4L100.3 -62.9L98.8 -62.9L97.6 -62.4L97 -61.6L97.2 -60.6L98.1 -59.6L99.5 -58.8L101.2 -58.4L102.8 -58.4L104 -58.8L104.6 -59.6ZM91.4 -44.6L90.3 -46.3L88 -47.6L85.1 -48.4L82.1 -48.4L79.7 -47.6L78.2 -46.3L78 -44.6L79 -42.9L81.2 -41.5L84.1 -40.7L87.2 -40.7L89.7 -41.5L91.2 -42.9ZM25.5 -58.3L25 -59.3L23.9 -60.1L22.4 -60.6L20.8 -60.6L19.4 -60.1L18.5 -59.3L18.2 -58.3L18.7 -57.3L19.8 -56.4L21.3 -56L22.9 -56L24.4 -56.4L25.3 -57.3ZM15.7 -55.9L15.3 -56.9L14.5 -57.8L13.4 -58.2L12.1 -58.2L11.1 -57.8L10.4 -56.9L10.1 -55.9L10.5 -54.8L11.3 -54L12.4 -53.5L13.7 -53.5L14.7 -54L15.5 -54.8ZM3.6 -61.8L3.3 -62.8L2.5 -63.6L1.5 -64L0.3 -64L-0.8 -63.6L-1.5 -62.8L-1.8 -61.8L-1.5 -60.8L-0.8 -60L0.3 -59.5L1.5 -59.5L2.6 -60L3.3 -60.8Z" fill="#505050"/><path d="M-96.3 -32.6L-96.3 -34.9L-97.3 -36.8L-99 -37.8L-101.2 -37.8L-103.4 -36.8L-105.2 -34.9L-106.3 -32.6L-106.3 -30.2L-105.3 -28.2L-103.5 -27.2L-101.2 -27.2L-99 -28.2L-97.3 -30.2ZM-60.9 29.8L-61.5 27.4L-62.5 25.5L-63.8 24.4L-65.2 24.4L-66.3 25.5L-66.9 27.4L-66.9 29.8L-66.3 32.2L-65.2 34.1L-63.9 35.1L-62.5 35.1L-61.5 34.1L-60.9 32.2ZM-62.8 38L-63.2 36.2L-64 34.8L-64.9 34L-65.8 34L-66.5 34.8L-66.8 36.2L-66.7 38L-66.2 39.7L-65.4 41.1L-64.5 41.9L-63.6 41.9L-63 41.1L-62.7 39.7ZM-87.2 -20L-87.3 -20.9L-87.8 -21.7L-88.5 -22.1L-89.4 -22.1L-90.3 -21.7L-90.9 -20.9L-91.3 -20L-91.2 -19.1L-90.7 -18.4L-89.9 -18L-89 -18L-88.1 -18.4L-87.5 -19.1ZM15.4 -8.6L15 -9.9L14.2 -10.9L12.9 -11.4L11.6 -11.4L10.4 -10.9L9.5 -9.9L9.2 -8.6L9.5 -7.4L10.4 -6.4L11.6 -5.8L13 -5.8L14.2 -6.4L15.1 -7.4ZM37.4 22.8L37.1 20.4L36.1 18.4L34.5 17.3L32.7 17.3L31 18.4L29.8 20.4L29.3 22.8L29.6 25.3L30.6 27.2L32.2 28.3L33.9 28.3L35.6 27.2L36.8 25.3ZM33.1 27L32.9 25.8L32.1 24.9L30.9 24.3L29.6 24.3L28.3 24.9L27.5 25.8L27.1 27L27.3 28.2L28.1 29.2L29.3 29.7L30.6 29.7L31.9 29.2L32.8 28.2ZM-4.9 -42L-5.1 -43.1L-5.9 -44L-7.1 -44.5L-8.3 -44.5L-9.5 -44L-10.3 -43.1L-10.7 -42L-10.4 -40.8L-9.6 -39.9L-8.5 -39.4L-7.2 -39.4L-6 -39.9L-5.2 -40.8ZM7.6 -48.4L7.1 -49.1L5.8 -49.6L3.9 -49.9L1.8 -49.9L-0.1 -49.6L-1.4 -49.1L-1.9 -48.4L-1.4 -47.8L-0.1 -47.2L1.8 -47L3.9 -47L5.8 -47.2L7.1 -47.8ZM55.4 -24.2L55 -25.5L54.1 -26.4L52.9 -27L51.5 -27L50.4 -26.4L49.6 -25.5L49.4 -24.2L49.8 -23L50.7 -22L51.9 -21.5L53.3 -21.5L54.5 -22L55.2 -23ZM58.8 -31.2L58.4 -32.4L57.8 -33.3L56.9 -33.9L56 -33.9L55.3 -33.3L54.8 -32.4L54.8 -31.2L55.1 -30L55.8 -29L56.6 -28.5L57.5 -28.5L58.3 -29L58.7 -30ZM57.5 -45.9L56.4 -48.1L54.2 -49.9L51.4 -50.8L48.4 -50.8L46 -49.9L44.4 -48.1L44.1 -45.9L45.1 -43.6L47.2 -41.8L50.1 -40.8L53.1 -40.8L55.7 -41.8L57.2 -43.6ZM59.2 -42L58.6 -43.7L57.5 -45L56.2 -45.8L55 -45.8L53.9 -45L53.4 -43.7L53.4 -42L53.9 -40.2L54.9 -38.9L56.2 -38.1L57.5 -38.1L58.6 -38.9L59.2 -40.2ZM43.7 -48.4L43.2 -49.5L42.3 -50.4L41.1 -50.9L39.8 -50.9L38.8 -50.4L38.1 -49.5L38 -48.4L38.4 -47.3L39.3 -46.4L40.6 -45.9L41.8 -45.9L42.9 -46.4L43.6 -47.3ZM82.9 -55.9L82 -56.9L80.1 -57.8L77.8 -58.2L75.3 -58.2L73.3 -57.8L72.1 -56.9L71.9 -55.9L72.8 -54.8L74.6 -54L77 -53.5L79.5 -53.5L81.5 -54L82.8 -54.8ZM115 -59.5L113.8 -61L112.3 -62.2L110.8 -62.9L109.6 -62.9L109 -62.2L109 -61L109.6 -59.5L110.7 -57.9L112.1 -56.7L113.6 -56L114.8 -56L115.6 -56.7L115.6 -57.9ZM98.9 -29.8L98.2 -31.6L97.1 -33L95.7 -33.8L94.4 -33.8L93.4 -33L92.8 -31.6L92.9 -29.8L93.5 -28L94.5 -26.6L95.9 -25.7L97.2 -25.7L98.3 -26.6L98.9 -28ZM107.4 -27L106.8 -28.8L105.6 -30.3L104.3 -31.1L102.9 -31.1L101.9 -30.3L101.3 -28.8L101.4 -27L102 -25.2L103 -23.8L104.4 -22.9L105.7 -22.9L106.8 -23.8L107.4 -25.2ZM105.7 0L105.4 -1.9L104.5 -3.4L103.2 -4.2L101.9 -4.2L100.7 -3.4L99.8 -1.9L99.5 0L99.8 1.9L100.7 3.4L101.9 4.2L103.2 4.2L104.5 3.4L105.4 1.9ZM126.2 0L126 -1.2L125.4 -2.2L124.6 -2.8L123.7 -2.8L122.9 -2.2L122.3 -1.2L122.1 0L122.3 1.2L122.9 2.2L123.7 2.8L124.6 2.8L125.4 2.2L126 1.2ZM0 -53.5L-0.4 -55.1L-1.4 -56.3L-2.9 -57L-4.5 -57L-6 -56.3L-7 -55.1L-7.5 -53.5L-7.1 -51.8L-6.1 -50.5L-4.6 -49.8L-2.9 -49.8L-1.4 -50.5L-0.4 -51.8ZM9.7 -54.7L9.6 -55.5L9.1 -56.1L8.6 -56.5L8 -56.5L7.4 -56.1L7.1 -55.5L6.9 -54.7L7.1 -53.9L7.5 -53.2L8.1 -52.9L8.7 -52.9L9.3 -53.2L9.6 -53.9Z" fill="#707070"/><path d="M-35.7 11.8L-36.1 9.6L-37.1 7.9L-38.5 6.9L-40.1 6.9L-41.6 7.9L-42.5 9.6L-42.8 11.8L-42.4 13.9L-41.3 15.7L-39.9 16.6L-38.3 16.6L-36.9 15.7L-36 13.9ZM-39.9 11.5L-40.2 9.6L-41.1 8.1L-42.3 7.3L-43.7 7.3L-44.9 8.1L-45.7 9.6L-46 11.5L-45.6 13.3L-44.7 14.8L-43.5 15.7L-42.1 15.7L-40.9 14.8L-40.1 13.3ZM-69.3 -15.1L-69.5 -15.7L-70 -16.2L-70.8 -16.4L-71.7 -16.4L-72.5 -16.2L-73.1 -15.7L-73.4 -15.1L-73.2 -14.4L-72.7 -13.9L-71.9 -13.7L-71 -13.7L-70.1 -13.9L-69.5 -14.4ZM12.2 -15.8L10.8 -19.5L6.8 -22.4L1.1 -24L-5.2 -24L-10.8 -22.4L-14.8 -19.5L-16.3 -15.8L-14.9 -12.1L-11 -9.1L-5.2 -7.4L1.1 -7.4L6.9 -9.1L10.8 -12.1ZM10.2 -11.5L9.6 -13.3L7.9 -14.8L5.4 -15.7L2.7 -15.7L0.3 -14.8L-1.4 -13.3L-2 -11.5L-1.4 -9.6L0.3 -8.1L2.7 -7.3L5.5 -7.3L7.9 -8.1L9.6 -9.6ZM20.3 -17.2L19.9 -19L18.7 -20.5L17.1 -21.3L15.3 -21.3L13.7 -20.5L12.6 -19L12.2 -17.2L12.6 -15.3L13.8 -13.9L15.4 -13L17.2 -13L18.9 -13.9L20 -15.3ZM26.4 -18.6L25.9 -20.4L24.8 -21.9L23.1 -22.7L21.3 -22.7L19.7 -21.9L18.6 -20.4L18.3 -18.6L18.7 -16.8L19.9 -15.3L21.5 -14.5L23.3 -14.5L25 -15.3L26.1 -16.8ZM35.6 -17.2L34.9 -19.6L33.1 -21.6L30.6 -22.7L28 -22.7L25.6 -21.6L23.9 -19.6L23.4 -17.2L24.1 -14.7L25.8 -12.7L28.3 -11.6L31 -11.6L33.4 -12.7L35.1 -14.7ZM38.9 7.2L38.6 4.7L37.4 2.7L35.8 1.6L34 1.6L32.3 2.7L31.2 4.7L30.7 7.2L31.1 9.7L32.2 11.7L33.8 12.8L35.6 12.8L37.3 11.7L38.5 9.7ZM31.3 4.3L31 2.4L30.3 0.9L29.3 0.1L28.2 0.1L27.1 0.9L26.4 2.4L26.2 4.3L26.4 6.2L27.1 7.7L28.1 8.5L29.2 8.5L30.3 7.7L31 6.2ZM31.3 39.3L31.1 37.6L30.4 36.2L29.3 35.4L28 35.4L26.7 36.2L25.8 37.6L25.4 39.3L25.6 41L26.3 42.4L27.4 43.2L28.7 43.2L29.9 42.4L30.8 41ZM-1.9 -44.6L-2.3 -46L-3.3 -47.1L-4.9 -47.7L-6.6 -47.7L-8.1 -47.1L-9.2 -46L-9.6 -44.6L-9.3 -43.2L-8.2 -42L-6.7 -41.4L-5 -41.4L-3.4 -42L-2.3 -43.2ZM31.2 -38L31 -39.7L30.6 -41.1L30.3 -41.9L29.9 -41.9L29.7 -41.1L29.6 -39.7L29.6 -38L29.8 -36.2L30.1 -34.8L30.5 -34L30.9 -34L31.1 -34.8L31.2 -36.2ZM31 -42.6L30.8 -43.1L30.5 -43.4L30.1 -43.6L29.7 -43.6L29.3 -43.4L29.1 -43.1L29 -42.6L29.2 -42.2L29.5 -41.8L29.9 -41.6L30.3 -41.6L30.7 -41.8L30.9 -42.2ZM50.1 -49.7L49.6 -50.8L48.7 -51.7L47.4 -52.2L46.2 -52.2L45.2 -51.7L44.5 -50.8L44.4 -49.7L44.9 -48.6L45.8 -47.7L47.1 -47.2L48.3 -47.2L49.4 -47.7L50 -48.6ZM66.8 -47.2L66 -48.8L64.6 -50.2L63 -50.9L61.3 -50.9L59.9 -50.2L59.2 -48.8L59.2 -47.2L59.9 -45.5L61.2 -44.1L62.9 -43.4L64.6 -43.4L66 -44.1L66.8 -45.5ZM114.5 -42L112.5 -45.4L109.4 -48.1L105.8 -49.5L102.4 -49.5L99.9 -48.1L98.7 -45.4L98.9 -42L100.7 -38.5L103.6 -35.7L107.1 -34.1L110.6 -34.1L113.4 -35.7L114.8 -38.5ZM104.3 -36.6L103.6 -38.4L102.4 -39.8L101 -40.5L99.7 -40.5L98.7 -39.8L98.3 -38.4L98.4 -36.6L99.1 -34.9L100.2 -33.5L101.6 -32.7L102.9 -32.7L104 -33.5L104.4 -34.9ZM99.2 -52.2L98.5 -53.3L97.4 -54.2L96.1 -54.6L94.8 -54.6L93.9 -54.2L93.5 -53.3L93.6 -52.2L94.3 -51.1L95.4 -50.3L96.7 -49.8L98 -49.8L98.9 -50.3L99.4 -51.1ZM126.1 -17.2L125.7 -19L124.9 -20.5L123.9 -21.3L123 -21.3L122.4 -20.5L122 -19L122.1 -17.2L122.5 -15.3L123.2 -13.9L124.1 -13L125 -13L125.7 -13.9L126.2 -15.3ZM125.6 12.9L125.3 12.3L124.5 11.8L123.3 11.5L122 11.5L120.7 11.8L119.8 12.3L119.5 12.9L119.7 13.5L120.5 14L121.7 14.3L123.1 14.3L124.3 14L125.2 13.5ZM22.3 -54.1L22 -54.9L21.5 -55.5L20.7 -55.9L19.9 -55.9L19.2 -55.5L18.7 -54.9L18.6 -54.1L18.8 -53.3L19.4 -52.6L20.2 -52.3L21 -52.3L21.7 -52.6L22.2 -53.3Z" fill="#8f8f8f"/><path d="M-98.4 -27.7L-98.5 -28.6L-99.1 -29.4L-100 -29.8L-101.1 -29.8L-102.2 -29.4L-103 -28.6L-103.5 -27.7L-103.4 -26.8L-102.8 -26.1L-101.8 -25.7L-100.7 -25.7L-99.7 -26.1L-98.8 -26.8ZM-70.8 -27L-70.8 -27.9L-71.3 -28.7L-72.1 -29.1L-72.9 -29.1L-73.8 -28.7L-74.5 -27.9L-74.8 -27L-74.7 -26.1L-74.2 -25.4L-73.5 -25L-72.6 -25L-71.7 -25.4L-71.1 -26.1ZM12.2 -18.6L11.2 -20.4L8.3 -21.9L4.3 -22.7L-0.2 -22.7L-4.3 -21.9L-7.1 -20.4L-8.1 -18.6L-7.1 -16.8L-4.3 -15.3L-0.2 -14.5L4.3 -14.5L8.4 -15.3L11.2 -16.8ZM-12.7 -20L-12.9 -21.2L-13.6 -22.2L-14.6 -22.8L-15.7 -22.8L-16.7 -22.2L-17.5 -21.2L-17.7 -20L-17.5 -18.8L-16.8 -17.8L-15.8 -17.3L-14.7 -17.3L-13.7 -17.8L-12.9 -18.8ZM-2 -18.6L-2.4 -19.8L-3.6 -20.8L-5.2 -21.4L-7 -21.4L-8.6 -20.8L-9.7 -19.8L-10.2 -18.6L-9.8 -17.4L-8.6 -16.4L-7 -15.8L-5.2 -15.8L-3.6 -16.4L-2.4 -17.4ZM35.3 -12.9L35 -14.2L34.1 -15.1L32.9 -15.7L31.5 -15.7L30.3 -15.1L29.5 -14.2L29.2 -12.9L29.5 -11.7L30.4 -10.7L31.6 -10.1L33 -10.1L34.2 -10.7L35.1 -11.7ZM42.9 -12.9L42.4 -16L41.1 -18.5L39.4 -19.8L37.6 -19.8L36.1 -18.5L35 -16L34.7 -12.9L35.2 -9.8L36.4 -7.3L38 -5.9L39.9 -5.9L41.5 -7.3L42.6 -9.8ZM50.1 -10.1L49.6 -12.5L48.4 -14.5L46.7 -15.6L44.9 -15.6L43.3 -14.5L42.3 -12.5L41.9 -10.1L42.4 -7.6L43.6 -5.6L45.2 -4.5L47.1 -4.5L48.7 -5.6L49.8 -7.6ZM40.5 -1.4L40.2 -3.3L39.3 -4.8L38.1 -5.6L36.7 -5.6L35.5 -4.8L34.7 -3.3L34.4 -1.4L34.7 0.4L35.5 1.9L36.8 2.8L38.1 2.8L39.4 1.9L40.2 0.4ZM39 5.8L38.8 4.5L38.2 3.5L37.4 2.9L36.5 2.9L35.6 3.5L35.1 4.5L34.9 5.8L35 7L35.6 8L36.4 8.6L37.3 8.6L38.1 8L38.7 7ZM32 2.9L31.9 2.1L31.5 1.5L31.1 1.2L30.5 1.2L30 1.5L29.7 2.1L29.5 2.9L29.7 3.6L30 4.2L30.5 4.6L31 4.6L31.5 4.2L31.9 3.6ZM36.9 21.4L36.8 20.2L36.5 19.2L35.9 18.7L35.2 18.7L34.6 19.2L34.1 20.2L33.9 21.4L34 22.7L34.4 23.6L35 24.2L35.6 24.2L36.3 23.6L36.7 22.7ZM48.1 -21.4L47.7 -22.7L47 -23.6L45.9 -24.2L44.8 -24.2L43.8 -23.6L43.2 -22.7L43 -21.4L43.3 -20.2L44.1 -19.2L45.1 -18.7L46.3 -18.7L47.3 -19.2L47.9 -20.2ZM71.3 -42L70.5 -44.2L69.3 -46L67.9 -47L66.7 -47L65.7 -46L65.3 -44.2L65.5 -42L66.2 -39.7L67.3 -37.8L68.7 -36.8L70 -36.8L71 -37.8L71.5 -39.7ZM86.6 -31.2L84.6 -37.1L81.2 -41.7L77.1 -44.3L73.2 -44.3L70.3 -41.7L68.7 -37.1L68.7 -31.2L70.4 -25.2L73.4 -20.3L77.3 -17.5L81.3 -17.5L84.7 -20.3L86.7 -25.2ZM114 -45.9L112.5 -48.7L110.2 -50.9L107.8 -52.1L105.8 -52.1L104.4 -50.9L103.9 -48.7L104.5 -45.9L105.9 -43.1L107.9 -40.8L110.3 -39.5L112.4 -39.5L114 -40.8L114.6 -43.1ZM112.3 -52.2L111.6 -53.3L110.4 -54.2L109 -54.6L107.8 -54.6L106.9 -54.2L106.5 -53.3L106.7 -52.2L107.5 -51.1L108.6 -50.3L110 -49.8L111.2 -49.8L112.1 -50.3L112.6 -51.1ZM105.9 -47.2L105.2 -48.3L104.1 -49.2L102.8 -49.7L101.5 -49.7L100.5 -49.2L100.1 -48.3L100.2 -47.2L100.8 -46.1L101.9 -45.2L103.3 -44.7L104.6 -44.7L105.5 -45.2L106 -46.1ZM113.8 -38L112.9 -39.7L111.3 -41.1L109.5 -41.9L107.8 -41.9L106.5 -41.1L105.8 -39.7L105.9 -38L106.8 -36.2L108.2 -34.8L110 -34L111.8 -34L113.2 -34.8L113.9 -36.2ZM104.8 -42L104 -43.4L102.9 -44.5L101.5 -45.2L100.2 -45.2L99.3 -44.5L98.8 -43.4L98.9 -42L99.6 -40.5L100.8 -39.4L102.1 -38.7L103.4 -38.7L104.4 -39.4L104.9 -40.5ZM105 -55.9L104.2 -56.9L102.7 -57.8L101 -58.2L99.4 -58.2L98.2 -57.8L97.6 -56.9L97.7 -55.9L98.5 -54.8L99.9 -54L101.6 -53.5L103.3 -53.5L104.5 -54L105.2 -54.8Z" fill="#afafaf"/><path d="M12.2 -16.5L11.8 -18L10.6 -19.3L9 -19.9L7.2 -19.9L5.6 -19.3L4.5 -18L4.1 -16.5L4.5 -14.9L5.6 -13.7L7.3 -13L9.1 -13L10.7 -13.7L11.8 -14.9ZM0.5 -17.9L0.3 -18.8L-0.3 -19.6L-1.1 -20L-2 -20L-2.8 -19.6L-3.4 -18.8L-3.6 -17.9L-3.4 -17L-2.8 -16.2L-2 -15.8L-1.1 -15.8L-0.3 -16.2L0.3 -17ZM41.8 -14.3L41.6 -15.6L41 -16.6L40.1 -17.1L39.2 -17.1L38.4 -16.6L37.9 -15.6L37.7 -14.3L38 -13.1L38.6 -12.1L39.4 -11.6L40.3 -11.6L41.1 -12.1L41.7 -13.1ZM35.9 -2.2L35.7 -3.4L35.1 -4.4L34.3 -5L33.4 -5L32.6 -4.4L32 -3.4L31.8 -2.2L32 -0.9L32.6 0.1L33.4 0.6L34.3 0.6L35.1 0.1L35.7 -0.9ZM71.7 -44.6L71.3 -45.4L70.6 -46.1L69.8 -46.5L68.9 -46.5L68.2 -46.1L67.9 -45.4L67.8 -44.6L68.2 -43.7L68.9 -43.1L69.8 -42.7L70.6 -42.7L71.3 -43.1L71.7 -43.7ZM84.6 -36.6L83.7 -38.4L81.7 -39.8L79.2 -40.5L76.6 -40.5L74.4 -39.8L73.1 -38.4L72.8 -36.6L73.7 -34.9L75.6 -33.5L78.1 -32.7L80.8 -32.7L83 -33.5L84.4 -34.9ZM84.5 -39.3L84.2 -39.9L83.4 -40.4L82.3 -40.6L81.3 -40.6L80.3 -40.4L79.8 -39.9L79.6 -39.3L80 -38.7L80.8 -38.3L81.8 -38L82.9 -38L83.8 -38.3L84.4 -38.7ZM79.1 -20L78.6 -21.9L77.6 -23.3L76.3 -24.1L74.9 -24.1L73.8 -23.3L73.1 -21.9L73 -20L73.5 -18.2L74.4 -16.7L75.7 -15.9L77.1 -15.9L78.2 -16.7L79 -18.2ZM74.5 -32.6L74 -33.7L73 -34.7L71.7 -35.2L70.4 -35.2L69.3 -34.7L68.6 -33.7L68.5 -32.6L69 -31.4L70 -30.4L71.2 -29.9L72.6 -29.9L73.7 -30.4L74.4 -31.4ZM112.3 -49.1L111.3 -50.7L109.8 -52L108.2 -52.8L106.7 -52.8L105.7 -52L105.3 -50.7L105.7 -49.1L106.6 -47.4L108 -46.1L109.7 -45.3L111.2 -45.3L112.2 -46.1L112.6 -47.4ZM116.6 10.5L116.2 9.9L115.1 9.4L113.5 9.1L111.7 9.1L110 9.4L108.9 9.9L108.4 10.5L108.8 11.1L109.9 11.6L111.5 11.9L113.3 11.9L115 11.6L116.1 11.1Z" fill="#cfcfcf"/><path d="M88 -34.6L87.4 -36.1L86.3 -37.2L85 -37.9L83.7 -37.9L82.7 -37.2L82.1 -36.1L82.1 -34.6L82.6 -33.1L83.7 -31.9L85 -31.3L86.3 -31.3L87.4 -31.9L88 -33.1ZM90.6 -33.9L90.2 -35.1L89.6 -36L88.9 -36.6L88.2 -36.6L87.8 -36L87.5 -35.1L87.6 -33.9L88 -32.7L88.6 -31.8L89.3 -31.3L90 -31.3L90.5 -31.8L90.7 -32.7Z" fill="#efefef"/></g></g>
<use href="#grl"/><use href="#grd"/>
<use href="#bord"/>
<use href="#gl" fill="#8d9393"/><use href="#glg" fill="#45875c"/><use href="#ice" fill="#bfc2b9"/>
<use href="#land" fill="none" stroke="#3e4a3b" stroke-width="0.55" stroke-opacity="0.9"/>
<use href="#dkl"/>
<use href="#frame" fill="none" stroke="#a4a4a4" stroke-width="1.2"/>
</g>
<text x="412.4" y="294.9" class="lb">Goats</text>
<g transform="translate(187.7 450.6)">
<use href="#frame" fill="#fff"/>
<use href="#grat"/>
<use href="#land" fill="#fdf3c6"/>
<g clip-path="url(#lc)"><g filter="url(#fHorses)"><rect x="-190" y="-100" width="380" height="180" fill="#000"/><path d="M-71.2 -52.2L-71.3 -55.9L-73.8 -58.9L-78.3 -60.4L-83.9 -60.4L-89.7 -58.9L-94.5 -55.9L-97.4 -52.2L-97.5 -48.4L-94.8 -45.3L-89.9 -43.5L-83.9 -43.5L-78 -45.3L-73.5 -48.4ZM-93.5 -57.1L-92.7 -60.2L-93.5 -62.6L-95.6 -63.9L-98.8 -63.9L-102.4 -62.6L-105.7 -60.2L-108.1 -57.1L-108.9 -53.9L-108 -51.4L-105.6 -49.9L-102.2 -49.9L-98.7 -51.4L-95.5 -53.9ZM-40.2 25.6L-41 22.6L-42.8 20.2L-45.4 18.8L-48.1 18.8L-50.4 20.2L-51.9 22.6L-52.3 25.6L-51.4 28.7L-49.6 31.1L-47 32.4L-44.4 32.4L-42.1 31.1L-40.6 28.7ZM-47.6 21.4L-48.3 18.4L-50.2 15.9L-52.7 14.5L-55.4 14.5L-57.8 15.9L-59.3 18.4L-59.7 21.4L-58.9 24.5L-57 26.9L-54.4 28.3L-51.7 28.3L-49.4 26.9L-48 24.5ZM-61.4 25.6L-61.8 23.8L-62.8 22.4L-64.1 21.5L-65.4 21.5L-66.6 22.4L-67.3 23.8L-67.4 25.6L-66.9 27.5L-65.9 28.9L-64.6 29.7L-63.3 29.7L-62.2 28.9L-61.5 27.5ZM23.7 -65.2L22.3 -67.5L19.1 -69.4L14.9 -70.4L10.4 -70.4L6.4 -69.4L3.6 -67.5L2.6 -65.2L3.7 -62.7L6.8 -60.7L11.2 -59.6L16 -59.6L20.2 -60.7L23 -62.7ZM40.5 -70.5L39.4 -71.8L37.3 -72.9L34.4 -73.4L31.5 -73.4L29 -72.9L27.4 -71.8L27 -70.5L28 -69.2L30.1 -68.1L33 -67.4L36.1 -67.4L38.7 -68.1L40.3 -69.2ZM-0.9 -54.7L-1.2 -55.7L-2 -56.6L-3.1 -57L-4.3 -57L-5.4 -56.6L-6.2 -55.7L-6.5 -54.7L-6.2 -53.6L-5.5 -52.8L-4.4 -52.3L-3.1 -52.3L-2 -52.8L-1.2 -53.6ZM66.8 -47.2L66.2 -48.3L65.2 -49.2L64 -49.7L62.7 -49.7L61.7 -49.2L61.1 -48.3L61.1 -47.2L61.6 -46.1L62.6 -45.2L63.8 -44.7L65.1 -44.7L66.2 -45.2L66.8 -46.1Z" fill="#303030"/><path d="M-75.6 -49.7L-75.7 -51.4L-76.9 -52.7L-78.9 -53.4L-81.4 -53.4L-83.9 -52.7L-85.9 -51.4L-87 -49.7L-86.9 -48.1L-85.8 -46.7L-83.7 -46L-81.1 -46L-78.6 -46.7L-76.7 -48.1ZM-89.3 -48.4L-89.2 -49.5L-89.7 -50.4L-90.7 -50.9L-91.9 -50.9L-93.2 -50.4L-94.3 -49.5L-95 -48.4L-95.1 -47.3L-94.6 -46.4L-93.6 -45.9L-92.3 -45.9L-91 -46.4L-89.9 -47.3ZM-76.7 -45.9L-76.7 -47L-77.2 -47.9L-78.2 -48.4L-79.5 -48.4L-80.8 -47.9L-81.8 -47L-82.4 -45.9L-82.4 -44.8L-81.9 -43.9L-80.8 -43.3L-79.5 -43.3L-78.3 -43.9L-77.2 -44.8ZM-96.3 -32.6L-96.3 -34.9L-97.3 -36.8L-99 -37.8L-101.2 -37.8L-103.4 -36.8L-105.2 -34.9L-106.3 -32.6L-106.3 -30.2L-105.3 -28.2L-103.5 -27.2L-101.2 -27.2L-99 -28.2L-97.3 -30.2ZM-66.4 -11.5L-66.7 -12.7L-67.5 -13.7L-68.7 -14.3L-70 -14.3L-71.3 -13.7L-72.2 -12.7L-72.6 -11.5L-72.3 -10.2L-71.5 -9.2L-70.3 -8.7L-68.9 -8.7L-67.7 -9.2L-66.8 -10.2ZM-75.5 14.3L-75.8 11.9L-76.5 9.9L-77.4 8.8L-78.3 8.8L-79 9.9L-79.5 11.9L-79.6 14.3L-79.2 16.8L-78.4 18.8L-77.5 19.9L-76.6 19.9L-75.9 18.8L-75.5 16.8ZM-57.2 42L-57.8 40.2L-58.8 38.9L-60.1 38.1L-61.4 38.1L-62.5 38.9L-63.1 40.2L-63.1 42L-62.4 43.7L-61.4 45L-60.1 45.8L-58.8 45.8L-57.8 45L-57.2 43.7ZM-47.9 39.3L-48.3 38.2L-49.3 37.2L-50.5 36.7L-51.8 36.7L-52.9 37.2L-53.6 38.2L-53.8 39.3L-53.3 40.5L-52.3 41.4L-51.1 41.9L-49.8 41.9L-48.7 41.4L-48 40.5ZM-42.1 28.4L-42.5 26.6L-43.4 25.2L-44.7 24.3L-46 24.3L-47.2 25.2L-47.9 26.6L-48.1 28.4L-47.6 30.2L-46.6 31.7L-45.4 32.5L-44 32.5L-42.9 31.7L-42.2 30.2ZM-54.5 33.9L-54.8 32.7L-55.5 31.8L-56.3 31.3L-57.2 31.3L-57.9 31.8L-58.4 32.7L-58.4 33.9L-58.1 35.1L-57.4 36L-56.5 36.6L-55.7 36.6L-54.9 36L-54.5 35.1ZM-37.8 12.9L-38.1 11.1L-39 9.6L-40.3 8.7L-41.6 8.7L-42.8 9.6L-43.7 11.1L-43.9 12.9L-43.5 14.8L-42.6 16.3L-41.4 17.1L-40 17.1L-38.8 16.3L-38 14.8ZM9.5 -67.4L9.2 -68.3L8.4 -69L7.4 -69.4L6.2 -69.4L5.2 -69L4.5 -68.3L4.3 -67.4L4.6 -66.4L5.4 -65.7L6.4 -65.2L7.6 -65.2L8.6 -65.7L9.3 -66.4ZM4.4 -62.9L4.2 -63.9L3.4 -64.7L2.3 -65.1L1.2 -65.1L0.1 -64.7L-0.6 -63.9L-0.9 -62.9L-0.6 -61.9L0.1 -61.1L1.2 -60.7L2.4 -60.7L3.5 -61.1L4.2 -61.9ZM31.3 -66.3L30.6 -67.2L29 -68L26.9 -68.4L24.6 -68.4L22.6 -68L21.3 -67.2L20.9 -66.3L21.5 -65.3L23.1 -64.5L25.3 -64.1L27.6 -64.1L29.7 -64.5L31 -65.3ZM12.7 -59.5L12.4 -60.5L11.9 -61.3L11.1 -61.7L10.3 -61.7L9.6 -61.3L9.2 -60.5L9.1 -59.5L9.3 -58.5L9.8 -57.6L10.6 -57.2L11.4 -57.2L12.1 -57.6L12.6 -58.5ZM28.4 -18.6L27.8 -19.8L26.1 -20.8L23.6 -21.4L20.9 -21.4L18.5 -20.8L16.8 -19.8L16.2 -18.6L16.9 -17.4L18.6 -16.4L21 -15.8L23.8 -15.8L26.2 -16.4L27.9 -17.4ZM11.2 -17.2L10.9 -18.4L10 -19.4L8.8 -20L7.4 -20L6.2 -19.4L5.4 -18.4L5.1 -17.2L5.4 -16L6.2 -15L7.5 -14.4L8.8 -14.4L10.1 -15L10.9 -16ZM-3 -20L-3.3 -21.2L-4.2 -22.2L-5.4 -22.8L-6.7 -22.8L-8 -22.2L-8.8 -21.2L-9.1 -20L-8.8 -18.8L-8 -17.8L-6.8 -17.3L-5.4 -17.3L-4.2 -17.8L-3.3 -18.8ZM35.5 -20L35.1 -21.2L34.2 -22.2L33 -22.8L31.7 -22.8L30.5 -22.2L29.7 -21.2L29.4 -20L29.7 -18.8L30.6 -17.8L31.9 -17.3L33.2 -17.3L34.4 -17.8L35.2 -18.8ZM69.8 -61.8L68.7 -62.8L66.4 -63.6L63.4 -64L60.2 -64L57.5 -63.6L55.8 -62.8L55.4 -61.8L56.5 -60.8L58.7 -60L61.8 -59.5L65 -59.5L67.7 -60L69.4 -60.8ZM109.3 -58.3L108.3 -59.3L106.6 -60.1L104.5 -60.6L102.5 -60.6L101 -60.1L100.1 -59.3L100.2 -58.3L101.2 -57.3L102.8 -56.4L104.9 -56L107 -56L108.6 -56.4L109.4 -57.3ZM115.2 -60.6L114 -62.1L112.5 -63.3L111 -64L109.8 -64L109.2 -63.3L109.2 -62.1L109.8 -60.6L110.9 -59.1L112.4 -57.9L113.9 -57.2L115.1 -57.2L115.8 -57.9L115.9 -59.1ZM80.6 -59.5L79.8 -60.5L78.5 -61.3L76.8 -61.7L75.2 -61.7L74 -61.3L73.3 -60.5L73.3 -59.5L74.1 -58.5L75.4 -57.6L77 -57.2L78.7 -57.2L80 -57.6L80.7 -58.5Z" fill="#505050"/><path d="M-77.9 -51.6L-77.9 -52.1L-78.3 -52.6L-79 -52.8L-79.8 -52.8L-80.6 -52.6L-81.3 -52.1L-81.7 -51.6L-81.6 -51.1L-81.3 -50.6L-80.6 -50.4L-79.7 -50.4L-78.9 -50.6L-78.3 -51.1ZM-91.4 -44.6L-91.2 -46.3L-91.6 -47.6L-92.5 -48.4L-93.8 -48.4L-95.1 -47.6L-96.4 -46.3L-97.2 -44.6L-97.4 -42.9L-97 -41.5L-96.1 -40.7L-94.8 -40.7L-93.4 -41.5L-92.2 -42.9ZM-73.4 -51L-73.3 -52.1L-73.5 -52.9L-74.1 -53.4L-74.9 -53.4L-75.8 -52.9L-76.6 -52.1L-77.2 -51L-77.3 -49.9L-77 -49L-76.4 -48.5L-75.5 -48.5L-74.7 -49L-73.9 -49.9ZM-86.2 -20L-86.4 -21.2L-87.1 -22.2L-88.2 -22.8L-89.6 -22.8L-90.9 -22.2L-91.8 -21.2L-92.3 -20L-92.1 -18.8L-91.4 -17.8L-90.2 -17.3L-88.8 -17.3L-87.5 -17.8L-86.6 -18.8ZM-73.2 -8.6L-73.4 -10.5L-74 -12L-75 -12.8L-76.1 -12.8L-77.2 -12L-78 -10.5L-78.3 -8.6L-78.1 -6.8L-77.5 -5.3L-76.5 -4.4L-75.3 -4.4L-74.3 -5.3L-73.5 -6.8ZM-79.5 1.4L-79.7 0.2L-80.1 -0.8L-80.7 -1.4L-81.4 -1.4L-82 -0.8L-82.4 0.2L-82.6 1.4L-82.4 2.7L-82 3.7L-81.4 4.2L-80.7 4.2L-80.1 3.7L-79.7 2.7ZM-53.4 47.2L-54.1 45.5L-55.4 44.1L-57.1 43.4L-58.8 43.4L-60.2 44.1L-61 45.5L-61.1 47.2L-60.3 48.8L-59 50.2L-57.3 50.9L-55.6 50.9L-54.3 50.2L-53.5 48.8ZM-51.7 45.9L-52.1 44.8L-52.8 43.9L-53.7 43.3L-54.5 43.3L-55.2 43.9L-55.6 44.8L-55.6 45.9L-55.2 47L-54.5 47.9L-53.6 48.4L-52.8 48.4L-52.1 47.9L-51.7 47ZM20.6 -68.4L20.1 -69.6L19 -70.5L17.6 -71L16.1 -71L14.8 -70.5L13.9 -69.6L13.7 -68.4L14.2 -67.3L15.2 -66.3L16.7 -65.8L18.2 -65.8L19.6 -66.3L20.4 -67.3ZM25.9 -62.4L25.3 -63.6L24.2 -64.6L22.7 -65.1L21.1 -65.1L19.8 -64.6L18.9 -63.6L18.7 -62.4L19.2 -61.1L20.3 -60.1L21.8 -59.5L23.4 -59.5L24.8 -60.1L25.7 -61.1ZM18.2 -62.9L17.9 -63.7L17.2 -64.3L16.3 -64.6L15.3 -64.6L14.5 -64.3L13.9 -63.7L13.8 -62.9L14.1 -62.2L14.7 -61.6L15.6 -61.3L16.6 -61.3L17.5 -61.6L18.1 -62.2ZM21 -71L20.7 -71.7L19.9 -72.2L18.8 -72.5L17.7 -72.5L16.8 -72.2L16.1 -71.7L16 -71L16.3 -70.4L17.1 -69.8L18.2 -69.5L19.3 -69.5L20.3 -69.8L20.9 -70.4ZM-5.5 -69.5L-5.6 -69.9L-6 -70.3L-6.5 -70.5L-7 -70.5L-7.6 -70.3L-7.9 -69.9L-8.1 -69.5L-8 -69L-7.7 -68.7L-7.1 -68.4L-6.6 -68.4L-6 -68.7L-5.7 -69ZM42.9 -12.9L42.5 -14.8L41.6 -16.3L40.4 -17.1L39 -17.1L37.8 -16.3L37 -14.8L36.8 -12.9L37.1 -11.1L38 -9.6L39.2 -8.7L40.6 -8.7L41.8 -9.6L42.6 -11.1ZM-13.2 -20L-13.4 -20.9L-13.9 -21.7L-14.7 -22.1L-15.6 -22.1L-16.4 -21.7L-17 -20.9L-17.2 -20L-17.1 -19.1L-16.5 -18.4L-15.7 -18L-14.8 -18L-14 -18.4L-13.4 -19.1ZM96.8 -62.9L95.8 -63.9L93.8 -64.7L91.5 -65.1L89.1 -65.1L87.3 -64.7L86.2 -63.9L86.2 -62.9L87.2 -61.9L89.1 -61.1L91.5 -60.7L93.9 -60.7L95.8 -61.1L96.9 -61.9ZM70.8 -56.5L70.4 -57L69.7 -57.4L68.9 -57.7L68.1 -57.7L67.5 -57.4L67.1 -57L67.1 -56.5L67.4 -56L68.1 -55.6L68.9 -55.3L69.7 -55.3L70.4 -55.6L70.7 -56ZM104.9 -38L103.9 -40.3L102.3 -42.1L100.4 -43.1L98.7 -43.1L97.5 -42.1L96.9 -40.3L97.1 -38L98 -35.6L99.6 -33.7L101.4 -32.7L103.2 -32.7L104.5 -33.7L105.2 -35.6ZM100.7 -42.6L100.2 -43.8L99.3 -44.7L98.4 -45.2L97.5 -45.2L96.9 -44.7L96.7 -43.8L96.8 -42.6L97.3 -41.5L98.1 -40.6L99.1 -40L99.9 -40L100.6 -40.6L100.8 -41.5ZM28.2 41.3L28.1 40.7L27.9 40.3L27.5 40L27.1 40L26.7 40.3L26.4 40.7L26.2 41.3L26.3 41.9L26.5 42.3L26.9 42.6L27.3 42.6L27.7 42.3L28 41.9Z" fill="#707070"/><path d="M-98.1 -28.4L-98.2 -29.3L-98.8 -30L-99.7 -30.4L-100.8 -30.4L-101.9 -30L-102.7 -29.3L-103.1 -28.4L-103 -27.5L-102.5 -26.8L-101.5 -26.4L-100.4 -26.4L-99.3 -26.8L-98.5 -27.5ZM-75.7 -31.2L-75.9 -32.4L-76.9 -33.3L-78.4 -33.9L-80.1 -33.9L-81.8 -33.3L-83.1 -32.4L-83.7 -31.2L-83.5 -30L-82.5 -29L-81 -28.5L-79.2 -28.5L-77.5 -29L-76.3 -30ZM-53.9 44.6L-54.3 43.5L-55 42.5L-55.8 42L-56.7 42L-57.4 42.5L-57.8 43.5L-57.7 44.6L-57.3 45.7L-56.6 46.6L-55.8 47.1L-54.9 47.1L-54.3 46.6L-53.9 45.7ZM89.1 -64.1L88.5 -64.8L87.4 -65.4L86.2 -65.7L85 -65.7L84.2 -65.4L83.7 -64.8L83.8 -64.1L84.5 -63.3L85.5 -62.7L86.7 -62.4L87.9 -62.4L88.8 -62.7L89.3 -63.3ZM107.9 -33.9L107.5 -35.1L106.7 -36L105.7 -36.6L104.9 -36.6L104.2 -36L103.9 -35.1L104 -33.9L104.4 -32.7L105.2 -31.8L106.1 -31.3L107 -31.3L107.7 -31.8L108 -32.7ZM105.6 -37.3L105.2 -38.2L104.6 -38.9L103.9 -39.3L103.3 -39.3L102.8 -38.9L102.6 -38.2L102.7 -37.3L103 -36.4L103.6 -35.7L104.3 -35.3L105 -35.3L105.5 -35.7L105.7 -36.4Z" fill="#8f8f8f"/><path d="M-99.2 -30.5L-99.3 -31.1L-99.6 -31.6L-100.1 -31.8L-100.8 -31.8L-101.4 -31.6L-102 -31.1L-102.2 -30.5L-102.2 -29.9L-101.9 -29.4L-101.3 -29.2L-100.7 -29.2L-100 -29.4L-99.5 -29.9ZM-70.8 -27L-70.8 -27.9L-71.3 -28.7L-72.1 -29.1L-72.9 -29.1L-73.8 -28.7L-74.5 -27.9L-74.8 -27L-74.7 -26.1L-74.2 -25.4L-73.5 -25L-72.6 -25L-71.7 -25.4L-71.1 -26.1ZM40.9 -11.5L40.7 -12.4L40.3 -13.2L39.6 -13.6L38.9 -13.6L38.3 -13.2L37.9 -12.4L37.8 -11.5L38 -10.6L38.4 -9.8L39.1 -9.4L39.7 -9.4L40.4 -9.8L40.8 -10.6Z" fill="#afafaf"/></g></g>
<use href="#grl"/><use href="#grd"/>
<use href="#bord"/>
<use href="#gl" fill="#8d9393"/><use href="#glg" fill="#45875c"/><use href="#ice" fill="#bfc2b9"/>
<use href="#land" fill="none" stroke="#3e4a3b" stroke-width="0.55" stroke-opacity="0.9"/>
<use href="#dkl"/>
<use href="#frame" fill="none" stroke="#a4a4a4" stroke-width="1.2"/>
</g>
<text x="20.9" y="472.8" class="lb">Horses</text>
<g transform="translate(582.6 450.6)">
<use href="#frame" fill="#fff"/>
<use href="#grat"/>
<use href="#land" fill="#fdf3c6"/>
<g clip-path="url(#lc)"><g filter="url(#fPigs)"><rect x="-190" y="-100" width="380" height="180" fill="#000"/><path d="M-38.7 17.2L-40.1 9.8L-43.6 3.8L-48.6 0.4L-54 0.4L-59 3.8L-62.2 9.8L-63.1 17.2L-61.3 24.5L-57.3 30.3L-52.2 33.5L-46.9 33.5L-42.4 30.3L-39.5 24.5ZM149.5 39.3L149.9 37.6L149.6 36.2L148.7 35.4L147.4 35.4L145.9 36.2L144.6 37.6L143.7 39.3L143.3 41L143.5 42.4L144.3 43.2L145.6 43.2L147.1 42.4L148.5 41Z" fill="#303030"/><path d="M-75 -54.7L-75.1 -56.8L-76.8 -58.4L-79.7 -59.4L-83.4 -59.4L-87 -58.4L-90 -56.8L-91.7 -54.7L-91.7 -52.6L-90 -50.8L-86.9 -49.8L-83.2 -49.8L-79.4 -50.8L-76.6 -52.6ZM-91.3 -51L-91.2 -52.1L-91.6 -52.9L-92.5 -53.4L-93.8 -53.4L-95.1 -52.9L-96.2 -52.1L-96.9 -51L-97 -49.9L-96.6 -49L-95.6 -48.5L-94.3 -48.5L-93 -49L-91.9 -49.9ZM-94.8 -35.3L-94.7 -37L-95.1 -38.4L-96.1 -39.2L-97.4 -39.2L-98.8 -38.4L-100 -37L-100.7 -35.3L-100.8 -33.5L-100.3 -32.1L-99.2 -31.3L-97.9 -31.3L-96.6 -32.1L-95.4 -33.5ZM-42.4 22.8L-43.1 19.8L-44.6 17.3L-46.7 15.9L-49 15.9L-51 17.3L-52.2 19.8L-52.5 22.8L-51.8 25.9L-50.2 28.3L-48.1 29.6L-45.8 29.6L-43.9 28.3L-42.7 25.9ZM-57.7 39.3L-58.2 37.6L-59.2 36.2L-60.5 35.4L-61.9 35.4L-62.9 36.2L-63.5 37.6L-63.5 39.3L-62.9 41L-61.9 42.4L-60.6 43.2L-59.3 43.2L-58.3 42.4L-57.7 41ZM41.9 -71.5L40.6 -72.8L38 -73.9L34.5 -74.4L30.9 -74.4L27.7 -73.9L25.7 -72.8L25.1 -71.5L26.2 -70.2L28.8 -69.1L32.4 -68.5L36.2 -68.5L39.5 -69.1L41.5 -70.2ZM51.1 -71.5L50.1 -72.6L48.4 -73.5L46.2 -73.9L44 -73.9L42.2 -73.5L41.2 -72.6L41 -71.5L41.9 -70.4L43.6 -69.5L45.8 -69L48.1 -69L50 -69.5L51 -70.4ZM46.9 -71.5L46.1 -72.4L44.4 -73.1L42.3 -73.5L40.1 -73.5L38.2 -73.1L37.1 -72.4L36.9 -71.5L37.6 -70.6L39.2 -69.9L41.4 -69.5L43.7 -69.5L45.6 -69.9L46.7 -70.6ZM0.5 -17.2L0.3 -18.1L-0.3 -18.9L-1.1 -19.3L-2 -19.3L-2.8 -18.9L-3.4 -18.1L-3.6 -17.2L-3.4 -16.3L-2.8 -15.5L-2 -15.1L-1.1 -15.1L-0.3 -15.5L0.3 -16.3ZM28.7 8.6L28.3 6.1L27.2 4.1L25.5 3L23.7 3L22.1 4.1L20.9 6.1L20.5 8.6L20.9 11.1L22 13.1L23.6 14.2L25.4 14.2L27 13.1L28.2 11.1ZM29.5 36.6L29.4 35.5L28.9 34.5L28.2 34L27.3 34L26.5 34.5L25.9 35.5L25.6 36.6L25.7 37.8L26.2 38.7L26.9 39.2L27.8 39.2L28.6 38.7L29.2 37.8ZM19.3 17.2L19.1 16L18.6 15L17.8 14.4L16.9 14.4L16.1 15L15.5 16L15.3 17.2L15.4 18.4L16 19.4L16.8 20L17.7 20L18.5 19.4L19.1 18.4ZM-13.2 -18.6L-13.4 -19.5L-13.9 -20.3L-14.7 -20.7L-15.6 -20.7L-16.5 -20.3L-17 -19.5L-17.3 -18.6L-17.1 -17.7L-16.5 -16.9L-15.7 -16.5L-14.8 -16.5L-14 -16.9L-13.4 -17.7ZM116.1 10.5L115.8 9.9L115 9.4L113.8 9.1L112.4 9.1L111.2 9.4L110.3 9.9L110 10.5L110.2 11.1L111 11.6L112.2 11.9L113.6 11.9L114.8 11.6L115.7 11.1ZM104.6 -2.9L104.4 -4.1L103.8 -5.1L103 -5.7L102.1 -5.7L101.3 -5.1L100.7 -4.1L100.5 -2.9L100.8 -1.6L101.3 -0.6L102.2 -0.1L103.1 -0.1L103.9 -0.6L104.5 -1.6ZM125.1 4.3L124.9 3.1L124.4 2.1L123.6 1.5L122.7 1.5L121.8 2.1L121.3 3.1L121 4.3L121.2 5.6L121.7 6.6L122.5 7.1L123.4 7.1L124.3 6.6L124.9 5.6ZM89.5 -36.6L89 -37.8L88 -38.7L86.7 -39.2L85.4 -39.2L84.3 -38.7L83.7 -37.8L83.6 -36.6L84.2 -35.5L85.2 -34.5L86.5 -34L87.8 -34L88.9 -34.5L89.5 -35.5Z" fill="#505050"/><path d="M-85.2 -52.2L-85.1 -53L-85.4 -53.7L-86 -54L-86.8 -54L-87.7 -53.7L-88.5 -53L-88.9 -52.2L-89 -51.4L-88.7 -50.8L-88.1 -50.4L-87.3 -50.4L-86.4 -50.8L-85.7 -51.4ZM-86 -59.5L-85.9 -60.2L-86.1 -60.8L-86.6 -61.2L-87.4 -61.2L-88.3 -60.8L-89.1 -60.2L-89.6 -59.5L-89.8 -58.7L-89.6 -58.1L-89 -57.7L-88.2 -57.7L-87.3 -58.1L-86.5 -58.7ZM-97 -29.1L-97.1 -30.6L-98 -31.8L-99.4 -32.5L-101.2 -32.5L-102.9 -31.8L-104.3 -30.6L-105 -29.1L-104.9 -27.6L-104 -26.4L-102.5 -25.7L-100.7 -25.7L-99 -26.4L-97.7 -27.6ZM-75.7 -31.2L-75.9 -32.4L-76.9 -33.3L-78.4 -33.9L-80.1 -33.9L-81.8 -33.3L-83.1 -32.4L-83.7 -31.2L-83.5 -30L-82.5 -29L-81 -28.5L-79.2 -28.5L-77.5 -29L-76.3 -30ZM-73.8 -7.2L-74 -9.7L-74.7 -11.7L-75.9 -12.8L-77.3 -12.8L-78.6 -11.7L-79.5 -9.7L-79.9 -7.2L-79.7 -4.7L-78.9 -2.7L-77.6 -1.6L-76.3 -1.6L-75 -2.7L-74.1 -4.7ZM-79.5 1.4L-79.7 0.2L-80.1 -0.8L-80.7 -1.4L-81.4 -1.4L-82 -0.8L-82.4 0.2L-82.6 1.4L-82.4 2.7L-82 3.7L-81.4 4.2L-80.7 4.2L-80.1 3.7L-79.7 2.7ZM-65.3 -12.9L-65.6 -14.2L-66.4 -15.1L-67.6 -15.7L-68.9 -15.7L-70.2 -15.1L-71.1 -14.2L-71.5 -12.9L-71.2 -11.7L-70.4 -10.7L-69.2 -10.1L-67.9 -10.1L-66.6 -10.7L-65.7 -11.7ZM-75.5 14.3L-75.8 11.9L-76.5 9.9L-77.4 8.8L-78.3 8.8L-79 9.9L-79.5 11.9L-79.6 14.3L-79.2 16.8L-78.4 18.8L-77.5 19.9L-76.6 19.9L-75.9 18.8L-75.5 16.8ZM-42.2 27L-42.6 25.2L-43.5 23.8L-44.8 22.9L-46.1 22.9L-47.3 23.8L-48 25.2L-48.2 27L-47.7 28.8L-46.8 30.3L-45.5 31.1L-44.2 31.1L-43 30.3L-42.3 28.8ZM-45.8 31.2L-46.1 30L-46.8 29L-47.6 28.5L-48.5 28.5L-49.3 29L-49.7 30L-49.8 31.2L-49.5 32.4L-48.8 33.3L-48 33.9L-47.1 33.9L-46.4 33.3L-45.9 32.4ZM-37.8 11.5L-38.2 9.6L-39 8.1L-40.3 7.3L-41.7 7.3L-42.9 8.1L-43.7 9.6L-44 11.5L-43.6 13.3L-42.7 14.8L-41.4 15.7L-40.1 15.7L-38.9 14.8L-38.1 13.3ZM-54.6 45.9L-55.1 44.8L-56.1 43.9L-57.3 43.3L-58.6 43.3L-59.7 43.9L-60.3 44.8L-60.4 45.9L-59.9 47L-58.9 47.9L-57.6 48.4L-56.4 48.4L-55.3 47.9L-54.7 47ZM-61.5 24.2L-61.8 23L-62.4 22L-63.3 21.5L-64.2 21.5L-65 22L-65.4 23L-65.5 24.2L-65.2 25.5L-64.5 26.4L-63.7 27L-62.8 27L-62 26.4L-61.6 25.5ZM-67.3 47.2L-67.6 46.3L-68 45.7L-68.4 45.3L-68.9 45.3L-69.2 45.7L-69.3 46.3L-69.2 47.2L-68.9 48L-68.5 48.7L-68 49L-67.6 49L-67.3 48.7L-67.2 48ZM-53.1 36.6L-53.5 35.5L-54.1 34.5L-55 34L-55.9 34L-56.6 34.5L-57 35.5L-57.1 36.6L-56.7 37.8L-56 38.7L-55.2 39.2L-54.3 39.2L-53.6 38.7L-53.2 37.8ZM18.3 -66.3L16.8 -69.1L13.5 -71.2L9.1 -72.4L4.2 -72.4L-0.1 -71.2L-3.2 -69.1L-4.4 -66.3L-3.3 -63.4L-0.1 -61L4.6 -59.7L9.9 -59.7L14.5 -61L17.5 -63.4ZM4.5 -62.4L4.2 -63.4L3.4 -64.1L2.3 -64.6L1.2 -64.6L0.1 -64.1L-0.6 -63.4L-0.9 -62.4L-0.6 -61.4L0.1 -60.6L1.2 -60.1L2.4 -60.1L3.5 -60.6L4.2 -61.4ZM25 -61.8L24.6 -62.8L23.8 -63.6L22.7 -64L21.5 -64L20.5 -63.6L19.8 -62.8L19.7 -61.8L20.1 -60.8L20.9 -60L22 -59.5L23.2 -59.5L24.3 -60L24.9 -60.8ZM31.1 -67.4L30.3 -68.7L28.6 -69.8L26.5 -70.4L24.2 -70.4L22.3 -69.8L21 -68.7L20.7 -67.4L21.5 -65.9L23.1 -64.8L25.3 -64.1L27.6 -64.1L29.6 -64.8L30.9 -65.9ZM0.4 -69.5L0.3 -70.2L-0.1 -70.7L-0.6 -71L-1.1 -71L-1.6 -70.7L-2 -70.2L-2.1 -69.5L-2 -68.8L-1.7 -68.2L-1.1 -67.9L-0.6 -67.9L-0.1 -68.2L0.3 -68.8ZM-5.5 -69.5L-5.6 -69.9L-6 -70.3L-6.5 -70.5L-7 -70.5L-7.6 -70.3L-7.9 -69.9L-8.1 -69.5L-8 -69L-7.7 -68.7L-7.1 -68.4L-6.6 -68.4L-6 -68.7L-5.7 -69ZM21.6 -72.5L21.3 -73.2L20.8 -73.7L20.1 -74L19.3 -74L18.7 -73.7L18.3 -73.2L18.3 -72.5L18.5 -71.9L19.1 -71.4L19.8 -71.1L20.6 -71.1L21.2 -71.4L21.5 -71.9ZM4.1 -11.5L3.9 -12.7L3.3 -13.7L2.5 -14.3L1.6 -14.3L0.8 -13.7L0.2 -12.7L0 -11.5L0.2 -10.2L0.8 -9.2L1.6 -8.7L2.5 -8.7L3.3 -9.2L3.9 -10.2ZM13.3 -7.2L13.1 -8.4L12.5 -9.4L11.7 -10L10.8 -10L10 -9.4L9.4 -8.4L9.2 -7.2L9.4 -5.9L10 -4.9L10.8 -4.4L11.7 -4.4L12.6 -4.9L13.1 -5.9ZM31.8 4.3L31.5 2.4L30.6 0.9L29.4 0.1L28 0.1L26.8 0.9L26 2.4L25.6 4.3L25.9 6.2L26.8 7.7L28 8.5L29.4 8.5L30.6 7.7L31.5 6.2ZM36.5 20L36.4 18.2L35.9 16.7L35.1 15.9L34.2 15.9L33.3 16.7L32.7 18.2L32.4 20L32.6 21.9L33.1 23.3L33.8 24.1L34.7 24.1L35.6 23.3L36.2 21.9ZM37.2 25.6L37.1 24.4L36.6 23.5L35.8 22.9L34.9 22.9L34.1 23.5L33.5 24.4L33.2 25.6L33.3 26.9L33.8 27.8L34.6 28.4L35.5 28.4L36.3 27.8L36.9 26.9ZM49.2 27L49.2 24.6L48.7 22.7L48 21.6L47.1 21.6L46.2 22.7L45.5 24.6L45.2 27L45.2 29.4L45.6 31.4L46.3 32.4L47.1 32.4L48 31.4L48.8 29.4ZM99.9 -29.8L99 -32.2L97.5 -34.1L95.7 -35.1L93.9 -35.1L92.6 -34.1L91.8 -32.2L91.9 -29.8L92.7 -27.4L94.1 -25.5L95.9 -24.4L97.7 -24.4L99.1 -25.5L99.9 -27.4ZM105.4 -27L105 -28.2L104.2 -29.2L103.3 -29.7L102.4 -29.7L101.7 -29.2L101.4 -28.2L101.4 -27L101.8 -25.8L102.5 -24.9L103.4 -24.3L104.3 -24.3L105 -24.9L105.4 -25.8ZM128.8 -1.4L128.7 -1.8L128.4 -2L128 -2.1L127.5 -2.1L127.1 -2L126.8 -1.8L126.7 -1.4L126.8 -1.1L127.1 -0.9L127.5 -0.7L128 -0.7L128.4 -0.9L128.7 -1.1ZM94.5 -36.6L94.1 -37.2L93.5 -37.7L92.6 -37.9L91.8 -37.9L91 -37.7L90.6 -37.2L90.5 -36.6L90.9 -36L91.5 -35.6L92.3 -35.3L93.2 -35.3L94 -35.6L94.4 -36ZM151.5 8.6L151.3 7.4L150.5 6.4L149.3 5.8L148 5.8L146.7 6.4L145.8 7.4L145.4 8.6L145.6 9.9L146.4 10.9L147.5 11.4L148.9 11.4L150.2 10.9L151.1 9.9Z" fill="#707070"/><path d="M-78.5 -55.3L-78.6 -56.1L-79.4 -56.7L-80.7 -57.1L-82.4 -57.1L-84 -56.7L-85.3 -56.1L-85.9 -55.3L-85.9 -54.5L-85.1 -53.9L-83.7 -53.5L-82 -53.5L-80.4 -53.9L-79.2 -54.5ZM-77.8 -54.7L-77.7 -55.5L-78 -56.1L-78.6 -56.5L-79.4 -56.5L-80.3 -56.1L-81.1 -55.5L-81.5 -54.7L-81.6 -53.9L-81.3 -53.2L-80.7 -52.9L-79.9 -52.9L-79 -53.2L-78.3 -53.9ZM-101 -29.1L-101.1 -29.7L-101.5 -30.2L-102.3 -30.5L-103.2 -30.5L-104 -30.2L-104.7 -29.7L-105 -29.1L-104.9 -28.5L-104.4 -28L-103.7 -27.8L-102.8 -27.8L-101.9 -28L-101.3 -28.5ZM-87.5 -29.1L-87.5 -29.7L-87.9 -30.2L-88.4 -30.5L-89.1 -30.5L-89.7 -30.2L-90.2 -29.7L-90.5 -29.1L-90.4 -28.5L-90.1 -28L-89.5 -27.8L-88.9 -27.8L-88.2 -28L-87.7 -28.5ZM-86.2 -20L-86.4 -21.2L-87.1 -22.2L-88.2 -22.8L-89.6 -22.8L-90.9 -22.2L-91.8 -21.2L-92.3 -20L-92.1 -18.8L-91.4 -17.8L-90.2 -17.3L-88.8 -17.3L-87.5 -17.8L-86.6 -18.8ZM-70.8 -27L-70.8 -27.9L-71.3 -28.7L-72.1 -29.1L-72.9 -29.1L-73.8 -28.7L-74.5 -27.9L-74.8 -27L-74.7 -26.1L-74.2 -25.4L-73.5 -25L-72.6 -25L-71.7 -25.4L-71.1 -26.1ZM-49.7 40.6L-50 39.8L-50.6 39.1L-51.4 38.7L-52.3 38.7L-53 39.1L-53.5 39.8L-53.6 40.6L-53.2 41.5L-52.6 42.2L-51.8 42.6L-50.9 42.6L-50.2 42.2L-49.7 41.5ZM-48.5 33.9L-48.8 33L-49.4 32.3L-50.3 31.9L-51.2 31.9L-51.9 32.3L-52.4 33L-52.5 33.9L-52.2 34.8L-51.5 35.5L-50.7 35.9L-49.8 35.9L-49.1 35.5L-48.6 34.8ZM-0.9 -54.7L-1.2 -55.7L-2 -56.6L-3.1 -57L-4.3 -57L-5.4 -56.6L-6.2 -55.7L-6.5 -54.7L-6.2 -53.6L-5.5 -52.8L-4.4 -52.3L-3.1 -52.3L-2 -52.8L-1.2 -53.6ZM12.2 -66.3L11.7 -67.7L10.7 -68.8L9.3 -69.4L7.8 -69.4L6.4 -68.8L5.5 -67.7L5.2 -66.3L5.6 -64.8L6.6 -63.7L8.1 -63L9.7 -63L11.1 -63.7L11.9 -64.8ZM19.7 -68.4L19.3 -69.3L18.2 -70.1L16.8 -70.5L15.3 -70.5L14 -70.1L13.1 -69.3L12.9 -68.4L13.3 -67.5L14.3 -66.7L15.8 -66.3L17.3 -66.3L18.6 -66.7L19.5 -67.5ZM20.6 -61.2L20.3 -62L19.5 -62.6L18.4 -62.9L17.2 -62.9L16.1 -62.6L15.5 -62L15.3 -61.2L15.6 -60.5L16.4 -59.9L17.5 -59.5L18.7 -59.5L19.8 -59.9L20.5 -60.5ZM15 -64.1L14.7 -65L13.9 -65.8L12.8 -66.2L11.6 -66.2L10.6 -65.8L9.9 -65L9.7 -64.1L10 -63.1L10.8 -62.3L11.9 -61.9L13.1 -61.9L14.2 -62.3L14.8 -63.1ZM11.8 -70.5L11.6 -71L11.1 -71.3L10.4 -71.5L9.7 -71.5L9 -71.3L8.6 -71L8.4 -70.5L8.6 -70.1L9.1 -69.7L9.8 -69.5L10.6 -69.5L11.3 -69.7L11.7 -70.1ZM-5.1 -53.5L-5.2 -54.3L-5.6 -54.9L-6.2 -55.3L-6.8 -55.3L-7.3 -54.9L-7.8 -54.3L-7.9 -53.5L-7.8 -52.7L-7.4 -52L-6.9 -51.6L-6.3 -51.6L-5.7 -52L-5.3 -52.7ZM10.2 -11.5L9.8 -13.3L8.7 -14.8L7 -15.7L5.2 -15.7L3.6 -14.8L2.4 -13.3L2 -11.5L2.5 -9.6L3.6 -8.1L5.2 -7.3L7.1 -7.3L8.7 -8.1L9.8 -9.6ZM34.9 -1.4L34.7 -2.4L34.3 -3.1L33.7 -3.5L33 -3.5L32.4 -3.1L32 -2.4L31.8 -1.4L32 -0.5L32.4 0.2L33 0.7L33.7 0.7L34.3 0.2L34.7 -0.5ZM116.1 -60.6L114.9 -62.1L113.4 -63.3L111.9 -64L110.7 -64L110 -63.3L110.1 -62.1L110.7 -60.6L111.9 -59.1L113.3 -57.9L114.8 -57.2L116 -57.2L116.7 -57.9L116.8 -59.1ZM116.8 -59.5L115.5 -61L113.8 -62.2L111.9 -62.9L110.3 -62.9L109.3 -62.2L109 -61L109.6 -59.5L110.8 -57.9L112.5 -56.7L114.3 -56L116 -56L117 -56.7L117.4 -57.9ZM114.3 -55.9L113.4 -56.9L112.2 -57.8L110.9 -58.2L109.7 -58.2L108.8 -57.8L108.5 -56.9L108.7 -55.9L109.5 -54.8L110.7 -54L112 -53.5L113.3 -53.5L114.2 -54L114.5 -54.8ZM103.7 -35.3L103.1 -36.5L102 -37.4L100.7 -37.9L99.4 -37.9L98.3 -37.4L97.8 -36.5L97.7 -35.3L98.3 -34.1L99.3 -33.2L100.6 -32.6L102 -32.6L103 -33.2L103.6 -34.1ZM126.5 -44.6L126.2 -45.1L125.8 -45.6L125.3 -45.9L124.9 -45.9L124.6 -45.6L124.5 -45.1L124.6 -44.6L124.9 -44L125.4 -43.6L125.9 -43.3L126.3 -43.3L126.6 -43.6L126.7 -44ZM133.3 -49.7L132.9 -50.3L132.3 -50.7L131.6 -50.9L131 -50.9L130.5 -50.7L130.3 -50.3L130.5 -49.7L130.9 -49.2L131.5 -48.7L132.2 -48.5L132.8 -48.5L133.3 -48.7L133.4 -49.2ZM105.3 -21.4L104.7 -23.3L103.6 -24.7L102.3 -25.5L100.9 -25.5L99.9 -24.7L99.2 -23.3L99.2 -21.4L99.7 -19.6L100.7 -18.1L102 -17.3L103.4 -17.3L104.5 -18.1L105.2 -19.6ZM107.7 -17.9L107.4 -19.1L106.7 -20.1L105.8 -20.7L104.9 -20.7L104.2 -20.1L103.7 -19.1L103.7 -17.9L104 -16.7L104.7 -15.7L105.5 -15.1L106.4 -15.1L107.2 -15.7L107.7 -16.7ZM112.4 -55.9L111.5 -56.9L110 -57.8L108.3 -58.2L106.7 -58.2L105.5 -57.8L104.9 -56.9L105 -55.9L105.9 -54.8L107.3 -54L109 -53.5L110.7 -53.5L112 -54L112.6 -54.8ZM128.6 13.6L128.4 13L127.9 12.5L127.1 12.2L126.2 12.2L125.4 12.5L124.8 13L124.5 13.6L124.6 14.3L125.2 14.7L125.9 15L126.8 15L127.7 14.7L128.3 14.3Z" fill="#8f8f8f"/><path d="M-84 -58.9L-84 -59.4L-84.3 -59.8L-84.9 -60L-85.7 -60L-86.6 -59.8L-87.2 -59.4L-87.6 -58.9L-87.7 -58.4L-87.4 -58L-86.7 -57.7L-85.9 -57.7L-85.1 -58L-84.4 -58.4ZM-73.1 -48.4L-73.1 -49L-73.4 -49.4L-73.9 -49.7L-74.5 -49.7L-75.2 -49.4L-75.7 -49L-76 -48.4L-76 -47.9L-75.7 -47.4L-75.2 -47.2L-74.6 -47.2L-73.9 -47.4L-73.4 -47.9ZM1.8 -56.5L1.6 -57.5L0.8 -58.4L-0.3 -58.8L-1.5 -58.8L-2.6 -58.4L-3.4 -57.5L-3.7 -56.5L-3.4 -55.5L-2.7 -54.6L-1.5 -54.1L-0.3 -54.1L0.8 -54.6L1.6 -55.5ZM10.8 -60.6L10.6 -61.1L10.1 -61.5L9.3 -61.8L8.5 -61.8L7.8 -61.5L7.4 -61.1L7.2 -60.6L7.4 -60.1L7.9 -59.7L8.7 -59.5L9.5 -59.5L10.2 -59.7L10.7 -60.1ZM117.4 -42L114.6 -47L110.6 -51L106.3 -53.2L102.6 -53.2L100.1 -51L99.2 -47L99.9 -42L102.2 -36.8L105.7 -32.5L109.8 -30.1L113.8 -30.1L116.8 -32.5L118.2 -36.8ZM115.4 -57.1L114.5 -58.4L113.1 -59.4L111.7 -60L110.5 -60L109.7 -59.4L109.5 -58.4L110 -57.1L110.9 -55.8L112.2 -54.7L113.6 -54.2L114.8 -54.2L115.7 -54.7L115.9 -55.8ZM109.9 -53.5L109.3 -54.3L108.5 -54.9L107.6 -55.3L106.8 -55.3L106.2 -54.9L106 -54.3L106.2 -53.5L106.7 -52.7L107.5 -52L108.4 -51.6L109.3 -51.6L109.9 -52L110.1 -52.7ZM109.5 -15.8L109.2 -16.7L108.7 -17.4L108.1 -17.8L107.4 -17.8L106.8 -17.4L106.5 -16.7L106.4 -15.8L106.7 -14.8L107.2 -14.1L107.8 -13.7L108.5 -13.7L109.1 -14.1L109.4 -14.8ZM122.1 -50.3L121.4 -51.4L120.5 -52.3L119.5 -52.8L118.7 -52.8L118.2 -52.3L118.1 -51.4L118.4 -50.3L119 -49.3L120 -48.4L120.9 -47.9L121.8 -47.9L122.3 -48.4L122.5 -49.3ZM120.8 -33.2L120.5 -33.9L120.2 -34.5L119.8 -34.8L119.4 -34.8L119.2 -34.5L119.1 -33.9L119.2 -33.2L119.5 -32.5L119.8 -32L120.2 -31.6L120.6 -31.6L120.8 -32L120.9 -32.5ZM124.5 -21.4L124 -23L123.3 -24.2L122.3 -24.9L121.4 -24.9L120.7 -24.2L120.4 -23L120.4 -21.4L120.9 -19.9L121.6 -18.7L122.5 -18L123.4 -18L124.1 -18.7L124.5 -19.9ZM127.9 -15.1L127.5 -16.3L126.7 -17.3L125.6 -17.8L124.5 -17.8L123.5 -17.3L122.9 -16.3L122.8 -15.1L123.2 -13.8L124 -12.8L125.1 -12.3L126.2 -12.3L127.2 -12.8L127.8 -13.8ZM129.9 -10.8L129.6 -12L128.9 -13L128 -13.6L127.1 -13.6L126.4 -13L125.9 -12L125.8 -10.8L126.1 -9.5L126.7 -8.5L127.6 -8L128.5 -8L129.3 -8.5L129.8 -9.5ZM118.5 12.1L118.5 11.8L118.3 11.5L117.9 11.4L117.6 11.4L117.2 11.5L117 11.8L116.9 12.1L116.9 12.4L117.1 12.6L117.5 12.8L117.8 12.8L118.2 12.6L118.4 12.4ZM105.4 -48.4L104.7 -49.5L103.6 -50.4L102.3 -50.9L101 -50.9L100.1 -50.4L99.6 -49.5L99.7 -48.4L100.4 -47.3L101.5 -46.4L102.8 -45.9L104.1 -45.9L105.1 -46.4L105.6 -47.3Z" fill="#afafaf"/><path d="M-82.9 -57.1L-82.8 -58.1L-83.2 -59L-84.1 -59.4L-85.3 -59.4L-86.6 -59L-87.7 -58.1L-88.4 -57.1L-88.6 -56.1L-88.2 -55.2L-87.2 -54.7L-86 -54.7L-84.7 -55.2L-83.6 -56.1ZM-48.1 38L-48.4 37.1L-49.2 36.4L-50.2 36L-51.3 36L-52.2 36.4L-52.8 37.1L-53 38L-52.6 38.8L-51.8 39.5L-50.8 39.9L-49.7 39.9L-48.8 39.5L-48.2 38.8ZM8.9 -72.5L8.8 -73L8.5 -73.3L8 -73.5L7.6 -73.5L7.2 -73.3L7 -73L6.9 -72.5L7 -72.1L7.3 -71.8L7.7 -71.6L8.2 -71.6L8.6 -71.8L8.8 -72.1ZM8.5 -69L8.2 -69.6L7.5 -70.2L6.5 -70.5L5.3 -70.5L4.3 -70.2L3.7 -69.6L3.4 -69L3.7 -68.3L4.4 -67.7L5.5 -67.4L6.6 -67.4L7.6 -67.7L8.3 -68.3ZM-1.3 -64.1L-1.5 -64.5L-1.8 -64.9L-2.3 -65.1L-2.9 -65.1L-3.5 -64.9L-3.8 -64.5L-4 -64.1L-3.9 -63.6L-3.5 -63.2L-3 -63L-2.4 -63L-1.8 -63.2L-1.5 -63.6ZM4.9 -67.1L4.8 -67.5L4.5 -67.8L4.1 -68L3.6 -68L3.2 -67.8L3 -67.5L2.9 -67.1L3 -66.8L3.3 -66.5L3.7 -66.3L4.1 -66.3L4.6 -66.5L4.8 -66.8ZM113.3 -52.2L112.2 -53.8L110.9 -55.1L109.4 -55.8L108.2 -55.8L107.4 -55.1L107.2 -53.8L107.7 -52.2L108.6 -50.6L110 -49.3L111.4 -48.5L112.7 -48.5L113.5 -49.3L113.7 -50.6ZM107.6 -35.3L106.9 -37L105.7 -38.4L104.3 -39.2L103 -39.2L102 -38.4L101.5 -37L101.7 -35.3L102.4 -33.5L103.5 -32.1L104.9 -31.3L106.2 -31.3L107.2 -32.1L107.7 -33.5ZM112.4 -31.9L111.9 -32.8L110.9 -33.5L109.6 -33.9L108.3 -33.9L107.2 -33.5L106.5 -32.8L106.4 -31.9L106.9 -31L107.9 -30.3L109.2 -29.9L110.5 -29.9L111.6 -30.3L112.3 -31ZM110 -40.6L108.6 -43.5L106.5 -45.8L104.2 -47L102 -47L100.5 -45.8L99.9 -43.5L100.3 -40.6L101.6 -37.7L103.5 -35.4L105.8 -34.1L108 -34.1L109.7 -35.4L110.4 -37.7ZM104.3 -42L103.6 -43.4L102.4 -44.5L101 -45.2L99.7 -45.2L98.8 -44.5L98.3 -43.4L98.5 -42L99.2 -40.5L100.3 -39.4L101.6 -38.7L102.9 -38.7L103.9 -39.4L104.4 -40.5ZM116.1 -36.6L114.9 -39L113 -40.8L110.7 -41.8L108.6 -41.8L106.9 -40.8L106.1 -39L106.3 -36.6L107.4 -34.3L109.2 -32.4L111.4 -31.3L113.6 -31.3L115.4 -32.4L116.3 -34.3ZM113 -48.4L112 -50.1L110.4 -51.4L108.5 -52.1L106.9 -52.1L105.7 -51.4L105.2 -50.1L105.4 -48.4L106.4 -46.8L108 -45.4L109.8 -44.7L111.5 -44.7L112.8 -45.4L113.3 -46.8ZM117.4 -44.6L116.8 -45.7L115.9 -46.6L114.9 -47.1L114.1 -47.1L113.5 -46.6L113.3 -45.7L113.6 -44.6L114.2 -43.5L115 -42.5L116 -42L116.8 -42L117.4 -42.5L117.6 -43.5ZM112.2 -32.6L111.6 -33.7L110.6 -34.7L109.3 -35.2L107.9 -35.2L106.9 -34.7L106.3 -33.7L106.3 -32.6L106.8 -31.4L107.9 -30.4L109.2 -29.9L110.5 -29.9L111.6 -30.4L112.2 -31.4ZM107.6 -28.4L107.2 -29.6L106.6 -30.6L105.9 -31.1L105.3 -31.1L104.8 -30.6L104.5 -29.6L104.6 -28.4L105 -27.2L105.6 -26.3L106.3 -25.7L107 -25.7L107.5 -26.3L107.7 -27.2Z" fill="#cfcfcf"/></g></g>
<use href="#grl"/><use href="#grd"/>
<use href="#bord"/>
<use href="#gl" fill="#8d9393"/><use href="#glg" fill="#45875c"/><use href="#ice" fill="#bfc2b9"/>
<use href="#land" fill="none" stroke="#3e4a3b" stroke-width="0.55" stroke-opacity="0.9"/>
<use href="#dkl"/>
<use href="#frame" fill="none" stroke="#a4a4a4" stroke-width="1.2"/>
</g>
<text x="412.6" y="472.8" class="lb">Pigs</text>
<g transform="translate(187.7 628.5)">
<use href="#frame" fill="#fff"/>
<use href="#grat"/>
<use href="#land" fill="#fffbe4"/>
<g clip-path="url(#lc)"><g filter="url(#fChicken)"><rect x="-190" y="-100" width="380" height="180" fill="#000"/><path d="M-93.5 -57.1L-92.7 -60.2L-93.5 -62.6L-95.6 -63.9L-98.8 -63.9L-102.4 -62.6L-105.7 -60.2L-108.1 -57.1L-108.9 -53.9L-108 -51.4L-105.6 -49.9L-102.2 -49.9L-98.7 -51.4L-95.5 -53.9ZM-58.4 7.2L-59.3 4.1L-61.6 1.6L-64.9 0.2L-68.5 0.2L-71.8 1.6L-74.1 4.1L-74.8 7.2L-73.9 10.3L-71.5 12.8L-68.1 14.2L-64.5 14.2L-61.3 12.8L-59.1 10.3ZM92 -45.9L90.5 -48.1L87.9 -49.9L84.5 -50.8L81.2 -50.8L78.4 -49.9L76.8 -48.1L76.7 -45.9L78 -43.6L80.6 -41.8L83.9 -40.8L87.4 -40.8L90.2 -41.8L91.9 -43.6ZM99 -60.6L97.3 -62.1L94.2 -63.3L90.3 -64L86.3 -64L83.1 -63.3L81.2 -62.1L81 -60.6L82.5 -59.1L85.6 -57.9L89.5 -57.2L93.6 -57.2L97 -57.9L98.9 -59.1Z" fill="#232323"/><path d="M-71.2 -52.2L-71.1 -56.5L-73.5 -59.8L-77.8 -61.6L-83.4 -61.6L-89.3 -59.8L-94.3 -56.5L-97.4 -52.2L-97.7 -47.8L-95.1 -44.3L-90.3 -42.2L-84.2 -42.2L-78.3 -44.3L-73.7 -47.8ZM-49.8 17.2L-50.6 14.1L-52.4 11.6L-54.9 10.2L-57.6 10.2L-60 11.6L-61.6 14.1L-62 17.2L-61.2 20.3L-59.3 22.7L-56.8 24.1L-54.1 24.1L-51.8 22.7L-50.3 20.3ZM70.2 -62.9L68.7 -64.4L65.8 -65.6L62 -66.2L58.1 -66.2L54.9 -65.6L52.8 -64.4L52.4 -62.9L53.8 -61.4L56.6 -60.2L60.4 -59.6L64.5 -59.6L67.9 -60.2L69.9 -61.4ZM26.6 7.2L26.1 4.1L24.4 1.6L21.9 0.2L19.2 0.2L16.7 1.6L15 4.1L14.3 7.2L14.9 10.3L16.6 12.8L19 14.2L21.8 14.2L24.2 12.8L26 10.3ZM28.9 31.2L28.6 28.8L27.6 26.9L26 25.8L24.2 25.8L22.6 26.9L21.4 28.8L20.9 31.2L21.2 33.6L22.2 35.5L23.7 36.5L25.5 36.5L27.1 35.5L28.3 33.6Z" fill="#3a3a3a"/><path d="M-37.6 18.6L-38.6 13.7L-40.9 9.7L-44.3 7.5L-47.9 7.5L-51.2 9.7L-53.3 13.7L-53.8 18.6L-52.7 23.5L-50.1 27.4L-46.7 29.5L-43.2 29.5L-40.1 27.4L-38.1 23.5ZM-56.3 42L-57 39.7L-58.4 37.8L-60.1 36.8L-61.9 36.8L-63.3 37.8L-64.1 39.7L-64 42L-63.2 44.2L-61.8 46L-60 47L-58.3 47L-57 46L-56.3 44.2Z" fill="#515151"/><path d="M-76.9 -54.7L-77 -55.7L-78 -56.6L-79.6 -57L-81.7 -57L-83.7 -56.6L-85.3 -55.7L-86.2 -54.7L-86.1 -53.6L-85.1 -52.8L-83.4 -52.3L-81.3 -52.3L-79.3 -52.8L-77.7 -53.6ZM-73.1 -48.4L-73.3 -50.6L-74.9 -52.4L-77.6 -53.3L-80.9 -53.3L-84.2 -52.4L-86.9 -50.6L-88.3 -48.4L-88.3 -46.2L-86.6 -44.4L-83.8 -43.4L-80.4 -43.4L-77 -44.4L-74.5 -46.2ZM-76.9 -38.6L-76.8 -39.8L-77 -40.7L-77.4 -41.2L-78.1 -41.2L-78.8 -40.7L-79.4 -39.8L-79.8 -38.6L-79.9 -37.5L-79.7 -36.5L-79.2 -36L-78.5 -36L-77.8 -36.5L-77.2 -37.5ZM-96.3 -32.6L-96.2 -35.5L-97 -37.9L-98.6 -39.1L-100.8 -39.1L-103.1 -37.9L-105.1 -35.5L-106.3 -32.6L-106.4 -29.6L-105.5 -27.2L-103.7 -25.8L-101.5 -25.8L-99.2 -27.2L-97.4 -29.6ZM-75.6 12.9L-75.9 10.4L-76.5 8.4L-77.4 7.3L-78.3 7.3L-79.1 8.4L-79.6 10.4L-79.6 12.9L-79.3 15.4L-78.6 17.4L-77.6 18.5L-76.7 18.5L-76 17.4L-75.6 15.4ZM-51.7 45.9L-52.1 45L-52.7 44.4L-53.6 44L-54.4 44L-55.1 44.4L-55.5 45L-55.6 45.9L-55.2 46.7L-54.6 47.4L-53.7 47.8L-52.9 47.8L-52.2 47.4L-51.8 46.7ZM-54.5 33.9L-54.8 32.7L-55.5 31.8L-56.3 31.3L-57.2 31.3L-57.9 31.8L-58.4 32.7L-58.4 33.9L-58.1 35.1L-57.4 36L-56.5 36.6L-55.7 36.6L-54.9 36L-54.5 35.1ZM63.8 -69.5L62.7 -70.4L60.5 -71.1L57.6 -71.5L54.6 -71.5L52.1 -71.1L50.5 -70.4L50.2 -69.5L51.2 -68.6L53.4 -67.8L56.3 -67.4L59.4 -67.4L62 -67.8L63.6 -68.6ZM54.4 -71.5L53.6 -72.4L52.2 -73.1L50.4 -73.5L48.5 -73.5L47 -73.1L46.1 -72.4L46.1 -71.5L46.8 -70.6L48.2 -69.9L50.1 -69.5L52 -69.5L53.5 -69.9L54.4 -70.6ZM49.4 -35.3L48.6 -37.6L47 -39.5L44.9 -40.5L42.8 -40.5L40.9 -39.5L39.8 -37.6L39.5 -35.3L40.2 -32.9L41.7 -31L43.8 -29.9L46 -29.9L47.9 -31L49.1 -32.9ZM66.8 -47.2L66.2 -48.3L65.2 -49.2L64 -49.7L62.7 -49.7L61.7 -49.2L61.1 -48.3L61.1 -47.2L61.6 -46.1L62.6 -45.2L63.8 -44.7L65.1 -44.7L66.2 -45.2L66.8 -46.1ZM72.3 -69.5L71 -70.4L68.3 -71.1L64.7 -71.5L61 -71.5L57.8 -71.1L55.8 -70.4L55.3 -69.5L56.5 -68.6L59.2 -67.8L62.9 -67.4L66.7 -67.4L70 -67.8L72 -68.6ZM17.3 -14.3L16.1 -16.8L12.7 -18.8L7.8 -19.9L2.4 -19.9L-2.5 -18.8L-5.9 -16.8L-7.1 -14.3L-5.9 -11.9L-2.5 -9.9L2.4 -8.8L7.9 -8.8L12.8 -9.9L16.2 -11.9ZM37.9 8.6L37.6 6.8L36.8 5.3L35.6 4.4L34.2 4.4L32.9 5.3L32.1 6.8L31.7 8.6L32 10.5L32.8 12L34 12.8L35.4 12.8L36.7 12L37.5 10.5ZM31.4 20L31.2 18.2L30.4 16.7L29.2 15.9L27.8 15.9L26.6 16.7L25.7 18.2L25.3 20L25.6 21.9L26.4 23.3L27.6 24.1L28.9 24.1L30.2 23.3L31.1 21.9ZM49.2 27L49.2 24.6L48.7 22.7L48 21.6L47.1 21.6L46.2 22.7L45.5 24.6L45.2 27L45.2 29.4L45.6 31.4L46.3 32.4L47.1 32.4L48 31.4L48.8 29.4ZM30.8 4.3L30.6 3.1L30 2.1L29.2 1.5L28.3 1.5L27.4 2.1L26.9 3.1L26.7 4.3L26.9 5.6L27.4 6.6L28.2 7.1L29.1 7.1L30 6.6L30.6 5.6ZM165.7 52.2L166.3 51.1L166.5 50.3L166.2 49.8L165.6 49.8L164.7 50.3L163.7 51.1L162.9 52.2L162.3 53.3L162.1 54.2L162.3 54.6L163 54.6L163.8 54.2L164.8 53.3Z" fill="#686868"/><path d="M-46.5 22.8L-46.9 21L-47.8 19.5L-49.1 18.7L-50.4 18.7L-51.6 19.5L-52.4 21L-52.5 22.8L-52.1 24.7L-51.1 26.1L-49.9 26.9L-48.5 26.9L-47.4 26.1L-46.6 24.7ZM-35.8 11.5L-36 9.6L-36.6 8.1L-37.5 7.3L-38.4 7.3L-39.2 8.1L-39.7 9.6L-39.9 11.5L-39.6 13.3L-39 14.8L-38.1 15.7L-37.2 15.7L-36.4 14.8L-35.9 13.3ZM-72.5 -12.9L-72.7 -14.2L-73.5 -15.1L-74.7 -15.7L-76.1 -15.7L-77.3 -15.1L-78.2 -14.2L-78.6 -12.9L-78.4 -11.7L-77.6 -10.7L-76.4 -10.1L-75 -10.1L-73.8 -10.7L-72.9 -11.7ZM26.1 -66.3L24.3 -69.5L20.3 -72L15.1 -73.3L9.6 -73.3L4.7 -72L1.3 -69.5L0 -66.3L1.3 -62.9L5.1 -60.1L10.6 -58.5L16.7 -58.5L22 -60.1L25.3 -62.9ZM47.7 -71.5L46.2 -73L42.9 -74.2L38.8 -74.9L34.4 -74.9L30.7 -74.2L28.3 -73L27.6 -71.5L29 -70L32.1 -68.7L36.4 -68L41 -68L44.9 -68.7L47.3 -70ZM26.4 -69.5L26 -70.4L25.1 -71.1L24 -71.5L22.9 -71.5L22 -71.1L21.4 -70.4L21.3 -69.5L21.7 -68.6L22.5 -67.8L23.6 -67.4L24.8 -67.4L25.7 -67.8L26.3 -68.6ZM15.7 -55.9L15.4 -56.7L14.9 -57.3L14.1 -57.7L13.3 -57.7L12.6 -57.3L12.1 -56.7L12 -55.9L12.2 -55.1L12.8 -54.5L13.5 -54.1L14.3 -54.1L15.1 -54.5L15.5 -55.1ZM21.8 -54.1L21.6 -54.9L21.2 -55.5L20.6 -55.9L20 -55.9L19.4 -55.5L19.1 -54.9L19 -54.1L19.2 -53.3L19.7 -52.6L20.3 -52.3L20.9 -52.3L21.4 -52.6L21.8 -53.3ZM63.9 -54.7L63.4 -55.7L62.3 -56.6L61.1 -57L59.9 -57L58.9 -56.6L58.4 -55.7L58.4 -54.7L58.9 -53.6L59.9 -52.8L61.1 -52.3L62.4 -52.3L63.4 -52.8L63.9 -53.6ZM46.6 -21.4L46.3 -22.7L45.7 -23.6L44.8 -24.2L43.9 -24.2L43.1 -23.6L42.6 -22.7L42.5 -21.4L42.8 -20.2L43.4 -19.2L44.2 -18.7L45.1 -18.7L45.9 -19.2L46.4 -20.2ZM86.9 -29.8L84.9 -35.7L81.5 -40.4L77.4 -43L73.5 -43L70.5 -40.4L68.9 -35.7L68.9 -29.8L70.5 -23.8L73.5 -18.9L77.4 -16.1L81.5 -16.1L84.9 -18.9L86.9 -23.8ZM68.9 -36.6L68.5 -37.8L67.8 -38.7L66.9 -39.2L66 -39.2L65.3 -38.7L65 -37.8L64.9 -36.6L65.3 -35.5L66 -34.5L66.9 -34L67.8 -34L68.5 -34.5L68.9 -35.5ZM105.4 -27L105 -28.2L104.2 -29.2L103.3 -29.7L102.4 -29.7L101.7 -29.2L101.4 -28.2L101.4 -27L101.8 -25.8L102.5 -24.9L103.4 -24.3L104.3 -24.3L105 -24.9L105.4 -25.8ZM5.1 -10.1L4.6 -11.3L3.2 -12.3L1.1 -12.8L-1.1 -12.8L-3.2 -12.3L-4.6 -11.3L-5.1 -10.1L-4.6 -8.8L-3.2 -7.8L-1.1 -7.3L1.1 -7.3L3.2 -7.8L4.6 -8.8ZM-13.2 -20L-13.4 -20.9L-13.9 -21.7L-14.7 -22.1L-15.6 -22.1L-16.4 -21.7L-17 -20.9L-17.2 -20L-17.1 -19.1L-16.5 -18.4L-15.7 -18L-14.8 -18L-14 -18.4L-13.4 -19.1ZM13.3 -7.2L13.1 -8.4L12.5 -9.4L11.7 -10L10.8 -10L10 -9.4L9.4 -8.4L9.2 -7.2L9.4 -5.9L10 -4.9L10.8 -4.4L11.7 -4.4L12.6 -4.9L13.1 -5.9ZM42.9 -12.9L42.5 -14.8L41.6 -16.3L40.4 -17.1L39 -17.1L37.8 -16.3L37 -14.8L36.8 -12.9L37.1 -11.1L38 -9.6L39.2 -8.7L40.6 -8.7L41.8 -9.6L42.6 -11.1ZM38 0L37.7 -1.2L36.8 -2.2L35.6 -2.8L34.2 -2.8L33 -2.2L32.1 -1.2L31.8 0L32.1 1.2L33 2.2L34.2 2.8L35.6 2.8L36.8 2.2L37.7 1.2ZM32.2 25.6L32.1 24.4L31.5 23.5L30.8 22.9L29.9 22.9L29 23.5L28.4 24.4L28.2 25.6L28.3 26.9L28.8 27.8L29.6 28.4L30.5 28.4L31.3 27.8L31.9 26.9ZM31.3 39.3L31.2 38.2L30.7 37.2L30 36.7L29.1 36.7L28.3 37.2L27.6 38.2L27.4 39.3L27.5 40.5L27.9 41.4L28.7 41.9L29.5 41.9L30.4 41.4L31 40.5ZM33.3 24.2L33.1 23L32.6 22L31.8 21.5L30.9 21.5L30.1 22L29.5 23L29.2 24.2L29.4 25.5L29.9 26.4L30.7 27L31.6 27L32.4 26.4L33 25.5ZM150.8 38.6L150.9 38.1L150.8 37.6L150.5 37.3L150.1 37.3L149.6 37.6L149.1 38.1L148.8 38.6L148.7 39.2L148.8 39.7L149.1 39.9L149.5 39.9L150 39.7L150.4 39.2ZM112.6 44.6L112.7 44L112.6 43.6L112.3 43.3L111.9 43.3L111.4 43.6L111 44L110.7 44.6L110.6 45.1L110.7 45.6L111 45.9L111.4 45.9L111.9 45.6L112.3 45.1ZM132.7 48.3L132.8 47.8L132.8 47.3L132.5 47.1L132.1 47.1L131.6 47.3L131.1 47.8L130.8 48.3L130.6 48.9L130.6 49.3L130.9 49.6L131.3 49.6L131.8 49.3L132.3 48.9Z" fill="#808080"/><path d="M-69.5 -54.7L-69.5 -55.2L-69.9 -55.6L-70.6 -55.9L-71.4 -55.9L-72.2 -55.6L-72.8 -55.2L-73.2 -54.7L-73.2 -54.2L-72.8 -53.7L-72.1 -53.5L-71.3 -53.5L-70.5 -53.7L-69.8 -54.2ZM-89.7 -43.9L-89.6 -44.8L-90 -45.5L-90.6 -45.8L-91.5 -45.8L-92.4 -45.5L-93.1 -44.8L-93.5 -43.9L-93.6 -43.1L-93.2 -42.4L-92.6 -42L-91.7 -42L-90.8 -42.4L-90.1 -43.1ZM-112 -51L-111.6 -52.1L-111.4 -52.9L-111.6 -53.4L-112 -53.4L-112.6 -52.9L-113.3 -52.1L-113.8 -51L-114.2 -49.9L-114.3 -49L-114.2 -48.5L-113.7 -48.5L-113.2 -49L-112.5 -49.9ZM-97.1 -28.4L-97.3 -29.6L-98.2 -30.6L-99.7 -31.1L-101.5 -31.1L-103.2 -30.6L-104.5 -29.6L-105.1 -28.4L-105 -27.2L-104 -26.3L-102.5 -25.7L-100.7 -25.7L-99 -26.3L-97.7 -27.2ZM-95.3 -27L-95.4 -27.9L-95.8 -28.7L-96.6 -29.1L-97.4 -29.1L-98.3 -28.7L-99 -27.9L-99.4 -27L-99.3 -26.1L-98.9 -25.4L-98.1 -25L-97.2 -25L-96.4 -25.4L-95.7 -26.1ZM-86.2 -20L-86.4 -21.2L-87.1 -22.2L-88.2 -22.8L-89.6 -22.8L-90.9 -22.2L-91.8 -21.2L-92.3 -20L-92.1 -18.8L-91.4 -17.8L-90.2 -17.3L-88.8 -17.3L-87.5 -17.8L-86.6 -18.8ZM-74.2 -31.2L-74.5 -32.4L-75.5 -33.3L-77.2 -33.9L-79.2 -33.9L-81.1 -33.3L-82.5 -32.4L-83.2 -31.2L-82.9 -30L-81.8 -29L-80.1 -28.5L-78.1 -28.5L-76.2 -29L-74.8 -30ZM-73.8 -7.2L-74 -9.1L-74.6 -10.6L-75.6 -11.4L-76.7 -11.4L-77.8 -10.6L-78.6 -9.1L-78.9 -7.2L-78.7 -5.3L-78 -3.8L-77 -3L-75.9 -3L-74.8 -3.8L-74.1 -5.3ZM-79.5 1.4L-79.7 0.2L-80.1 -0.8L-80.7 -1.4L-81.4 -1.4L-82 -0.8L-82.4 0.2L-82.6 1.4L-82.4 2.7L-82 3.7L-81.4 4.2L-80.7 4.2L-80.1 3.7L-79.7 2.7ZM-54.4 47.2L-54.8 46.1L-55.5 45.2L-56.3 44.7L-57.2 44.7L-57.9 45.2L-58.2 46.1L-58.2 47.2L-57.8 48.3L-57.1 49.2L-56.2 49.7L-55.4 49.7L-54.7 49.2L-54.4 48.3ZM-66.8 47.2L-67.1 46.3L-67.5 45.7L-68 45.3L-68.4 45.3L-68.7 45.7L-68.8 46.3L-68.7 47.2L-68.4 48L-68 48.7L-67.5 49L-67.1 49L-66.8 48.7L-66.7 48ZM10.4 -67.4L10 -68.3L9.3 -69L8.2 -69.4L7.1 -69.4L6.1 -69L5.4 -68.3L5.2 -67.4L5.5 -66.4L6.2 -65.7L7.3 -65.2L8.5 -65.2L9.5 -65.7L10.2 -66.4ZM18.7 -62.9L18.4 -63.4L17.9 -63.8L17.2 -64L16.4 -64L15.7 -63.8L15.2 -63.4L15.1 -62.9L15.3 -62.4L15.9 -62L16.6 -61.8L17.4 -61.8L18.1 -62L18.5 -62.4ZM25.1 -61.2L24.8 -62L23.9 -62.6L22.8 -62.9L21.6 -62.9L20.6 -62.6L19.9 -62L19.7 -61.2L20.1 -60.5L20.9 -59.9L22 -59.5L23.2 -59.5L24.3 -59.9L25 -60.5ZM30.7 -65.2L30.1 -66.1L29 -66.9L27.6 -67.3L26 -67.3L24.7 -66.9L23.9 -66.1L23.7 -65.2L24.2 -64.2L25.3 -63.4L26.7 -63L28.3 -63L29.7 -63.4L30.5 -64.2ZM0.9 -54.7L0.6 -56.3L-0.5 -57.5L-1.9 -58.2L-3.5 -58.2L-5 -57.5L-6.1 -56.3L-6.5 -54.7L-6.2 -53.1L-5.2 -51.8L-3.7 -51.1L-2 -51.1L-0.5 -51.8L0.6 -53.1ZM38.2 -53.5L37.5 -54.5L35.8 -55.4L33.5 -55.8L31 -55.8L28.9 -55.4L27.4 -54.5L27 -53.5L27.7 -52.4L29.3 -51.5L31.7 -51L34.2 -51L36.4 -51.5L37.8 -52.4ZM44.8 -47.2L44.4 -48.3L43.5 -49.2L42.2 -49.7L41 -49.7L39.9 -49.2L39.2 -48.3L39.1 -47.2L39.6 -46.1L40.5 -45.2L41.7 -44.7L43 -44.7L44.1 -45.2L44.7 -46.1ZM38 -48.4L37.7 -49.3L37.1 -49.9L36.3 -50.3L35.4 -50.3L34.7 -49.9L34.3 -49.3L34.2 -48.4L34.5 -47.6L35.1 -46.9L35.9 -46.6L36.8 -46.6L37.5 -46.9L37.9 -47.6ZM44.2 -55.9L43.8 -56.7L42.9 -57.3L41.7 -57.7L40.5 -57.7L39.5 -57.3L38.8 -56.7L38.7 -55.9L39.1 -55.1L40 -54.5L41.2 -54.1L42.4 -54.1L43.5 -54.5L44.1 -55.1ZM82.4 -38L81.4 -39.7L79.5 -41.1L77 -41.9L74.4 -41.9L72.2 -41.1L70.9 -39.7L70.6 -38L71.5 -36.2L73.4 -34.8L75.9 -34L78.5 -34L80.8 -34.8L82.2 -36.2ZM83.5 -25.6L82.9 -27.5L81.9 -28.9L80.6 -29.7L79.2 -29.7L78.2 -28.9L77.5 -27.5L77.5 -25.6L78 -23.8L79 -22.4L80.3 -21.5L81.6 -21.5L82.8 -22.4L83.4 -23.8ZM93.8 -35.3L93.4 -36.2L92.7 -36.9L91.8 -37.3L90.9 -37.3L90.2 -36.9L89.8 -36.2L89.8 -35.3L90.2 -34.4L90.9 -33.7L91.8 -33.3L92.7 -33.3L93.4 -33.7L93.8 -34.4ZM84 -39.3L83.7 -39.9L83.1 -40.4L82.2 -40.6L81.4 -40.6L80.6 -40.4L80.2 -39.9L80.1 -39.3L80.5 -38.7L81.1 -38.3L81.9 -38L82.8 -38L83.5 -38.3L84 -38.7ZM83.3 -10.8L83.2 -11.7L82.9 -12.5L82.6 -12.9L82.2 -12.9L81.9 -12.5L81.7 -11.7L81.7 -10.8L81.8 -9.8L82.1 -9.1L82.4 -8.7L82.8 -8.7L83.1 -9.1L83.3 -9.8ZM117.4 -42L114.9 -46.5L111.1 -50L106.8 -52L103.1 -52L100.5 -50L99.4 -46.5L99.9 -42L102.1 -37.3L105.4 -33.6L109.5 -31.5L113.5 -31.5L116.6 -33.6L118 -37.3ZM104 -47.2L103.3 -48.3L102.2 -49.2L100.9 -49.7L99.6 -49.7L98.6 -49.2L98.2 -48.3L98.3 -47.2L98.9 -46.1L100 -45.2L101.3 -44.7L102.6 -44.7L103.6 -45.2L104.1 -46.1ZM131.2 -58.3L130.7 -58.8L130.1 -59.2L129.4 -59.4L128.8 -59.4L128.4 -59.2L128.3 -58.8L128.4 -58.3L128.9 -57.8L129.5 -57.4L130.2 -57.1L130.9 -57.1L131.3 -57.4L131.4 -57.8ZM99.4 -27L98.6 -29.4L97.4 -31.4L96 -32.4L94.7 -32.4L93.7 -31.4L93.2 -29.4L93.3 -27L94 -24.6L95.1 -22.7L96.5 -21.6L97.8 -21.6L98.9 -22.7L99.4 -24.6ZM107.8 -17.2L107.5 -18.4L106.8 -19.4L105.9 -20L105 -20L104.3 -19.4L103.8 -18.4L103.7 -17.2L104.1 -16L104.7 -15L105.6 -14.4L106.5 -14.4L107.3 -15L107.7 -16ZM105.7 0L105.4 -2.5L104.5 -4.5L103.2 -5.6L101.8 -5.6L100.6 -4.5L99.8 -2.5L99.5 0L99.8 2.5L100.6 4.5L101.8 5.6L103.2 5.6L104.5 4.5L105.4 2.5ZM124 6.5L123.9 5.5L123.7 4.8L123.3 4.4L122.8 4.4L122.4 4.8L122.1 5.5L122 6.5L122 7.4L122.3 8.2L122.6 8.6L123.1 8.6L123.5 8.2L123.9 7.4ZM108.4 -54.7L107.5 -55.7L106.1 -56.6L104.4 -57L102.8 -57L101.5 -56.6L100.9 -55.7L101 -54.7L101.8 -53.6L103.2 -52.8L104.9 -52.3L106.6 -52.3L107.9 -52.8L108.5 -53.6ZM103.7 -35.3L103.1 -36.5L102 -37.4L100.7 -37.9L99.4 -37.9L98.3 -37.4L97.8 -36.5L97.7 -35.3L98.3 -34.1L99.3 -33.2L100.6 -32.6L102 -32.6L103 -33.2L103.6 -34.1ZM11.2 -12.9L10.8 -14.8L9.7 -16.3L8 -17.1L6.2 -17.1L4.6 -16.3L3.5 -14.8L3.1 -12.9L3.5 -11.1L4.6 -9.6L6.3 -8.7L8.1 -8.7L9.7 -9.6L10.8 -11.1ZM35.5 20L35.4 18.8L35.2 17.8L34.8 17.3L34.4 17.3L33.9 17.8L33.6 18.8L33.5 20L33.5 21.2L33.7 22.2L34.1 22.8L34.6 22.8L35 22.2L35.3 21.2ZM31.3 2.9L31.2 2.3L30.9 1.8L30.5 1.5L30 1.5L29.6 1.8L29.3 2.3L29.2 2.9L29.3 3.5L29.6 4L30 4.3L30.5 4.3L30.9 4L31.2 3.5ZM18.6 46.5L18.6 46L18.3 45.5L18 45.3L17.6 45.3L17.2 45.5L16.9 46L16.7 46.5L16.8 47.1L17 47.5L17.4 47.8L17.8 47.8L18.2 47.5L18.5 47.1ZM145.2 46.9L145.3 46.4L145.3 45.9L145 45.7L144.6 45.7L144.1 45.9L143.6 46.4L143.2 46.9L143.1 47.5L143.1 47.9L143.4 48.2L143.8 48.2L144.3 47.9L144.8 47.5ZM136.8 52L137 51.5L136.9 51.2L136.6 51L136.2 51L135.7 51.2L135.3 51.5L134.9 52L134.8 52.4L134.9 52.8L135.1 52.9L135.6 52.9L136 52.8L136.5 52.4Z" fill="#979797"/><path d="M-86.2 -49.1L-86.2 -49.9L-86.5 -50.6L-87.1 -50.9L-87.9 -50.9L-88.8 -50.6L-89.6 -49.9L-90 -49.1L-90.1 -48.3L-89.8 -47.6L-89.1 -47.2L-88.3 -47.2L-87.4 -47.6L-86.7 -48.3ZM-84.7 -44.6L-84.6 -45.4L-84.8 -46.1L-85.3 -46.5L-85.9 -46.5L-86.6 -46.1L-87.2 -45.4L-87.6 -44.6L-87.7 -43.7L-87.4 -43.1L-87 -42.7L-86.3 -42.7L-85.6 -43.1L-85.1 -43.7ZM-73.4 -49.1L-73.5 -49.6L-73.9 -50.1L-74.6 -50.3L-75.4 -50.3L-76.2 -50.1L-76.9 -49.6L-77.2 -49.1L-77.2 -48.5L-76.8 -48.1L-76.1 -47.8L-75.3 -47.8L-74.4 -48.1L-73.8 -48.5ZM-69.6 -52.8L-69.5 -53.4L-69.6 -53.8L-69.9 -54L-70.4 -54L-70.8 -53.8L-71.2 -53.4L-71.4 -52.8L-71.5 -52.3L-71.4 -51.9L-71.1 -51.6L-70.6 -51.6L-70.2 -51.9L-69.8 -52.3ZM-68.7 -27L-68.9 -27.9L-69.5 -28.7L-70.4 -29.1L-71.6 -29.1L-72.6 -28.7L-73.4 -27.9L-73.8 -27L-73.6 -26.1L-73 -25.4L-72.1 -25L-70.9 -25L-69.9 -25.4L-69.1 -26.1ZM-65.4 -25.9L-65.4 -26.5L-65.8 -27L-66.4 -27.3L-67 -27.3L-67.7 -27L-68.2 -26.5L-68.4 -25.9L-68.3 -25.3L-67.9 -24.8L-67.3 -24.6L-66.7 -24.6L-66 -24.8L-65.6 -25.3ZM-65.3 -14.3L-65.5 -15L-66.4 -15.5L-67.6 -15.7L-68.9 -15.7L-70.2 -15.5L-71.1 -15L-71.4 -14.3L-71.1 -13.7L-70.3 -13.2L-69.1 -13L-67.7 -13L-66.5 -13.2L-65.6 -13.7ZM-77.4 15.8L-77.6 14.2L-78 13L-78.4 12.3L-78.9 12.3L-79.3 13L-79.5 14.2L-79.4 15.8L-79.2 17.3L-78.8 18.5L-78.4 19.2L-77.9 19.2L-77.6 18.5L-77.4 17.3ZM-47.2 36.6L-47.7 34.9L-48.7 33.5L-50 32.7L-51.3 32.7L-52.4 33.5L-53.1 34.9L-53.1 36.6L-52.6 38.4L-51.6 39.8L-50.3 40.5L-49 40.5L-48 39.8L-47.3 38.4ZM-43.8 31.2L-44.2 30L-45.1 29L-46.4 28.5L-47.7 28.5L-48.9 29L-49.6 30L-49.8 31.2L-49.4 32.4L-48.5 33.3L-47.2 33.9L-45.9 33.9L-44.7 33.3L-44 32.4ZM0.4 -69L0.2 -70.3L-0.4 -71.4L-1.2 -72L-2.1 -72L-3 -71.4L-3.6 -70.3L-3.8 -69L-3.7 -67.6L-3.1 -66.4L-2.2 -65.8L-1.3 -65.8L-0.4 -66.4L0.2 -67.6ZM0.9 -63.5L0.7 -64.2L0.2 -64.8L-0.5 -65.1L-1.3 -65.1L-2 -64.8L-2.5 -64.2L-2.7 -63.5L-2.5 -62.8L-2 -62.2L-1.3 -61.8L-0.5 -61.8L0.2 -62.2L0.7 -62.8ZM18.9 -68.4L18.5 -69.3L17.7 -70.1L16.6 -70.5L15.5 -70.5L14.5 -70.1L13.9 -69.3L13.7 -68.4L14.1 -67.5L14.9 -66.7L16 -66.3L17.1 -66.3L18.1 -66.7L18.7 -67.5ZM0 -69L-0.1 -69.6L-0.5 -70.2L-1 -70.5L-1.5 -70.5L-2.1 -70.2L-2.4 -69.6L-2.6 -69L-2.4 -68.3L-2.1 -67.7L-1.6 -67.4L-1 -67.4L-0.5 -67.7L-0.1 -68.3ZM11.7 -60.6L11.5 -61.1L11 -61.5L10.2 -61.8L9.4 -61.8L8.7 -61.5L8.3 -61.1L8.1 -60.6L8.3 -60.1L8.8 -59.7L9.6 -59.5L10.4 -59.5L11.1 -59.7L11.6 -60.1ZM35.2 -68.4L34.7 -69.3L33.8 -70.1L32.7 -70.5L31.5 -70.5L30.6 -70.1L30.1 -69.3L30 -68.4L30.5 -67.5L31.3 -66.7L32.5 -66.3L33.6 -66.3L34.6 -66.7L35.1 -67.5ZM32.4 -72.5L32.1 -73L31.6 -73.3L30.8 -73.5L30.1 -73.5L29.5 -73.3L29.1 -73L29.1 -72.5L29.3 -72.1L29.9 -71.8L30.6 -71.6L31.4 -71.6L32 -71.8L32.3 -72.1ZM29.6 -54.7L29.4 -55.2L28.8 -55.6L28.1 -55.9L27.2 -55.9L26.5 -55.6L26.1 -55.2L25.9 -54.7L26.2 -54.2L26.8 -53.7L27.5 -53.5L28.4 -53.5L29.1 -53.7L29.5 -54.2ZM-1.9 -47.8L-2.2 -48.9L-3 -49.8L-4.1 -50.3L-5.3 -50.3L-6.5 -49.8L-7.3 -48.9L-7.6 -47.8L-7.4 -46.7L-6.6 -45.8L-5.4 -45.3L-4.2 -45.3L-3 -45.8L-2.2 -46.7ZM7.6 -49.7L7.1 -50.8L5.7 -51.7L3.9 -52.2L1.8 -52.2L-0.1 -51.7L-1.4 -50.8L-1.9 -49.7L-1.4 -48.6L-0.1 -47.7L1.8 -47.2L3.9 -47.2L5.8 -47.7L7.1 -48.6ZM9.4 -50.3L9.2 -51.2L8.7 -51.8L7.9 -52.2L7.1 -52.2L6.3 -51.8L5.8 -51.2L5.7 -50.3L5.9 -49.5L6.4 -48.9L7.2 -48.5L8 -48.5L8.8 -48.9L9.3 -49.5ZM11.3 -49.7L11.1 -50.8L10.6 -51.7L9.8 -52.2L8.9 -52.2L8.2 -51.7L7.7 -50.8L7.6 -49.7L7.8 -48.6L8.3 -47.7L9.1 -47.2L10 -47.2L10.7 -47.7L11.2 -48.6ZM32.4 -38L32 -40.3L31.3 -42.1L30.4 -43.1L29.5 -43.1L28.8 -42.1L28.5 -40.3L28.4 -38L28.8 -35.6L29.5 -33.7L30.3 -32.7L31.2 -32.7L31.9 -33.7L32.4 -35.6ZM55.3 -47.2L54.3 -49.4L52.4 -51.1L50 -52.1L47.5 -52.1L45.4 -51.1L44.1 -49.4L43.9 -47.2L44.8 -44.9L46.7 -43.1L49.1 -42.1L51.7 -42.1L53.9 -43.1L55.2 -44.9ZM55.8 -49.7L55.4 -50.5L54.8 -51.2L53.9 -51.6L53.1 -51.6L52.4 -51.2L52 -50.5L52 -49.7L52.3 -48.9L53 -48.2L53.8 -47.9L54.7 -47.9L55.4 -48.2L55.8 -48.9ZM47.3 -34.9L47.1 -35.5L46.8 -35.9L46.3 -36.2L45.7 -36.2L45.3 -35.9L45 -35.5L45 -34.9L45.1 -34.3L45.5 -33.8L46 -33.5L46.5 -33.5L47 -33.8L47.3 -34.3ZM40.4 -30.5L40.2 -31.4L39.9 -32.1L39.5 -32.5L39 -32.5L38.6 -32.1L38.4 -31.4L38.4 -30.5L38.6 -29.6L38.9 -28.9L39.3 -28.5L39.8 -28.5L40.1 -28.9L40.4 -29.6ZM72.5 -43.3L71.8 -45L70.7 -46.3L69.4 -47.1L68.1 -47.1L67.1 -46.3L66.6 -45L66.7 -43.3L67.3 -41.6L68.4 -40.2L69.7 -39.4L71 -39.4L72 -40.2L72.6 -41.6ZM77.3 -27L76.7 -28.8L75.7 -30.3L74.4 -31.1L73.1 -31.1L72 -30.3L71.3 -28.8L71.3 -27L71.8 -25.2L72.8 -23.8L74.1 -22.9L75.4 -22.9L76.5 -23.8L77.2 -25.2ZM83.3 -18.6L82.7 -21.1L81.7 -23L80.3 -24.1L79 -24.1L77.9 -23L77.3 -21.1L77.2 -18.6L77.7 -16.1L78.7 -14.2L80 -13.1L81.3 -13.1L82.5 -14.2L83.2 -16.1ZM78.5 -14.3L78.3 -15.6L78 -16.6L77.5 -17.1L77.1 -17.1L76.7 -16.6L76.5 -15.6L76.5 -14.3L76.7 -13.1L77 -12.1L77.5 -11.6L77.9 -11.6L78.3 -12.1L78.5 -13.1ZM88.6 -31.2L88 -33L86.9 -34.4L85.6 -35.2L84.3 -35.2L83.2 -34.4L82.7 -33L82.7 -31.2L83.3 -29.4L84.3 -27.9L85.6 -27.1L87 -27.1L88.1 -27.9L88.7 -29.4ZM108.9 -38L108.1 -39.7L106.8 -41.1L105.4 -41.9L104.2 -41.9L103.2 -41.1L102.8 -39.7L103 -38L103.7 -36.2L104.9 -34.8L106.3 -34L107.6 -34L108.6 -34.8L109 -36.2ZM115.5 -35.3L114.5 -37L112.8 -38.4L110.6 -39.2L108.4 -39.2L106.7 -38.4L105.7 -37L105.6 -35.3L106.5 -33.5L108.2 -32.1L110.4 -31.3L112.6 -31.3L114.4 -32.1L115.5 -33.5ZM110.2 -32.6L109.8 -33.4L109.1 -34.2L108.2 -34.6L107.3 -34.6L106.6 -34.2L106.3 -33.4L106.3 -32.6L106.7 -31.7L107.4 -30.9L108.3 -30.5L109.1 -30.5L109.9 -30.9L110.2 -31.7ZM111.2 -54.7L110.4 -55.7L109.2 -56.6L107.8 -57L106.6 -57L105.8 -56.6L105.4 -55.7L105.6 -54.7L106.4 -53.6L107.5 -52.8L108.9 -52.3L110.1 -52.3L111 -52.8L111.4 -53.6ZM116.5 -60.1L115.2 -61.6L113.7 -62.8L112.2 -63.4L111 -63.4L110.4 -62.8L110.4 -61.6L111 -60.1L112.2 -58.5L113.6 -57.3L115.1 -56.6L116.3 -56.6L117.1 -57.3L117.1 -58.5ZM120.2 -39.3L119.4 -41L118.4 -42.4L117.4 -43.2L116.5 -43.2L116 -42.4L115.9 -41L116.3 -39.3L117 -37.6L118 -36.2L119 -35.4L119.9 -35.4L120.4 -36.2L120.6 -37.6ZM132 -48.4L131.3 -49.3L130.2 -49.9L128.9 -50.3L127.7 -50.3L126.7 -49.9L126.2 -49.3L126.3 -48.4L127 -47.6L128.1 -46.9L129.4 -46.6L130.7 -46.6L131.6 -46.9L132.1 -47.6ZM133.3 -51.6L132.5 -52.7L131.5 -53.5L130.5 -54L129.7 -54L129.2 -53.5L129.1 -52.7L129.5 -51.6L130.3 -50.5L131.2 -49.6L132.2 -49.1L133.1 -49.1L133.6 -49.6L133.7 -50.5ZM109.6 -15.1L109.3 -16L108.8 -16.7L108.2 -17.1L107.5 -17.1L106.9 -16.7L106.6 -16L106.5 -15.1L106.7 -14.1L107.2 -13.4L107.9 -13L108.6 -13L109.1 -13.4L109.5 -14.1ZM105.3 -21.4L104.6 -23.9L103.5 -25.8L102.1 -26.9L100.7 -26.9L99.7 -25.8L99.1 -23.9L99.2 -21.4L99.8 -19L100.8 -17L102.2 -15.9L103.5 -15.9L104.7 -17L105.3 -19ZM106.1 -5L105.9 -6.3L105.5 -7.3L104.8 -7.8L104.1 -7.8L103.5 -7.3L103.2 -6.3L103 -5L103.2 -3.8L103.7 -2.8L104.3 -2.2L105 -2.2L105.6 -2.8L106 -3.8ZM118.5 12.1L118.5 11.8L118.3 11.5L117.9 11.4L117.6 11.4L117.2 11.5L117 11.8L116.9 12.1L116.9 12.4L117.1 12.6L117.5 12.8L117.8 12.8L118.2 12.6L118.4 12.4ZM129.2 -12.9L128.7 -14.5L127.9 -15.7L126.8 -16.4L125.7 -16.4L124.7 -15.7L124.2 -14.5L124.1 -12.9L124.5 -11.4L125.3 -10.1L126.3 -9.4L127.5 -9.4L128.4 -10.1L129.1 -11.4Z" fill="#aeaeae"/><path d="M-77.8 -47.2L-77.7 -48.3L-78.1 -49.2L-78.9 -49.7L-80 -49.7L-81.1 -49.2L-82 -48.3L-82.5 -47.2L-82.6 -46.1L-82.2 -45.2L-81.4 -44.7L-80.3 -44.7L-79.2 -45.2L-78.3 -46.1ZM-81.1 -47.2L-81 -48L-81.2 -48.7L-81.7 -49L-82.3 -49L-83 -48.7L-83.6 -48L-84 -47.2L-84.1 -46.3L-83.9 -45.7L-83.4 -45.3L-82.7 -45.3L-82.1 -45.7L-81.5 -46.3ZM-61.9 25.4L-62.1 24.5L-62.6 23.7L-63.3 23.3L-63.9 23.3L-64.5 23.7L-64.9 24.5L-64.9 25.4L-64.7 26.3L-64.2 27L-63.5 27.4L-62.9 27.4L-62.3 27L-62 26.3ZM-49.5 38L-49.8 37.1L-50.3 36.4L-50.9 36L-51.6 36L-52.1 36.4L-52.4 37.1L-52.5 38L-52.2 38.8L-51.7 39.5L-51.1 39.9L-50.4 39.9L-49.9 39.5L-49.6 38.8ZM5.6 -67.9L5.4 -68.4L5.1 -68.7L4.6 -68.9L4 -68.9L3.5 -68.7L3.1 -68.4L3 -67.9L3.2 -67.4L3.5 -67.1L4 -66.8L4.6 -66.8L5.1 -67.1L5.5 -67.4ZM-3.8 -45.2L-4.2 -46.9L-5.1 -48.3L-6.4 -49L-7.8 -49L-9.2 -48.3L-10.2 -46.9L-10.6 -45.2L-10.3 -43.5L-9.4 -42.2L-8 -41.4L-6.5 -41.4L-5.2 -42.2L-4.2 -43.5ZM34.6 -44.6L34.5 -45.4L34.1 -46.1L33.7 -46.5L33.3 -46.5L32.9 -46.1L32.7 -45.4L32.7 -44.6L32.9 -43.7L33.2 -43.1L33.7 -42.7L34.1 -42.7L34.4 -43.1L34.6 -43.7ZM50.9 -50.3L50.5 -50.9L49.3 -51.3L47.8 -51.6L46.1 -51.6L44.6 -51.3L43.7 -50.9L43.4 -50.3L43.8 -49.8L45 -49.4L46.5 -49.1L48.2 -49.1L49.7 -49.4L50.7 -49.8ZM80.5 -15.8L80.2 -16.7L79.8 -17.4L79.1 -17.8L78.4 -17.8L77.9 -17.4L77.5 -16.7L77.4 -15.8L77.6 -14.8L78.1 -14.1L78.7 -13.7L79.4 -13.7L80 -14.1L80.4 -14.8ZM115.9 -48.4L114.6 -50.6L112.7 -52.4L110.8 -53.3L109.1 -53.3L108.1 -52.4L107.8 -50.6L108.3 -48.4L109.5 -46.2L111.2 -44.4L113.1 -43.4L114.8 -43.4L116 -44.4L116.4 -46.2ZM112.1 -45.9L111.2 -47.6L109.9 -48.9L108.4 -49.6L107.2 -49.6L106.3 -48.9L106 -47.6L106.4 -45.9L107.2 -44.2L108.5 -42.8L109.9 -42.1L111.2 -42.1L112.1 -42.8L112.4 -44.2ZM104.3 -42L103.5 -43.7L102.2 -45L100.8 -45.8L99.5 -45.8L98.6 -45L98.2 -43.7L98.5 -42L99.2 -40.2L100.4 -38.9L101.8 -38.1L103.1 -38.1L104.1 -38.9L104.5 -40.2ZM114.2 -32.6L113.8 -33.4L113.1 -34.2L112.2 -34.6L111.3 -34.6L110.6 -34.2L110.2 -33.4L110.2 -32.6L110.6 -31.7L111.4 -30.9L112.2 -30.5L113.1 -30.5L113.8 -30.9L114.2 -31.7ZM115.3 -56.5L114.5 -57.5L113.4 -58.4L112.3 -58.8L111.2 -58.8L110.6 -58.4L110.4 -57.5L110.7 -56.5L111.5 -55.5L112.6 -54.6L113.7 -54.1L114.7 -54.1L115.4 -54.6L115.6 -55.5ZM121.7 -50.3L121 -51.4L120.2 -52.3L119.4 -52.8L118.8 -52.8L118.5 -52.3L118.5 -51.4L118.8 -50.3L119.5 -49.3L120.3 -48.4L121 -47.9L121.7 -47.9L122 -48.4L122 -49.3ZM127 -45.9L126.6 -46.4L126 -46.9L125.3 -47.1L124.7 -47.1L124.2 -46.9L124 -46.4L124.1 -45.9L124.5 -45.3L125.1 -44.9L125.7 -44.6L126.4 -44.6L126.9 -44.9L127.1 -45.3ZM120.8 -33.2L120.5 -33.9L120.2 -34.5L119.8 -34.8L119.4 -34.8L119.2 -34.5L119.1 -33.9L119.2 -33.2L119.5 -32.5L119.8 -32L120.2 -31.6L120.6 -31.6L120.8 -32L120.9 -32.5ZM107.6 -28.4L107.2 -29.6L106.6 -30.6L105.9 -31.1L105.3 -31.1L104.8 -30.6L104.5 -29.6L104.6 -28.4L105 -27.2L105.6 -26.3L106.3 -25.7L107 -25.7L107.5 -26.3L107.7 -27.2ZM124 -21.4L123.6 -23L122.9 -24.2L122.2 -24.9L121.5 -24.9L121.1 -24.2L120.8 -23L120.9 -21.4L121.3 -19.9L121.9 -18.7L122.6 -18L123.3 -18L123.8 -18.7L124.1 -19.9ZM29 36.6L28.9 35.8L28.6 35L28 34.7L27.4 34.7L26.7 35L26.3 35.8L26.1 36.6L26.2 37.5L26.5 38.2L27.1 38.6L27.7 38.6L28.4 38.2L28.8 37.5Z" fill="#c5c5c5"/><path d="M32 -42.6L31.7 -43.5L31.1 -44.2L30.3 -44.5L29.4 -44.5L28.7 -44.2L28.2 -43.5L28.1 -42.6L28.3 -41.8L28.9 -41.1L29.7 -40.7L30.6 -40.7L31.4 -41.1L31.8 -41.8ZM91.1 -33.9L90.7 -35.1L89.9 -36L89 -36.6L88.1 -36.6L87.5 -36L87.1 -35.1L87.1 -33.9L87.6 -32.7L88.3 -31.8L89.2 -31.3L90.1 -31.3L90.8 -31.8L91.1 -32.7ZM111.5 -51L110.8 -52.1L109.7 -52.9L108.6 -53.4L107.6 -53.4L106.8 -52.9L106.6 -52.1L106.8 -51L107.5 -49.9L108.5 -49L109.6 -48.5L110.7 -48.5L111.4 -49L111.7 -49.9ZM116 -45.9L115.3 -47L114.4 -47.9L113.5 -48.4L112.6 -48.4L112.1 -47.9L111.9 -47L112.1 -45.9L112.7 -44.8L113.6 -43.9L114.5 -43.3L115.4 -43.3L116 -43.9L116.2 -44.8ZM116.6 10.3L116.2 9.7L115.1 9.2L113.5 8.9L111.7 8.9L110 9.2L108.9 9.7L108.4 10.3L108.8 11L109.9 11.5L111.5 11.7L113.3 11.7L115 11.5L116.2 11Z" fill="#dcdcdc"/></g></g>
<use href="#grl"/><use href="#grd"/>
<use href="#bord"/>
<use href="#gl" fill="#8d9393"/><use href="#glg" fill="#45875c"/><use href="#ice" fill="#bfc2b9"/>
<use href="#land" fill="none" stroke="#3e4a3b" stroke-width="0.55" stroke-opacity="0.9"/>
<use href="#dkl"/>
<use href="#frame" fill="none" stroke="#a4a4a4" stroke-width="1.2"/>
</g>
<text x="20.7" y="651.8" class="lb">Chicken</text>
<g transform="translate(582.6 628.5)">
<use href="#frame" fill="#fff"/>
<use href="#grat"/>
<use href="#land" fill="#fffbe6"/>
<g clip-path="url(#lc)"><g filter="url(#fDucks)"><rect x="-190" y="-100" width="380" height="180" fill="#000"/><path d="M-40.5 21.4L-43 6L-48.7 -6.5L-56.7 -13.5L-65.8 -13.5L-74.3 -6.5L-80 6L-81 21.4L-76.8 36.4L-69 47.9L-59.9 53.9L-51.6 53.9L-45.2 47.9L-41.3 36.4ZM-96.6 -31.2L-96.5 -34.2L-97.3 -36.5L-99 -37.8L-101.2 -37.8L-103.5 -36.5L-105.4 -34.2L-106.6 -31.2L-106.7 -28.2L-105.7 -25.8L-103.9 -24.4L-101.7 -24.4L-99.4 -25.8L-97.7 -28.2ZM46.1 -7.2L43.1 -19.6L35.6 -29.3L25.3 -34.6L14.3 -34.6L4.4 -29.3L-2.6 -19.6L-5.1 -7.2L-2.6 5.3L4.5 15.3L14.6 20.7L25.9 20.7L36.3 15.3L43.6 5.3ZM93.8 -35.3L90.9 -41.1L85.7 -45.6L79.2 -48.1L72.9 -48.1L67.8 -45.6L64.7 -41.1L64.2 -35.3L66.5 -29.3L71.2 -24.5L77.6 -21.8L84.3 -21.8L90 -24.5L93.5 -29.3Z" fill="#232323"/><path d="M10.2 -12.9L9.9 -14.8L9 -16.3L7.8 -17.1L6.4 -17.1L5.2 -16.3L4.4 -14.8L4.1 -12.9L4.4 -11.1L5.2 -9.6L6.5 -8.7L7.9 -8.7L9.1 -9.6L9.9 -11.1ZM82 -21.4L81.3 -24.5L80.2 -26.9L78.8 -28.3L77.4 -28.3L76.4 -26.9L75.9 -24.5L75.9 -21.4L76.5 -18.4L77.5 -15.9L78.9 -14.5L80.2 -14.5L81.3 -15.9L82 -18.4ZM83.4 -38L82.7 -39.1L81.4 -40.1L79.8 -40.6L78 -40.6L76.6 -40.1L75.7 -39.1L75.5 -38L76.1 -36.8L77.4 -35.9L79.1 -35.3L80.8 -35.3L82.3 -35.9L83.2 -36.8Z" fill="#3a3a3a"/><path d="M117.9 -43.3L115.1 -48.3L111 -52.3L106.7 -54.4L103 -54.4L100.5 -52.3L99.7 -48.3L100.5 -43.3L102.8 -38.1L106.4 -33.9L110.5 -31.5L114.5 -31.5L117.5 -33.9L118.7 -38.1ZM98.6 -25.6L98.1 -27.5L97.3 -28.9L96.3 -29.7L95.4 -29.7L94.8 -28.9L94.5 -27.5L94.6 -25.6L95 -23.8L95.8 -22.4L96.7 -21.5L97.6 -21.5L98.3 -22.4L98.7 -23.8ZM106.1 -4.3L106 -5.6L105.5 -6.6L104.8 -7.1L104.2 -7.1L103.6 -6.6L103.2 -5.6L103.1 -4.3L103.2 -3.1L103.7 -2.1L104.3 -1.5L105 -1.5L105.6 -2.1L106 -3.1ZM105.7 0L105.4 -1.9L104.5 -3.4L103.2 -4.2L101.9 -4.2L100.7 -3.4L99.8 -1.9L99.5 0L99.8 1.9L100.7 3.4L101.9 4.2L103.2 4.2L104.5 3.4L105.4 1.9ZM4.4 -62.9L4.2 -63.9L3.4 -64.7L2.3 -65.1L1.2 -65.1L0.1 -64.7L-0.6 -63.9L-0.9 -62.9L-0.6 -61.9L0.1 -61.1L1.2 -60.7L2.4 -60.7L3.5 -61.1L4.2 -61.9ZM18.9 -68.4L18.5 -69.3L17.7 -70.1L16.6 -70.5L15.5 -70.5L14.5 -70.1L13.9 -69.3L13.7 -68.4L14.1 -67.5L14.9 -66.7L16 -66.3L17.1 -66.3L18.1 -66.7L18.7 -67.5ZM30.7 -65.2L30.1 -66.1L29 -66.9L27.6 -67.3L26 -67.3L24.7 -66.9L23.9 -66.1L23.7 -65.2L24.2 -64.2L25.3 -63.4L26.7 -63L28.3 -63L29.7 -63.4L30.5 -64.2ZM49.2 27L49.2 24.6L48.7 22.7L48 21.6L47.1 21.6L46.2 22.7L45.5 24.6L45.2 27L45.2 29.4L45.6 31.4L46.3 32.4L47.1 32.4L48 31.4L48.8 29.4Z" fill="#515151"/><path d="M113.3 -55.9L112.6 -56.9L111.6 -57.8L110.7 -58.2L109.9 -58.2L109.4 -57.8L109.3 -56.9L109.7 -55.9L110.4 -54.8L111.3 -54L112.3 -53.5L113.1 -53.5L113.6 -54L113.7 -54.8ZM117.4 -42L115.5 -45.4L112.6 -48.1L109.3 -49.5L106.4 -49.5L104.3 -48.1L103.4 -45.4L103.8 -42L105.5 -38.5L108.1 -35.7L111.3 -34.1L114.4 -34.1L116.7 -35.7L117.8 -38.5ZM111.8 -38L110.9 -39.7L109.4 -41.1L107.6 -41.9L105.9 -41.9L104.5 -41.1L103.9 -39.7L104 -38L104.8 -36.2L106.2 -34.8L108 -34L109.8 -34L111.2 -34.8L111.9 -36.2ZM93.5 -36.6L93.2 -37.2L92.5 -37.7L91.7 -37.9L90.8 -37.9L90.1 -37.7L89.6 -37.2L89.5 -36.6L89.9 -36L90.5 -35.6L91.4 -35.3L92.2 -35.3L93 -35.6L93.4 -36ZM104.2 -21.4L103.8 -23.3L103 -24.7L102.1 -25.5L101.2 -25.5L100.5 -24.7L100.1 -23.3L100.2 -21.4L100.6 -19.6L101.4 -18.1L102.3 -17.3L103.2 -17.3L103.9 -18.1L104.3 -19.6ZM107.8 -17.2L107.5 -18.4L106.8 -19.4L105.9 -20L105 -20L104.3 -19.4L103.8 -18.4L103.7 -17.2L104.1 -16L104.7 -15L105.6 -14.4L106.5 -14.4L107.3 -15L107.7 -16ZM124 -21.4L123.6 -22.7L123 -23.6L122.3 -24.2L121.7 -24.2L121.1 -23.6L120.9 -22.7L120.9 -21.4L121.3 -20.2L121.9 -19.2L122.5 -18.7L123.2 -18.7L123.7 -19.2L124 -20.2ZM122 -49.7L121.4 -50.5L120.7 -51.2L120 -51.6L119.4 -51.6L119 -51.2L118.9 -50.5L119.1 -49.7L119.6 -48.9L120.3 -48.2L121 -47.9L121.7 -47.9L122.1 -48.2L122.2 -48.9ZM18.7 -62.9L18.4 -63.4L17.9 -63.8L17.2 -64L16.4 -64L15.7 -63.8L15.2 -63.4L15.1 -62.9L15.3 -62.4L15.9 -62L16.6 -61.8L17.4 -61.8L18.1 -62L18.5 -62.4Z" fill="#686868"/><path d="M112.7 -53.5L112.1 -54.3L111.3 -54.9L110.4 -55.3L109.6 -55.3L109 -54.9L108.8 -54.3L109 -53.5L109.5 -52.7L110.3 -52L111.2 -51.6L112.1 -51.6L112.7 -52L112.9 -52.7ZM115.3 -39.3L114.8 -40.5L113.9 -41.4L113 -41.9L112.1 -41.9L111.5 -41.4L111.3 -40.5L111.4 -39.3L111.9 -38.2L112.8 -37.2L113.7 -36.7L114.6 -36.7L115.2 -37.2L115.5 -38.2ZM108.9 -33.9L108.4 -35.1L107.7 -36L106.7 -36.6L105.9 -36.6L105.2 -36L104.9 -35.1L105 -33.9L105.4 -32.7L106.2 -31.8L107.1 -31.3L108 -31.3L108.7 -31.8L109 -32.7ZM108.3 -45.9L107.8 -46.7L107 -47.4L106.1 -47.8L105.3 -47.8L104.6 -47.4L104.4 -46.7L104.5 -45.9L104.9 -45L105.7 -44.4L106.6 -44L107.5 -44L108.1 -44.4L108.4 -45ZM114.2 -32.6L113.8 -33.4L113.1 -34.2L112.2 -34.6L111.3 -34.6L110.6 -34.2L110.2 -33.4L110.2 -32.6L110.6 -31.7L111.4 -30.9L112.2 -30.5L113.1 -30.5L113.8 -30.9L114.2 -31.7ZM118.8 -42L118.4 -42.8L117.7 -43.5L117 -43.9L116.4 -43.9L115.9 -43.5L115.8 -42.8L115.9 -42L116.4 -41.1L117 -40.4L117.7 -40L118.3 -40L118.8 -40.4L119 -41.1ZM120.8 -33.2L120.5 -33.9L120.2 -34.5L119.8 -34.8L119.4 -34.8L119.2 -34.5L119.1 -33.9L119.2 -33.2L119.5 -32.5L119.8 -32L120.2 -31.6L120.6 -31.6L120.8 -32L120.9 -32.5ZM0.9 -62.4L0.8 -63.4L0.4 -64.1L-0.1 -64.6L-0.7 -64.6L-1.3 -64.1L-1.6 -63.4L-1.8 -62.4L-1.7 -61.4L-1.3 -60.6L-0.8 -60.1L-0.2 -60.1L0.4 -60.6L0.8 -61.4ZM31 -42L30.9 -42.8L30.5 -43.5L30.1 -43.9L29.7 -43.9L29.3 -43.5L29.1 -42.8L29.1 -42L29.3 -41.1L29.6 -40.4L30 -40L30.5 -40L30.8 -40.4L31 -41.1Z" fill="#808080"/><path d="M113.5 -49.7L112.9 -50.5L112.1 -51.2L111.2 -51.6L110.4 -51.6L109.8 -51.2L109.5 -50.5L109.7 -49.7L110.2 -48.9L111 -48.2L111.9 -47.9L112.7 -47.9L113.4 -48.2L113.6 -48.9ZM102.8 -42L102.4 -42.8L101.6 -43.5L100.7 -43.9L99.9 -43.9L99.2 -43.5L98.9 -42.8L98.9 -42L99.4 -41.1L100.1 -40.4L101 -40L101.9 -40L102.5 -40.4L102.9 -41.1ZM114 -45.9L113.3 -47L112.2 -47.9L110.8 -48.4L109.6 -48.4L108.6 -47.9L108.2 -47L108.3 -45.9L109 -44.8L110.1 -43.9L111.4 -43.3L112.7 -43.3L113.7 -43.9L114.2 -44.8ZM91.1 -33.9L90.7 -35.1L89.9 -36L89 -36.6L88.1 -36.6L87.5 -36L87.1 -35.1L87.1 -33.9L87.6 -32.7L88.3 -31.8L89.2 -31.3L90.1 -31.3L90.8 -31.8L91.1 -32.7ZM107.6 -28.4L107.2 -29.6L106.6 -30.6L105.9 -31.1L105.3 -31.1L104.8 -30.6L104.5 -29.6L104.6 -28.4L105 -27.2L105.6 -26.3L106.3 -25.7L107 -25.7L107.5 -26.3L107.7 -27.2ZM109.1 -14.3L108.9 -15.3L108.4 -16L107.7 -16.4L107.1 -16.4L106.5 -16L106.1 -15.3L106.1 -14.3L106.3 -13.4L106.8 -12.7L107.4 -12.3L108.1 -12.3L108.7 -12.7L109.1 -13.4ZM116.6 10.3L116.2 9.7L115.1 9.2L113.5 8.9L111.7 8.9L110 9.2L108.9 9.7L108.4 10.3L108.8 11L109.9 11.5L111.5 11.7L113.3 11.7L115 11.5L116.2 11Z" fill="#979797"/></g></g>
<use href="#grl"/><use href="#grd"/>
<use href="#bord"/>
<use href="#gl" fill="#8d9393"/><use href="#glg" fill="#45875c"/><use href="#ice" fill="#bfc2b9"/>
<use href="#land" fill="none" stroke="#3e4a3b" stroke-width="0.55" stroke-opacity="0.9"/>
<use href="#dkl"/>
<use href="#frame" fill="none" stroke="#a4a4a4" stroke-width="1.2"/>
</g>
<text x="412.4" y="651.8" class="lb">Ducks</text>
<text x="801.6" y="13.8" class="lg" font-size="16.7">Cattle, buffaloes,</text>
<text x="801.6" y="33.5" class="lg" font-size="16.7">Sheep &amp; goats</text>
<rect x="802.8" y="44.6" width="9.6" height="7.4" fill="#fff8d2" stroke="#d2cbb4" stroke-width="0.5"/>
<text x="824" y="53" class="lg" font-size="13">[0,1)</text>
<rect x="802.8" y="60.2" width="9.6" height="7.4" fill="#fdedb5" stroke="#d2cbb4" stroke-width="0.5"/>
<text x="824" y="68.6" class="lg" font-size="13">[1,5)</text>
<rect x="802.8" y="75.8" width="9.6" height="7.4" fill="#fdc681" stroke="#d2cbb4" stroke-width="0.5"/>
<text x="824" y="84.2" class="lg" font-size="13">[5,10)</text>
<rect x="802.8" y="91.3" width="9.6" height="7.4" fill="#f98f45" stroke="#d2cbb4" stroke-width="0.5"/>
<text x="824" y="99.7" class="lg" font-size="13">[10,20)</text>
<rect x="802.8" y="106.9" width="9.6" height="7.4" fill="#ec5326" stroke="#d2cbb4" stroke-width="0.5"/>
<text x="824" y="115.3" class="lg" font-size="13">[20,50)</text>
<rect x="802.8" y="122.5" width="9.6" height="7.4" fill="#d21f21" stroke="#d2cbb4" stroke-width="0.5"/>
<text x="824" y="130.9" class="lg" font-size="13">[50,100)</text>
<rect x="802.8" y="138.1" width="9.6" height="7.4" fill="#9e111f" stroke="#d2cbb4" stroke-width="0.5"/>
<text x="824" y="146.5" class="lg" font-size="13">[100,250)</text>
<rect x="802.8" y="153.7" width="9.6" height="7.4" fill="#660a17" stroke="#d2cbb4" stroke-width="0.5"/>
<text x="824" y="162.1" class="lg" font-size="13">[250,1e+06]</text>
<text x="801.7" y="199.2" class="lg" font-size="16.7">Horses</text>
<rect x="802.8" y="209.1" width="9.6" height="7.4" fill="#fff8d2" stroke="#d2cbb4" stroke-width="0.5"/>
<text x="824" y="217.5" class="lg" font-size="13">[0,1)</text>
<rect x="802.8" y="224.6" width="9.6" height="7.4" fill="#fdedb5" stroke="#d2cbb4" stroke-width="0.5"/>
<text x="824" y="232.9" class="lg" font-size="13">[1,2)</text>
<rect x="802.8" y="240" width="9.6" height="7.4" fill="#fdc681" stroke="#d2cbb4" stroke-width="0.5"/>
<text x="824" y="248.4" class="lg" font-size="13">[2,4)</text>
<rect x="802.8" y="255.4" width="9.6" height="7.4" fill="#f98f45" stroke="#d2cbb4" stroke-width="0.5"/>
<text x="824" y="263.8" class="lg" font-size="13">[4,8)</text>
<rect x="802.8" y="270.9" width="9.6" height="7.4" fill="#ec5326" stroke="#d2cbb4" stroke-width="0.5"/>
<text x="824" y="279.3" class="lg" font-size="13">[8,16)</text>
<rect x="802.8" y="286.4" width="9.6" height="7.4" fill="#d21f21" stroke="#d2cbb4" stroke-width="0.5"/>
<text x="824" y="294.8" class="lg" font-size="13">[16,32)</text>
<rect x="802.8" y="301.8" width="9.6" height="7.4" fill="#9e111f" stroke="#d2cbb4" stroke-width="0.5"/>
<text x="824" y="310.2" class="lg" font-size="13">[32,64)</text>
<rect x="802.8" y="317.2" width="9.6" height="7.4" fill="#660a17" stroke="#d2cbb4" stroke-width="0.5"/>
<text x="824" y="325.6" class="lg" font-size="13">[64,1e+06]</text>
<text x="801.5" y="364.9" class="lg" font-size="16.7">Pigs</text>
<rect x="801.4" y="375.9" width="9.6" height="7.4" fill="#fff8d2" stroke="#d2cbb4" stroke-width="0.5"/>
<text x="822.3" y="384.3" class="lg" font-size="13">[0,1)</text>
<rect x="801.4" y="391.3" width="9.6" height="7.4" fill="#fdedb5" stroke="#d2cbb4" stroke-width="0.5"/>
<text x="822.3" y="399.7" class="lg" font-size="13">[1,5)</text>
<rect x="801.4" y="406.7" width="9.6" height="7.4" fill="#fdc681" stroke="#d2cbb4" stroke-width="0.5"/>
<text x="822.3" y="415.1" class="lg" font-size="13">[5,10)</text>
<rect x="801.4" y="422.1" width="9.6" height="7.4" fill="#f98f45" stroke="#d2cbb4" stroke-width="0.5"/>
<text x="822.3" y="430.5" class="lg" font-size="13">[10,20)</text>
<rect x="801.4" y="437.5" width="9.6" height="7.4" fill="#ec5326" stroke="#d2cbb4" stroke-width="0.5"/>
<text x="822.3" y="445.9" class="lg" font-size="13">[20,50)</text>
<rect x="801.4" y="452.9" width="9.6" height="7.4" fill="#d21f21" stroke="#d2cbb4" stroke-width="0.5"/>
<text x="822.3" y="461.3" class="lg" font-size="13">[50,100)</text>
<rect x="801.4" y="468.3" width="9.6" height="7.4" fill="#9e111f" stroke="#d2cbb4" stroke-width="0.5"/>
<text x="822.3" y="476.7" class="lg" font-size="13">[100,250)</text>
<rect x="801.4" y="483.7" width="9.6" height="7.4" fill="#660a17" stroke="#d2cbb4" stroke-width="0.5"/>
<text x="822.3" y="492.1" class="lg" font-size="13">[250,1e+06]</text>
<text x="797" y="528.8" class="lg" font-size="16.7">Chicken &amp; ducks</text>
<rect x="803.4" y="542.5" width="9.6" height="7.4" fill="#fffcee" stroke="#d2cbb4" stroke-width="0.5"/>
<text x="824.5" y="550.9" class="lg" font-size="13">[0,1)</text>
<rect x="803.4" y="558" width="9.6" height="7.4" fill="#fff8d4" stroke="#d2cbb4" stroke-width="0.5"/>
<text x="824.5" y="566.4" class="lg" font-size="13">[1,25)</text>
<rect x="803.4" y="573.5" width="9.6" height="7.4" fill="#fff0b4" stroke="#d2cbb4" stroke-width="0.5"/>
<text x="824.5" y="581.9" class="lg" font-size="13">[25,50)</text>
<rect x="803.4" y="588.9" width="9.6" height="7.4" fill="#fdd68e" stroke="#d2cbb4" stroke-width="0.5"/>
<text x="824.5" y="597.3" class="lg" font-size="13">[50,100)</text>
<rect x="803.4" y="604.4" width="9.6" height="7.4" fill="#fbad65" stroke="#d2cbb4" stroke-width="0.5"/>
<text x="824.5" y="612.8" class="lg" font-size="13">[100,250)</text>
<rect x="803.4" y="619.9" width="9.6" height="7.4" fill="#f78945" stroke="#d2cbb4" stroke-width="0.5"/>
<text x="824.5" y="628.3" class="lg" font-size="13">[250,500)</text>
<rect x="803.4" y="635.4" width="9.6" height="7.4" fill="#ee6232" stroke="#d2cbb4" stroke-width="0.5"/>
<text x="824.5" y="643.8" class="lg" font-size="13">[500,1000)</text>
<rect x="803.4" y="650.9" width="9.6" height="7.4" fill="#db3928" stroke="#d2cbb4" stroke-width="0.5"/>
<text x="824.5" y="659.3" class="lg" font-size="13">[1000,2500)</text>
<rect x="803.4" y="666.3" width="9.6" height="7.4" fill="#c0201f" stroke="#d2cbb4" stroke-width="0.5"/>
<text x="824.5" y="674.7" class="lg" font-size="13">[2500,5000)</text>
<rect x="803.4" y="681.8" width="9.6" height="7.4" fill="#9b121c" stroke="#d2cbb4" stroke-width="0.5"/>
<text x="824.5" y="690.2" class="lg" font-size="13">[5000,10000)</text>
<rect x="803.4" y="697.3" width="9.6" height="7.4" fill="#6a0a15" stroke="#d2cbb4" stroke-width="0.5"/>
<text x="824.5" y="705.7" class="lg" font-size="13">[10000,1e+06]</text>
</svg>
</body></html>
